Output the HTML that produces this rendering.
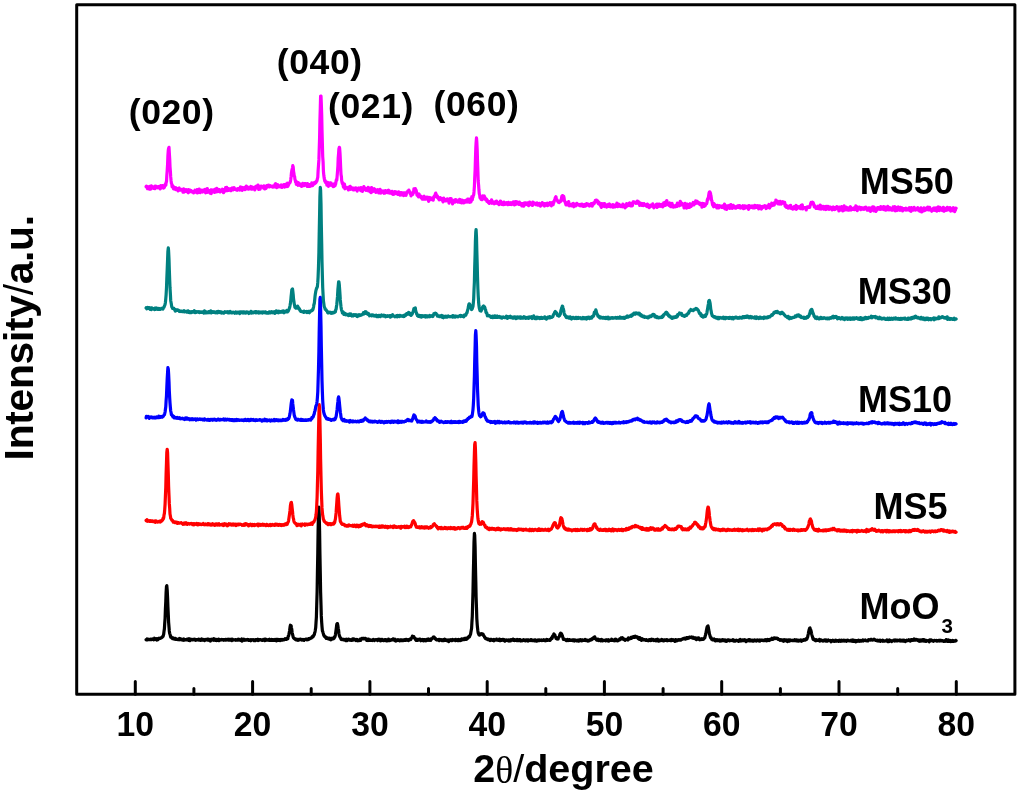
<!DOCTYPE html>
<html><head><meta charset="utf-8"><style>
html,body{margin:0;padding:0;background:#fff;}
svg{display:block;filter:blur(0.35px);}
text{font-family:"Liberation Sans",Arial,sans-serif;font-weight:bold;fill:#000;}
</style></head><body>
<svg width="1020" height="793" viewBox="0 0 1020 793">
<rect width="1020" height="793" fill="#fff"/>
<g fill="none" stroke-linejoin="round" stroke-linecap="round">
<path d="M146.1 639.6L146.4 639.8L146.8 639.6L147.1 638.9L147.5 639.8L147.8 639.6L148.2 639.2L148.6 639.7L148.9 639.6L149.3 639.6L149.6 639.4L150.0 639.6L150.3 639.1L150.7 639.3L151.0 639.2L151.4 639.6L151.7 639.4L152.1 639.3L152.4 639.0L152.8 639.2L153.1 639.3L153.5 639.2L153.8 639.8L154.2 639.7L154.5 638.2L154.9 638.5L155.2 639.2L155.6 639.0L155.9 639.3L156.3 639.2L156.6 640.0L157.0 638.6L157.3 638.9L157.7 639.8L158.1 639.2L158.4 639.2L158.8 638.6L159.1 638.1L159.5 638.7L159.8 638.6L160.2 638.0L160.5 638.1L160.9 638.1L161.2 637.6L161.6 637.7L161.9 637.5L162.3 637.2L162.6 636.5L163.0 636.4L163.3 635.6L163.7 634.0L164.0 631.4L164.4 628.8L164.7 623.7L165.1 618.0L165.4 609.4L165.8 601.4L166.1 592.5L166.5 586.2L166.8 585.7L167.2 590.2L167.6 598.2L167.9 606.5L168.3 614.8L168.6 622.1L169.0 627.0L169.3 630.9L169.7 633.6L170.0 634.2L170.4 636.0L170.7 637.1L171.1 637.0L171.4 637.1L171.8 638.0L172.1 638.1L172.5 638.5L172.8 638.2L173.2 637.9L173.5 638.5L173.9 638.5L174.2 639.1L174.6 638.9L174.9 638.3L175.3 638.5L175.6 639.4L176.0 639.4L176.4 638.9L176.7 639.2L177.1 639.4L177.4 639.4L177.8 639.6L178.1 639.4L178.5 639.3L178.8 639.3L179.2 639.8L179.5 638.5L179.9 639.4L180.2 639.4L180.6 638.9L180.9 639.6L181.3 639.2L181.6 639.8L182.0 639.5L182.3 639.8L182.7 640.0L183.0 639.7L183.4 639.2L183.7 638.9L184.1 640.3L184.4 639.5L184.8 639.3L185.1 639.6L185.5 639.5L185.9 639.9L186.2 639.6L186.6 639.6L186.9 639.3L187.3 639.8L187.6 639.2L188.0 639.9L188.3 640.2L188.7 639.0L189.0 638.7L189.4 639.9L189.7 640.7L190.1 639.3L190.4 639.2L190.8 639.9L191.1 639.3L191.5 639.5L191.8 639.5L192.2 639.9L192.5 639.5L192.9 639.8L193.2 639.6L193.6 639.4L193.9 639.6L194.3 639.3L194.6 639.7L195.0 639.3L195.4 639.3L195.7 640.3L196.1 639.7L196.4 639.7L196.8 639.9L197.1 639.6L197.5 639.6L197.8 639.9L198.2 639.8L198.5 639.3L198.9 640.1L199.2 639.5L199.6 639.3L199.9 639.4L200.3 639.6L200.6 640.4L201.0 639.3L201.3 639.8L201.7 638.9L202.0 639.8L202.4 640.1L202.7 639.7L203.1 639.5L203.4 639.9L203.8 640.1L204.1 640.0L204.5 640.6L204.9 639.9L205.2 639.5L205.6 639.7L205.9 639.8L206.3 639.8L206.6 639.8L207.0 639.9L207.3 639.1L207.7 640.1L208.0 639.6L208.4 639.3L208.7 640.1L209.1 640.3L209.4 640.0L209.8 639.9L210.1 639.4L210.5 641.0L210.8 640.2L211.2 639.4L211.5 639.5L211.9 639.8L212.2 639.2L212.6 639.9L212.9 639.6L213.3 640.3L213.6 640.2L214.0 638.7L214.4 639.8L214.7 639.2L215.1 640.3L215.4 639.9L215.8 640.1L216.1 639.4L216.5 640.6L216.8 640.6L217.2 639.4L217.5 640.0L217.9 639.6L218.2 639.8L218.6 639.3L218.9 640.6L219.3 639.5L219.6 639.7L220.0 640.1L220.3 639.6L220.7 639.8L221.0 639.6L221.4 639.8L221.7 639.4L222.1 639.7L222.4 639.8L222.8 639.7L223.1 639.9L223.5 639.7L223.9 640.2L224.2 639.7L224.6 639.8L224.9 639.6L225.3 639.7L225.6 639.4L226.0 640.1L226.3 639.4L226.7 639.6L227.0 640.0L227.4 640.0L227.7 639.7L228.1 639.1L228.4 640.1L228.8 640.0L229.1 639.3L229.5 640.2L229.8 639.6L230.2 639.4L230.5 639.9L230.9 639.8L231.2 640.0L231.6 639.3L231.9 640.6L232.3 639.7L232.6 639.3L233.0 640.1L233.4 639.8L233.7 640.0L234.1 639.8L234.4 639.9L234.8 640.0L235.1 639.6L235.5 640.2L235.8 639.7L236.2 639.6L236.5 639.9L236.9 640.1L237.2 639.8L237.6 639.6L237.9 640.2L238.3 639.2L238.6 639.5L239.0 639.9L239.3 639.4L239.7 639.9L240.0 639.9L240.4 640.3L240.7 639.6L241.1 639.7L241.4 640.1L241.8 638.9L242.1 641.2L242.5 639.7L242.9 639.6L243.2 640.3L243.6 639.9L243.9 639.2L244.3 640.2L244.6 640.3L245.0 639.8L245.3 639.8L245.7 640.1L246.0 639.6L246.4 640.1L246.7 640.0L247.1 639.7L247.4 639.4L247.8 639.9L248.1 639.6L248.5 640.4L248.8 640.0L249.2 640.3L249.5 640.0L249.9 640.1L250.2 639.6L250.6 640.2L250.9 640.7L251.3 639.8L251.6 639.7L252.0 639.9L252.4 639.8L252.7 639.7L253.1 640.0L253.4 639.8L253.8 640.5L254.1 640.0L254.5 640.1L254.8 640.3L255.2 639.8L255.5 640.5L255.9 639.7L256.2 639.6L256.6 639.8L256.9 639.9L257.3 639.4L257.6 640.0L258.0 639.3L258.3 640.5L258.7 639.9L259.0 639.7L259.4 639.6L259.7 639.8L260.1 639.9L260.4 639.6L260.8 639.6L261.1 639.9L261.5 639.8L261.9 640.4L262.2 640.4L262.6 640.0L262.9 640.2L263.3 639.4L263.6 640.2L264.0 640.0L264.3 640.2L264.7 640.6L265.0 639.1L265.4 640.1L265.7 639.5L266.1 640.2L266.4 639.5L266.8 639.8L267.1 640.1L267.5 640.2L267.8 640.0L268.2 639.7L268.5 639.8L268.9 640.3L269.2 640.0L269.6 639.3L269.9 640.3L270.3 640.1L270.6 640.3L271.0 639.8L271.4 640.3L271.7 639.5L272.1 640.2L272.4 639.8L272.8 640.2L273.1 640.4L273.5 639.7L273.8 639.9L274.2 640.0L274.5 640.4L274.9 640.2L275.2 639.5L275.6 640.1L275.9 640.2L276.3 640.8L276.6 639.3L277.0 639.7L277.3 640.5L277.7 639.4L278.0 639.4L278.4 640.1L278.7 640.3L279.1 639.6L279.4 640.1L279.8 639.9L280.1 640.5L280.5 639.9L280.9 640.2L281.2 639.5L281.6 639.7L281.9 639.8L282.3 640.2L282.6 640.0L283.0 639.4L283.3 640.0L283.7 640.0L284.0 639.6L284.4 639.5L284.7 639.5L285.1 638.8L285.4 639.5L285.8 639.5L286.1 638.9L286.5 639.4L286.8 638.4L287.2 638.5L287.5 638.1L287.9 638.5L288.2 636.2L288.6 635.8L288.9 634.4L289.3 632.2L289.6 630.4L290.0 627.4L290.4 625.2L290.7 625.8L291.1 625.6L291.4 627.6L291.8 629.4L292.1 632.5L292.5 634.3L292.8 635.3L293.2 637.1L293.5 637.7L293.9 638.2L294.2 638.6L294.6 638.8L294.9 639.3L295.3 639.3L295.6 639.1L296.0 639.8L296.3 639.2L296.7 639.6L297.0 639.7L297.4 640.1L297.7 639.3L298.1 640.3L298.4 639.7L298.8 639.5L299.1 639.3L299.5 639.8L299.9 639.6L300.2 639.2L300.6 639.2L300.9 639.4L301.3 639.3L301.6 640.0L302.0 640.1L302.3 639.9L302.7 639.7L303.0 639.4L303.4 639.6L303.7 639.9L304.1 640.3L304.4 639.8L304.8 639.3L305.1 639.4L305.5 639.2L305.8 639.0L306.2 639.2L306.5 639.3L306.9 639.9L307.2 639.2L307.6 639.6L307.9 639.7L308.3 639.0L308.6 639.5L309.0 639.1L309.4 638.5L309.7 638.7L310.1 638.5L310.4 638.2L310.8 638.1L311.1 638.1L311.5 638.0L311.8 637.2L312.2 637.3L312.5 636.4L312.9 636.8L313.2 636.5L313.6 635.8L313.9 635.2L314.3 634.6L314.6 633.1L315.0 631.9L315.3 630.3L315.7 627.6L316.0 622.8L316.4 616.8L316.7 605.7L317.1 592.1L317.4 574.1L317.8 552.5L318.1 530.7L318.5 513.4L318.9 507.2L319.2 514.3L319.6 531.1L319.9 552.6L320.3 573.5L320.6 591.9L321.0 604.8L321.3 615.9L321.7 622.7L322.0 626.6L322.4 630.9L322.7 631.4L323.1 632.9L323.4 633.8L323.8 635.5L324.1 635.3L324.5 636.4L324.8 636.8L325.2 637.1L325.5 636.7L325.9 637.3L326.2 638.4L326.6 637.4L326.9 637.8L327.3 638.2L327.6 638.7L328.0 638.6L328.4 638.9L328.7 638.2L329.1 639.1L329.4 639.0L329.8 638.2L330.1 639.5L330.5 639.8L330.8 638.6L331.2 638.9L331.5 639.5L331.9 638.3L332.2 638.1L332.6 638.3L332.9 638.5L333.3 638.4L333.6 638.7L334.0 638.3L334.3 637.2L334.7 637.2L335.0 636.6L335.4 634.8L335.7 632.7L336.1 629.8L336.4 627.5L336.8 624.3L337.1 623.7L337.5 623.7L337.9 625.9L338.2 628.3L338.6 630.3L338.9 633.2L339.3 635.6L339.6 636.1L340.0 637.3L340.3 637.8L340.7 638.0L341.0 639.2L341.4 639.6L341.7 639.5L342.1 639.4L342.4 639.4L342.8 639.6L343.1 639.2L343.5 639.9L343.8 640.0L344.2 640.0L344.5 639.5L344.9 639.8L345.2 639.7L345.6 640.5L345.9 639.9L346.3 639.1L346.6 640.0L347.0 640.6L347.4 640.1L347.7 640.2L348.1 639.9L348.4 639.1L348.8 639.2L349.1 639.4L349.5 639.9L349.8 640.1L350.2 640.2L350.5 639.8L350.9 640.4L351.2 639.9L351.6 639.7L351.9 640.3L352.3 639.6L352.6 638.9L353.0 639.6L353.3 640.0L353.7 638.8L354.0 639.9L354.4 639.9L354.7 639.4L355.1 639.4L355.4 639.8L355.8 639.8L356.1 640.5L356.5 640.1L356.9 639.4L357.2 639.6L357.6 640.3L357.9 640.7L358.3 640.1L358.6 640.0L359.0 640.6L359.3 639.8L359.7 639.7L360.0 639.2L360.4 639.4L360.7 640.4L361.1 638.8L361.4 639.2L361.8 638.5L362.1 638.9L362.5 639.0L362.8 638.4L363.2 638.6L363.5 638.5L363.9 638.3L364.2 638.8L364.6 638.6L364.9 638.3L365.3 638.3L365.6 638.4L366.0 639.1L366.4 639.0L366.7 640.4L367.1 640.2L367.4 639.5L367.8 639.6L368.1 640.5L368.5 639.1L368.8 639.7L369.2 640.3L369.5 639.6L369.9 639.8L370.2 639.9L370.6 640.3L370.9 640.1L371.3 640.2L371.6 640.3L372.0 640.1L372.3 640.5L372.7 639.8L373.0 639.5L373.4 639.4L373.7 639.5L374.1 639.9L374.4 640.5L374.8 640.2L375.1 639.9L375.5 639.7L375.9 639.9L376.2 640.0L376.6 639.9L376.9 639.6L377.3 640.0L377.6 640.6L378.0 639.3L378.3 640.1L378.7 639.3L379.0 640.2L379.4 639.9L379.7 639.3L380.1 640.2L380.4 640.9L380.8 640.2L381.1 640.6L381.5 640.1L381.8 639.3L382.2 640.4L382.5 640.0L382.9 639.6L383.2 640.5L383.6 640.3L383.9 640.0L384.3 640.5L384.7 639.8L385.0 640.4L385.4 639.8L385.7 640.4L386.1 639.7L386.4 640.8L386.8 640.3L387.1 640.8L387.5 639.9L387.8 640.0L388.2 640.5L388.5 639.1L388.9 639.8L389.2 640.6L389.6 640.4L389.9 640.6L390.3 640.1L390.6 640.4L391.0 639.9L391.3 639.6L391.7 639.5L392.0 640.0L392.4 640.0L392.7 639.9L393.1 638.8L393.4 639.4L393.8 640.0L394.2 640.3L394.5 640.0L394.9 639.8L395.2 639.3L395.6 641.0L395.9 639.7L396.3 640.9L396.6 640.8L397.0 640.3L397.3 640.0L397.7 640.2L398.0 639.7L398.4 640.3L398.7 640.2L399.1 640.4L399.4 640.6L399.8 640.9L400.1 640.0L400.5 640.6L400.8 639.9L401.2 639.8L401.5 639.9L401.9 639.8L402.2 640.6L402.6 640.5L402.9 640.7L403.3 640.2L403.7 640.3L404.0 639.9L404.4 639.7L404.7 640.3L405.1 640.2L405.4 639.7L405.8 640.4L406.1 639.4L406.5 640.0L406.8 639.8L407.2 639.9L407.5 639.6L407.9 640.4L408.2 640.3L408.6 640.5L408.9 640.0L409.3 639.4L409.6 639.7L410.0 639.2L410.3 639.7L410.7 639.7L411.0 639.0L411.4 638.1L411.7 637.7L412.1 637.3L412.4 636.1L412.8 636.3L413.2 636.3L413.5 636.3L413.9 636.8L414.2 637.7L414.6 637.9L414.9 638.4L415.3 639.4L415.6 639.5L416.0 640.3L416.3 639.4L416.7 639.1L417.0 640.3L417.4 640.4L417.7 639.7L418.1 639.4L418.4 640.0L418.8 639.4L419.1 639.9L419.5 639.2L419.8 640.0L420.2 639.2L420.5 640.0L420.9 640.7L421.2 640.0L421.6 640.4L421.9 639.9L422.3 639.8L422.7 639.5L423.0 640.5L423.4 640.1L423.7 640.8L424.1 639.6L424.4 640.0L424.8 640.1L425.1 640.7L425.5 640.8L425.8 639.8L426.2 639.6L426.5 639.4L426.9 640.6L427.2 640.0L427.6 639.8L427.9 640.0L428.3 639.0L428.6 639.3L429.0 640.4L429.3 640.1L429.7 640.0L430.0 639.5L430.4 640.0L430.7 640.4L431.1 639.0L431.4 639.3L431.8 638.9L432.2 638.8L432.5 638.3L432.9 637.8L433.2 637.1L433.6 637.2L433.9 636.9L434.3 637.3L434.6 637.7L435.0 638.4L435.3 638.3L435.7 638.8L436.0 639.6L436.4 639.4L436.7 639.5L437.1 640.1L437.4 640.0L437.8 640.0L438.1 640.0L438.5 639.5L438.8 640.2L439.2 640.6L439.5 640.3L439.9 639.4L440.2 640.2L440.6 639.7L440.9 640.0L441.3 640.1L441.7 639.6L442.0 640.6L442.4 640.1L442.7 640.4L443.1 640.4L443.4 640.6L443.8 640.6L444.1 639.5L444.5 640.1L444.8 639.2L445.2 639.9L445.5 640.4L445.9 640.5L446.2 640.6L446.6 639.9L446.9 640.2L447.3 640.1L447.6 640.6L448.0 640.7L448.3 639.9L448.7 641.6L449.0 640.1L449.4 639.9L449.7 640.3L450.1 640.4L450.4 640.3L450.8 639.8L451.2 640.6L451.5 640.1L451.9 640.7L452.2 640.6L452.6 639.5L452.9 639.6L453.3 639.6L453.6 640.1L454.0 640.0L454.3 640.1L454.7 639.7L455.0 640.1L455.4 640.5L455.7 639.4L456.1 639.9L456.4 640.0L456.8 639.9L457.1 639.8L457.5 640.6L457.8 640.4L458.2 640.2L458.5 639.5L458.9 640.7L459.2 639.9L459.6 639.6L459.9 639.6L460.3 639.5L460.7 640.6L461.0 639.8L461.4 639.7L461.7 638.8L462.1 639.9L462.4 639.1L462.8 639.0L463.1 639.7L463.5 639.0L463.8 639.7L464.2 639.7L464.5 638.5L464.9 639.1L465.2 638.4L465.6 638.9L465.9 639.2L466.3 638.2L466.6 639.3L467.0 638.3L467.3 637.8L467.7 638.0L468.0 638.1L468.4 637.0L468.7 637.2L469.1 636.3L469.4 636.8L469.8 635.8L470.2 634.9L470.5 634.5L470.9 632.2L471.2 630.5L471.6 628.3L471.9 622.7L472.3 616.1L472.6 605.4L473.0 591.6L473.3 575.4L473.7 558.0L474.0 542.3L474.4 533.4L474.7 535.3L475.1 546.5L475.4 563.8L475.8 581.3L476.1 596.8L476.5 608.2L476.8 618.3L477.2 624.3L477.5 627.8L477.9 631.0L478.2 632.9L478.6 633.8L478.9 634.6L479.3 635.0L479.7 635.1L480.0 634.8L480.4 633.8L480.7 634.1L481.1 634.2L481.4 633.6L481.8 633.8L482.1 633.9L482.5 633.8L482.8 634.9L483.2 634.3L483.5 635.7L483.9 635.8L484.2 636.3L484.6 637.4L484.9 637.4L485.3 638.4L485.6 638.0L486.0 638.7L486.3 638.6L486.7 639.0L487.0 639.0L487.4 638.8L487.7 639.6L488.1 639.0L488.4 639.1L488.8 639.9L489.2 640.0L489.5 639.9L489.9 639.8L490.2 640.6L490.6 639.3L490.9 639.5L491.3 639.4L491.6 640.2L492.0 640.0L492.3 640.3L492.7 640.3L493.0 639.8L493.4 639.6L493.7 639.5L494.1 640.8L494.4 640.4L494.8 640.2L495.1 639.9L495.5 639.9L495.8 639.9L496.2 639.9L496.5 639.1L496.9 640.0L497.2 639.9L497.6 640.2L497.9 640.2L498.3 640.4L498.7 640.1L499.0 640.4L499.4 639.1L499.7 639.7L500.1 640.8L500.4 639.6L500.8 640.0L501.1 640.4L501.5 639.8L501.8 640.4L502.2 639.6L502.5 639.4L502.9 639.6L503.2 639.5L503.6 640.2L503.9 640.0L504.3 640.3L504.6 639.8L505.0 641.2L505.3 640.1L505.7 640.2L506.0 640.4L506.4 640.1L506.7 639.9L507.1 640.2L507.4 640.6L507.8 640.5L508.2 640.6L508.5 640.0L508.9 639.9L509.2 641.0L509.6 640.1L509.9 640.4L510.3 640.5L510.6 640.8L511.0 639.7L511.3 640.0L511.7 640.1L512.0 640.1L512.4 639.3L512.7 640.2L513.1 639.1L513.4 640.4L513.8 640.5L514.1 640.5L514.5 639.8L514.8 640.6L515.2 639.9L515.5 639.8L515.9 639.9L516.2 639.9L516.6 640.3L516.9 640.6L517.3 639.4L517.7 640.0L518.0 640.6L518.4 640.3L518.7 640.5L519.1 639.7L519.4 640.6L519.8 639.6L520.1 640.3L520.5 640.8L520.8 641.0L521.2 640.5L521.5 640.6L521.9 640.0L522.2 640.1L522.6 640.7L522.9 640.3L523.3 640.2L523.6 639.7L524.0 640.3L524.3 640.5L524.7 640.0L525.0 640.1L525.4 640.9L525.7 640.3L526.1 640.2L526.4 639.8L526.8 640.0L527.2 640.2L527.5 640.8L527.9 640.0L528.2 641.0L528.6 639.9L528.9 640.1L529.3 640.6L529.6 640.2L530.0 639.9L530.3 640.2L530.7 640.5L531.0 639.6L531.4 640.2L531.7 640.2L532.1 640.1L532.4 640.6L532.8 640.0L533.1 640.1L533.5 640.3L533.8 640.6L534.2 640.2L534.5 640.9L534.9 639.9L535.2 640.8L535.6 639.9L535.9 640.2L536.3 640.4L536.7 641.1L537.0 640.6L537.4 640.1L537.7 640.8L538.1 640.2L538.4 639.9L538.8 640.4L539.1 640.3L539.5 640.6L539.8 640.0L540.2 640.4L540.5 640.5L540.9 640.4L541.2 640.2L541.6 640.0L541.9 640.6L542.3 640.3L542.6 640.4L543.0 640.1L543.3 640.2L543.7 639.8L544.0 640.2L544.4 640.5L544.7 640.2L545.1 640.5L545.4 640.3L545.8 640.7L546.2 640.1L546.5 639.5L546.9 640.3L547.2 640.0L547.6 639.7L547.9 640.3L548.3 640.1L548.6 640.2L549.0 639.8L549.3 640.0L549.7 639.9L550.0 640.4L550.4 639.3L550.7 639.4L551.1 639.2L551.4 638.0L551.8 637.6L552.1 638.5L552.5 636.3L552.8 636.5L553.2 635.2L553.5 634.7L553.9 633.9L554.2 634.3L554.6 635.4L554.9 635.1L555.3 636.6L555.7 637.2L556.0 638.4L556.4 637.9L556.7 638.9L557.1 639.0L557.4 638.6L557.8 637.9L558.1 639.0L558.5 637.4L558.8 637.1L559.2 636.9L559.5 636.1L559.9 634.3L560.2 633.8L560.6 633.2L560.9 633.7L561.3 634.6L561.6 633.7L562.0 635.8L562.3 635.3L562.7 637.3L563.0 637.6L563.4 639.4L563.7 639.1L564.1 639.0L564.4 639.3L564.8 639.5L565.2 639.9L565.5 639.8L565.9 640.2L566.2 640.6L566.6 640.3L566.9 639.6L567.3 639.4L567.6 639.8L568.0 640.5L568.3 640.0L568.7 639.9L569.0 640.2L569.4 639.6L569.7 639.7L570.1 640.4L570.4 640.1L570.8 640.0L571.1 640.3L571.5 640.0L571.8 640.0L572.2 640.1L572.5 640.5L572.9 640.3L573.2 639.8L573.6 640.1L573.9 640.5L574.3 641.0L574.7 639.8L575.0 640.4L575.4 640.2L575.7 640.6L576.1 640.5L576.4 640.9L576.8 640.5L577.1 640.1L577.5 640.1L577.8 640.4L578.2 640.4L578.5 641.2L578.9 641.0L579.2 639.8L579.6 640.4L579.9 639.8L580.3 639.6L580.6 640.6L581.0 640.5L581.3 639.9L581.7 640.9L582.0 639.9L582.4 639.8L582.7 640.5L583.1 640.4L583.4 640.2L583.8 640.3L584.2 640.4L584.5 640.2L584.9 640.2L585.2 639.5L585.6 639.7L585.9 640.5L586.3 640.0L586.6 640.5L587.0 640.7L587.3 640.1L587.7 640.3L588.0 641.0L588.4 640.5L588.7 640.9L589.1 640.8L589.4 640.4L589.8 640.0L590.1 639.7L590.5 639.5L590.8 640.1L591.2 639.9L591.5 639.4L591.9 639.6L592.2 638.7L592.6 639.0L592.9 638.2L593.3 637.8L593.7 637.5L594.0 637.3L594.4 638.4L594.7 636.9L595.1 638.0L595.4 638.8L595.8 639.0L596.1 638.9L596.5 640.0L596.8 639.2L597.2 639.2L597.5 640.1L597.9 639.4L598.2 639.1L598.6 640.5L598.9 640.4L599.3 640.5L599.6 640.0L600.0 640.3L600.3 639.8L600.7 640.9L601.0 640.5L601.4 640.5L601.7 639.5L602.1 640.6L602.5 640.9L602.8 640.7L603.2 640.6L603.5 640.3L603.9 640.1L604.2 640.5L604.6 640.4L604.9 640.4L605.3 640.2L605.6 640.9L606.0 639.8L606.3 640.3L606.7 640.0L607.0 640.7L607.4 640.8L607.7 640.8L608.1 640.6L608.4 639.7L608.8 641.1L609.1 640.5L609.5 640.2L609.8 640.3L610.2 640.1L610.5 640.4L610.9 640.4L611.2 640.1L611.6 639.2L612.0 640.2L612.3 640.4L612.7 640.5L613.0 640.2L613.4 640.4L613.7 640.6L614.1 640.0L614.4 640.8L614.8 639.4L615.1 639.7L615.5 639.8L615.8 639.2L616.2 639.8L616.5 640.7L616.9 640.6L617.2 640.2L617.6 640.8L617.9 640.1L618.3 639.8L618.6 640.0L619.0 639.8L619.3 640.0L619.7 638.9L620.0 639.7L620.4 638.9L620.7 639.2L621.1 637.9L621.5 638.1L621.8 638.2L622.2 638.5L622.5 637.7L622.9 639.0L623.2 638.8L623.6 638.6L623.9 639.5L624.3 639.3L624.6 639.8L625.0 640.4L625.3 639.8L625.7 639.3L626.0 639.3L626.4 639.7L626.7 639.5L627.1 639.0L627.4 639.0L627.8 639.5L628.1 640.0L628.5 637.9L628.8 639.2L629.2 638.7L629.5 638.9L629.9 638.8L630.2 638.4L630.6 637.8L631.0 637.5L631.3 637.2L631.7 638.3L632.0 637.5L632.4 637.3L632.7 637.2L633.1 636.7L633.4 637.2L633.8 637.5L634.1 637.4L634.5 636.3L634.8 637.4L635.2 636.6L635.5 636.2L635.9 636.5L636.2 636.7L636.6 637.1L636.9 636.9L637.3 636.8L637.6 637.4L638.0 638.5L638.3 637.6L638.7 638.2L639.0 638.2L639.4 639.4L639.7 637.7L640.1 639.0L640.5 638.2L640.8 638.6L641.2 638.9L641.5 640.4L641.9 638.9L642.2 638.6L642.6 639.9L642.9 639.2L643.3 639.5L643.6 639.6L644.0 639.8L644.3 639.7L644.7 639.9L645.0 640.0L645.4 640.3L645.7 639.8L646.1 639.7L646.4 639.6L646.8 640.3L647.1 640.1L647.5 640.3L647.8 640.3L648.2 640.8L648.5 640.2L648.9 640.5L649.2 639.7L649.6 639.7L650.0 640.1L650.3 639.7L650.7 640.5L651.0 639.7L651.4 640.3L651.7 639.2L652.1 639.8L652.4 640.1L652.8 640.1L653.1 639.5L653.5 640.3L653.8 640.6L654.2 640.5L654.5 640.0L654.9 640.0L655.2 639.8L655.6 640.5L655.9 640.9L656.3 640.1L656.6 639.6L657.0 640.4L657.3 640.6L657.7 639.2L658.0 640.3L658.4 641.2L658.7 640.6L659.1 640.5L659.5 640.5L659.8 640.7L660.2 639.9L660.5 640.0L660.9 640.5L661.2 640.0L661.6 640.4L661.9 639.5L662.3 640.6L662.6 640.6L663.0 640.3L663.3 640.4L663.7 640.9L664.0 639.9L664.4 639.9L664.7 639.9L665.1 640.1L665.4 639.9L665.8 640.3L666.1 640.0L666.5 639.7L666.8 639.7L667.2 640.8L667.5 640.3L667.9 640.2L668.2 640.3L668.6 640.2L669.0 640.6L669.3 640.5L669.7 640.0L670.0 639.9L670.4 639.8L670.7 639.7L671.1 640.8L671.4 639.9L671.8 639.4L672.1 639.9L672.5 639.9L672.8 640.3L673.2 639.8L673.5 640.4L673.9 640.3L674.2 640.7L674.6 641.0L674.9 641.3L675.3 640.7L675.6 639.6L676.0 639.9L676.3 640.1L676.7 640.9L677.0 640.3L677.4 640.5L677.7 639.9L678.1 640.1L678.5 640.2L678.8 639.6L679.2 640.1L679.5 640.2L679.9 639.6L680.2 640.0L680.6 640.2L680.9 639.5L681.3 639.5L681.6 639.3L682.0 639.1L682.3 639.3L682.7 639.0L683.0 638.9L683.4 638.7L683.7 638.3L684.1 638.4L684.4 638.8L684.8 638.1L685.1 638.3L685.5 639.1L685.8 638.8L686.2 637.9L686.5 638.4L686.9 637.8L687.2 638.6L687.6 637.6L688.0 637.8L688.3 638.2L688.7 637.3L689.0 638.1L689.4 637.2L689.7 637.6L690.1 637.3L690.4 637.4L690.8 637.5L691.1 637.4L691.5 637.0L691.8 637.8L692.2 637.8L692.5 638.1L692.9 638.2L693.2 637.2L693.6 638.3L693.9 638.4L694.3 637.7L694.6 638.4L695.0 638.7L695.3 638.0L695.7 637.8L696.0 638.3L696.4 639.6L696.7 638.7L697.1 638.2L697.5 638.6L697.8 638.4L698.2 638.7L698.5 639.0L698.9 638.0L699.2 639.2L699.6 639.7L699.9 639.1L700.3 639.1L700.6 639.7L701.0 638.8L701.3 638.8L701.7 638.7L702.0 639.2L702.4 639.4L702.7 639.1L703.1 639.3L703.4 639.3L703.8 639.0L704.1 638.1L704.5 637.9L704.8 637.8L705.2 636.0L705.5 635.0L705.9 633.4L706.2 631.6L706.6 629.2L707.0 627.2L707.3 627.3L707.7 626.1L708.0 626.0L708.4 627.7L708.7 630.0L709.1 631.6L709.4 633.9L709.8 635.0L710.1 636.4L710.5 637.5L710.8 638.1L711.2 637.8L711.5 639.1L711.9 639.4L712.2 639.7L712.6 639.2L712.9 639.9L713.3 639.9L713.6 639.2L714.0 639.0L714.3 640.2L714.7 639.6L715.0 640.5L715.4 640.9L715.7 639.9L716.1 639.9L716.5 640.2L716.8 640.5L717.2 639.7L717.5 640.7L717.9 640.6L718.2 640.5L718.6 640.0L718.9 640.6L719.3 640.6L719.6 639.8L720.0 641.1L720.3 640.2L720.7 640.5L721.0 640.1L721.4 640.5L721.7 640.8L722.1 640.0L722.4 639.7L722.8 640.2L723.1 639.8L723.5 640.1L723.8 640.3L724.2 640.4L724.5 640.9L724.9 640.0L725.2 640.5L725.6 640.2L726.0 640.9L726.3 641.4L726.7 640.5L727.0 641.1L727.4 640.2L727.7 639.8L728.1 639.9L728.4 639.8L728.8 640.0L729.1 640.3L729.5 640.9L729.8 640.7L730.2 640.6L730.5 640.3L730.9 640.2L731.2 640.5L731.6 640.5L731.9 640.6L732.3 640.6L732.6 640.4L733.0 639.7L733.3 640.0L733.7 640.1L734.0 641.1L734.4 640.3L734.7 640.7L735.1 641.0L735.5 640.6L735.8 640.3L736.2 640.3L736.5 640.1L736.9 640.6L737.2 640.9L737.6 640.7L737.9 640.8L738.3 640.8L738.6 641.3L739.0 640.2L739.3 640.5L739.7 640.8L740.0 641.0L740.4 639.5L740.7 640.3L741.1 640.4L741.4 640.1L741.8 640.8L742.1 640.6L742.5 640.3L742.8 639.8L743.2 640.0L743.5 640.1L743.9 640.7L744.2 640.0L744.6 639.7L745.0 639.9L745.3 640.3L745.7 641.2L746.0 641.5L746.4 640.3L746.7 640.9L747.1 641.0L747.4 641.0L747.8 640.4L748.1 640.0L748.5 640.3L748.8 639.7L749.2 640.6L749.5 640.8L749.9 639.7L750.2 640.5L750.6 640.6L750.9 641.0L751.3 641.0L751.6 640.8L752.0 640.2L752.3 640.3L752.7 641.0L753.0 640.2L753.4 640.5L753.7 641.1L754.1 640.5L754.5 639.9L754.8 640.4L755.2 640.7L755.5 640.4L755.9 640.9L756.2 641.0L756.6 640.2L756.9 640.3L757.3 640.4L757.6 640.0L758.0 640.6L758.3 640.4L758.7 640.8L759.0 640.2L759.4 640.1L759.7 641.2L760.1 640.1L760.4 640.2L760.8 640.1L761.1 640.3L761.5 640.1L761.8 640.4L762.2 640.1L762.5 640.2L762.9 640.5L763.2 640.7L763.6 640.6L764.0 640.1L764.3 640.5L764.7 640.3L765.0 640.3L765.4 639.6L765.7 640.5L766.1 640.2L766.4 640.9L766.8 640.4L767.1 639.7L767.5 639.5L767.8 640.5L768.2 639.6L768.5 640.1L768.9 639.7L769.2 640.5L769.6 639.6L769.9 640.1L770.3 639.9L770.6 639.0L771.0 639.0L771.3 639.5L771.7 638.8L772.0 638.3L772.4 639.0L772.7 639.4L773.1 638.3L773.5 638.8L773.8 638.1L774.2 638.6L774.5 638.0L774.9 638.6L775.2 638.4L775.6 638.1L775.9 638.4L776.3 638.2L776.6 638.1L777.0 638.3L777.3 638.8L777.7 638.5L778.0 639.3L778.4 639.5L778.7 639.6L779.1 639.3L779.4 639.6L779.8 639.7L780.1 640.3L780.5 639.6L780.8 639.8L781.2 640.0L781.5 640.1L781.9 639.9L782.2 640.0L782.6 640.7L783.0 640.0L783.3 640.7L783.7 641.2L784.0 640.9L784.4 639.7L784.7 640.7L785.1 640.6L785.4 640.6L785.8 639.8L786.1 640.7L786.5 640.0L786.8 641.0L787.2 640.9L787.5 641.5L787.9 640.3L788.2 639.9L788.6 640.9L788.9 640.8L789.3 640.3L789.6 641.0L790.0 640.8L790.3 640.0L790.7 640.4L791.0 640.3L791.4 640.5L791.7 640.6L792.1 640.2L792.5 640.4L792.8 640.7L793.2 640.5L793.5 640.4L793.9 640.4L794.2 640.5L794.6 639.7L794.9 640.6L795.3 640.1L795.6 640.5L796.0 639.9L796.3 640.9L796.7 640.6L797.0 639.9L797.4 640.6L797.7 640.2L798.1 641.2L798.4 640.6L798.8 640.1L799.1 640.5L799.5 640.4L799.8 640.9L800.2 640.5L800.5 640.6L800.9 639.9L801.2 640.7L801.6 641.2L802.0 640.6L802.3 640.3L802.7 640.3L803.0 639.9L803.4 640.3L803.7 639.7L804.1 640.1L804.4 639.9L804.8 639.6L805.1 640.1L805.5 639.1L805.8 639.5L806.2 638.7L806.5 639.6L806.9 639.1L807.2 637.9L807.6 637.3L807.9 635.6L808.3 634.1L808.6 632.1L809.0 630.3L809.3 629.3L809.7 628.1L810.0 628.0L810.4 629.1L810.8 630.1L811.1 631.1L811.5 633.3L811.8 634.6L812.2 636.1L812.5 636.8L812.9 638.6L813.2 639.4L813.6 638.7L813.9 639.7L814.3 639.9L814.6 639.4L815.0 640.0L815.3 640.6L815.7 640.4L816.0 640.8L816.4 639.7L816.7 640.0L817.1 640.4L817.4 640.5L817.8 640.4L818.1 640.2L818.5 640.2L818.8 640.2L819.2 640.6L819.5 639.3L819.9 641.1L820.3 640.3L820.6 639.9L821.0 640.7L821.3 639.9L821.7 640.7L822.0 640.4L822.4 640.8L822.7 640.8L823.1 641.1L823.4 640.3L823.8 640.4L824.1 640.5L824.5 640.0L824.8 640.8L825.2 640.6L825.5 640.0L825.9 641.1L826.2 641.1L826.6 640.1L826.9 640.8L827.3 641.1L827.6 640.9L828.0 640.2L828.3 640.0L828.7 640.5L829.0 640.4L829.4 640.6L829.8 640.6L830.1 640.8L830.5 640.4L830.8 640.5L831.2 641.8L831.5 640.6L831.9 640.9L832.2 640.7L832.6 640.7L832.9 640.3L833.3 640.8L833.6 640.6L834.0 640.9L834.3 641.4L834.7 640.7L835.0 640.9L835.4 640.2L835.7 640.7L836.1 641.2L836.4 640.6L836.8 640.4L837.1 640.7L837.5 640.6L837.8 640.5L838.2 640.5L838.5 641.4L838.9 640.3L839.3 640.5L839.6 640.4L840.0 641.1L840.3 640.5L840.7 641.2L841.0 640.7L841.4 640.6L841.7 640.1L842.1 641.1L842.4 640.9L842.8 640.8L843.1 640.6L843.5 640.5L843.8 640.1L844.2 641.0L844.5 640.8L844.9 640.5L845.2 640.4L845.6 640.7L845.9 640.6L846.3 641.3L846.6 641.0L847.0 640.4L847.3 640.2L847.7 640.6L848.0 640.3L848.4 640.7L848.8 640.8L849.1 640.9L849.5 640.8L849.8 640.6L850.2 640.9L850.5 640.3L850.9 640.6L851.2 641.0L851.6 640.8L851.9 640.1L852.3 640.2L852.6 640.0L853.0 641.4L853.3 640.0L853.7 640.6L854.0 641.4L854.4 641.1L854.7 641.2L855.1 640.5L855.4 641.0L855.8 641.9L856.1 640.6L856.5 640.8L856.8 640.5L857.2 640.6L857.5 640.8L857.9 641.2L858.3 640.3L858.6 640.1L859.0 640.7L859.3 640.7L859.7 641.2L860.0 640.9L860.4 640.4L860.7 640.9L861.1 641.1L861.4 640.8L861.8 640.5L862.1 640.9L862.5 640.5L862.8 639.9L863.2 641.1L863.5 640.1L863.9 640.5L864.2 640.5L864.6 640.4L864.9 640.4L865.3 640.0L865.6 640.7L866.0 640.5L866.3 640.5L866.7 640.9L867.0 640.8L867.4 640.9L867.8 641.0L868.1 640.4L868.5 639.6L868.8 640.2L869.2 640.1L869.5 640.0L869.9 639.7L870.2 639.5L870.6 640.1L870.9 640.1L871.3 639.3L871.6 639.9L872.0 639.6L872.3 639.6L872.7 640.0L873.0 639.8L873.4 639.6L873.7 639.9L874.1 639.2L874.4 639.8L874.8 639.9L875.1 639.6L875.5 640.3L875.8 640.4L876.2 640.1L876.5 640.3L876.9 640.7L877.3 640.9L877.6 640.2L878.0 640.6L878.3 641.0L878.7 640.5L879.0 640.3L879.4 640.3L879.7 640.5L880.1 640.2L880.4 641.4L880.8 640.4L881.1 640.8L881.5 640.7L881.8 640.9L882.2 640.5L882.5 640.1L882.9 641.3L883.2 640.6L883.6 640.7L883.9 640.7L884.3 641.2L884.6 641.0L885.0 641.1L885.3 641.0L885.7 640.7L886.0 640.8L886.4 640.4L886.8 639.9L887.1 640.6L887.5 640.3L887.8 641.7L888.2 641.3L888.5 641.2L888.9 640.5L889.2 641.5L889.6 640.0L889.9 640.2L890.3 640.4L890.6 640.3L891.0 640.7L891.3 640.8L891.7 641.5L892.0 641.1L892.4 641.2L892.7 640.9L893.1 640.6L893.4 640.4L893.8 640.1L894.1 640.3L894.5 640.5L894.8 641.0L895.2 640.0L895.5 640.1L895.9 640.8L896.3 640.3L896.6 640.8L897.0 640.5L897.3 640.4L897.7 640.2L898.0 640.7L898.4 640.4L898.7 640.4L899.1 640.4L899.4 640.8L899.8 640.8L900.1 640.0L900.5 640.6L900.8 640.8L901.2 641.1L901.5 641.0L901.9 640.8L902.2 640.2L902.6 640.4L902.9 641.0L903.3 640.4L903.6 641.1L904.0 641.2L904.3 640.2L904.7 640.8L905.0 640.6L905.4 641.5L905.8 641.0L906.1 640.4L906.5 640.8L906.8 640.2L907.2 640.5L907.5 640.7L907.9 640.6L908.2 640.7L908.6 640.1L908.9 639.7L909.3 640.3L909.6 640.0L910.0 640.0L910.3 641.1L910.7 640.7L911.0 640.1L911.4 639.5L911.7 639.5L912.1 640.1L912.4 640.3L912.8 639.7L913.1 639.9L913.5 639.9L913.8 640.2L914.2 639.0L914.5 639.8L914.9 639.9L915.3 640.2L915.6 640.0L916.0 639.5L916.3 639.8L916.7 639.5L917.0 640.2L917.4 640.3L917.7 640.5L918.1 639.9L918.4 639.9L918.8 641.0L919.1 640.5L919.5 641.2L919.8 640.7L920.2 640.0L920.5 640.9L920.9 641.1L921.2 640.4L921.6 639.9L921.9 640.9L922.3 640.6L922.6 640.8L923.0 639.6L923.3 640.9L923.7 639.6L924.0 640.4L924.4 641.1L924.8 640.0L925.1 640.0L925.5 640.5L925.8 641.4L926.2 641.4L926.5 640.5L926.9 641.1L927.2 641.0L927.6 640.8L927.9 640.9L928.3 640.4L928.6 641.1L929.0 641.2L929.3 641.8L929.7 641.1L930.0 639.8L930.4 640.3L930.7 640.9L931.1 640.8L931.4 640.0L931.8 640.7L932.1 640.6L932.5 640.7L932.8 640.7L933.2 641.1L933.5 641.3L933.9 641.0L934.3 640.3L934.6 640.4L935.0 640.5L935.3 640.7L935.7 640.6L936.0 640.6L936.4 640.4L936.7 641.1L937.1 641.1L937.4 641.1L937.8 640.7L938.1 640.9L938.5 640.4L938.8 640.4L939.2 640.5L939.5 641.0L939.9 640.7L940.2 640.3L940.6 640.8L940.9 640.9L941.3 640.8L941.6 640.5L942.0 640.8L942.3 640.6L942.7 640.6L943.0 640.7L943.4 641.1L943.8 641.5L944.1 641.4L944.5 641.0L944.8 640.6L945.2 640.7L945.5 640.7L945.9 641.2L946.2 639.7L946.6 640.9L946.9 640.0L947.3 640.8L947.6 641.3L948.0 640.4L948.3 639.9L948.7 641.3L949.0 641.4L949.4 641.0L949.7 641.3L950.1 640.5L950.4 641.3L950.8 641.5L951.1 641.0L951.5 640.9L951.8 641.3L952.2 641.2L952.5 640.5L952.9 641.3L953.3 641.1L953.6 640.9L954.0 641.3L954.3 641.2L954.7 641.1L955.0 640.6L955.4 641.1L955.7 640.3L956.1 640.7" stroke="#000000" stroke-width="3.2"/>
<path d="M146.1 520.5L146.4 520.2L146.8 520.3L147.1 519.6L147.5 521.3L147.8 521.1L148.2 520.6L148.6 521.1L148.9 520.9L149.3 520.6L149.6 521.3L150.0 520.8L150.3 520.9L150.7 520.7L151.0 521.3L151.4 521.1L151.7 521.4L152.1 521.0L152.4 521.3L152.8 520.9L153.1 521.7L153.5 521.4L153.8 521.5L154.2 521.6L154.5 521.1L154.9 521.8L155.2 522.3L155.6 520.9L155.9 520.9L156.3 521.0L156.6 521.9L157.0 521.7L157.3 522.1L157.7 521.9L158.1 521.7L158.4 521.7L158.8 521.5L159.1 521.9L159.5 521.1L159.8 521.3L160.2 521.5L160.5 522.0L160.9 520.8L161.2 520.5L161.6 520.5L161.9 520.8L162.3 520.0L162.6 520.2L163.0 518.4L163.3 518.9L163.7 517.8L164.0 515.2L164.4 513.3L164.7 509.9L165.1 503.9L165.4 496.4L165.8 487.0L166.1 474.4L166.5 462.2L166.8 452.5L167.2 449.3L167.6 452.8L167.9 462.3L168.3 474.3L168.6 486.4L169.0 495.8L169.3 503.4L169.7 508.7L170.0 514.0L170.4 516.0L170.7 518.2L171.1 518.7L171.4 519.2L171.8 520.2L172.1 520.4L172.5 520.3L172.8 520.8L173.2 522.1L173.5 521.7L173.9 521.9L174.2 521.8L174.6 521.8L174.9 522.6L175.3 522.3L175.6 522.1L176.0 522.5L176.4 522.2L176.7 522.7L177.1 523.2L177.4 522.5L177.8 523.4L178.1 522.6L178.5 523.0L178.8 522.7L179.2 523.0L179.5 523.1L179.9 523.0L180.2 522.9L180.6 522.9L180.9 522.9L181.3 522.6L181.6 523.2L182.0 523.5L182.3 523.7L182.7 523.7L183.0 524.4L183.4 523.6L183.7 523.3L184.1 524.2L184.4 523.1L184.8 523.9L185.1 523.2L185.5 523.7L185.9 522.8L186.2 524.0L186.6 523.6L186.9 523.3L187.3 524.4L187.6 524.0L188.0 523.8L188.3 523.5L188.7 523.8L189.0 523.7L189.4 524.1L189.7 524.2L190.1 523.6L190.4 523.6L190.8 523.7L191.1 523.4L191.5 523.7L191.8 523.9L192.2 524.2L192.5 524.5L192.9 523.7L193.2 524.2L193.6 523.8L193.9 524.9L194.3 524.0L194.6 524.3L195.0 523.7L195.4 523.8L195.7 524.2L196.1 524.0L196.4 524.3L196.8 523.5L197.1 524.5L197.5 523.8L197.8 524.9L198.2 524.1L198.5 524.7L198.9 523.7L199.2 524.5L199.6 523.9L199.9 524.1L200.3 524.3L200.6 524.2L201.0 524.4L201.3 524.6L201.7 524.6L202.0 524.3L202.4 523.8L202.7 524.0L203.1 524.3L203.4 523.5L203.8 524.7L204.1 524.3L204.5 524.3L204.9 524.8L205.2 524.7L205.6 524.5L205.9 524.0L206.3 524.5L206.6 524.5L207.0 524.1L207.3 524.8L207.7 524.6L208.0 523.6L208.4 524.5L208.7 523.9L209.1 524.9L209.4 524.8L209.8 524.0L210.1 524.1L210.5 524.5L210.8 524.4L211.2 525.1L211.5 524.8L211.9 524.3L212.2 524.7L212.6 523.7L212.9 524.6L213.3 524.8L213.6 524.4L214.0 524.2L214.4 524.7L214.7 525.3L215.1 524.6L215.4 524.1L215.8 525.1L216.1 523.8L216.5 524.7L216.8 524.3L217.2 524.9L217.5 524.2L217.9 525.1L218.2 524.7L218.6 523.8L218.9 523.7L219.3 524.4L219.6 525.1L220.0 524.6L220.3 524.6L220.7 524.5L221.0 524.9L221.4 524.7L221.7 524.7L222.1 524.2L222.4 525.1L222.8 525.1L223.1 524.1L223.5 525.5L223.9 524.9L224.2 524.4L224.6 523.8L224.9 524.9L225.3 524.8L225.6 524.4L226.0 523.9L226.3 525.1L226.7 524.4L227.0 524.4L227.4 525.8L227.7 525.5L228.1 525.0L228.4 524.5L228.8 524.9L229.1 523.7L229.5 524.7L229.8 524.3L230.2 524.1L230.5 524.0L230.9 524.9L231.2 524.7L231.6 524.7L231.9 525.0L232.3 524.3L232.6 524.2L233.0 524.0L233.4 524.6L233.7 525.0L234.1 524.6L234.4 525.0L234.8 524.2L235.1 524.5L235.5 524.4L235.8 524.2L236.2 525.5L236.5 525.1L236.9 524.4L237.2 524.4L237.6 524.7L237.9 524.2L238.3 524.9L238.6 524.2L239.0 524.6L239.3 524.3L239.7 524.6L240.0 524.2L240.4 524.1L240.7 524.4L241.1 524.5L241.4 524.6L241.8 524.8L242.1 525.4L242.5 525.1L242.9 524.7L243.2 525.1L243.6 524.5L243.9 525.4L244.3 525.0L244.6 524.2L245.0 525.1L245.3 525.1L245.7 523.7L246.0 524.5L246.4 524.6L246.7 524.0L247.1 524.4L247.4 524.4L247.8 525.0L248.1 524.9L248.5 525.9L248.8 524.7L249.2 525.3L249.5 524.9L249.9 524.9L250.2 524.4L250.6 524.1L250.9 524.5L251.3 525.2L251.6 525.5L252.0 525.1L252.4 525.1L252.7 524.5L253.1 525.5L253.4 525.4L253.8 524.7L254.1 524.9L254.5 524.5L254.8 525.5L255.2 525.0L255.5 524.8L255.9 525.1L256.2 525.1L256.6 524.7L256.9 524.4L257.3 524.4L257.6 524.2L258.0 525.1L258.3 525.8L258.7 524.2L259.0 525.0L259.4 525.1L259.7 524.5L260.1 525.0L260.4 524.5L260.8 525.4L261.1 524.7L261.5 525.0L261.9 525.2L262.2 524.8L262.6 524.2L262.9 524.7L263.3 525.2L263.6 524.9L264.0 525.0L264.3 524.5L264.7 525.0L265.0 525.2L265.4 525.0L265.7 525.7L266.1 524.9L266.4 524.5L266.8 524.3L267.1 525.4L267.5 524.9L267.8 525.4L268.2 525.1L268.5 525.6L268.9 525.5L269.2 524.8L269.6 525.1L269.9 525.4L270.3 524.5L270.6 525.6L271.0 525.5L271.4 525.4L271.7 524.9L272.1 525.1L272.4 524.5L272.8 525.0L273.1 524.7L273.5 525.0L273.8 524.8L274.2 525.1L274.5 525.4L274.9 524.4L275.2 525.3L275.6 524.2L275.9 524.1L276.3 524.9L276.6 525.0L277.0 525.1L277.3 524.3L277.7 524.9L278.0 525.0L278.4 525.4L278.7 524.9L279.1 525.1L279.4 524.5L279.8 524.8L280.1 524.7L280.5 525.2L280.9 524.5L281.2 524.5L281.6 525.1L281.9 525.5L282.3 524.9L282.6 524.9L283.0 524.6L283.3 525.1L283.7 524.9L284.0 525.3L284.4 524.7L284.7 524.1L285.1 524.2L285.4 524.0L285.8 523.8L286.1 524.7L286.5 524.3L286.8 523.3L287.2 524.3L287.5 523.3L287.9 522.3L288.2 522.0L288.6 520.6L288.9 518.5L289.3 515.8L289.6 513.7L290.0 510.4L290.4 505.8L290.7 504.1L291.1 502.5L291.4 502.4L291.8 504.8L292.1 507.8L292.5 511.1L292.8 514.5L293.2 517.9L293.5 518.9L293.9 521.1L294.2 522.2L294.6 522.5L294.9 523.1L295.3 523.1L295.6 523.5L296.0 524.1L296.3 524.3L296.7 523.9L297.0 525.6L297.4 524.2L297.7 524.6L298.1 524.5L298.4 524.4L298.8 525.2L299.1 524.5L299.5 525.2L299.9 525.2L300.2 524.3L300.6 525.2L300.9 524.5L301.3 525.9L301.6 524.6L302.0 524.4L302.3 524.0L302.7 524.3L303.0 524.5L303.4 524.4L303.7 524.3L304.1 524.5L304.4 524.7L304.8 525.3L305.1 524.0L305.5 524.5L305.8 524.3L306.2 524.0L306.5 524.1L306.9 524.2L307.2 524.8L307.6 524.4L307.9 524.2L308.3 524.6L308.6 524.5L309.0 524.2L309.4 524.4L309.7 523.8L310.1 524.3L310.4 524.1L310.8 523.7L311.1 523.2L311.5 524.2L311.8 523.4L312.2 524.4L312.5 522.7L312.9 523.0L313.2 522.2L313.6 522.1L313.9 521.9L314.3 520.8L314.6 520.4L315.0 519.7L315.3 518.6L315.7 517.2L316.0 515.1L316.4 511.5L316.7 505.8L317.1 497.5L317.4 485.6L317.8 470.6L318.1 452.2L318.5 432.9L318.9 414.9L319.2 404.7L319.6 407.6L319.9 420.0L320.3 438.9L320.6 458.8L321.0 476.5L321.3 489.4L321.7 500.2L322.0 507.9L322.4 512.4L322.7 515.3L323.1 517.4L323.4 519.5L323.8 519.8L324.1 521.0L324.5 521.6L324.8 521.6L325.2 522.4L325.5 522.4L325.9 522.6L326.2 522.6L326.6 523.6L326.9 523.3L327.3 523.4L327.6 523.3L328.0 524.6L328.4 524.3L328.7 524.0L329.1 523.8L329.4 523.6L329.8 524.3L330.1 524.4L330.5 523.7L330.8 524.7L331.2 524.6L331.5 523.8L331.9 524.0L332.2 524.0L332.6 524.1L332.9 523.9L333.3 523.1L333.6 524.1L334.0 523.3L334.3 523.2L334.7 522.5L335.0 520.7L335.4 519.1L335.7 516.5L336.1 512.9L336.4 508.0L336.8 502.7L337.1 498.1L337.5 494.4L337.9 494.0L338.2 496.0L338.6 501.4L338.9 506.1L339.3 511.1L339.6 515.3L340.0 518.5L340.3 521.2L340.7 522.0L341.0 522.3L341.4 523.5L341.7 523.6L342.1 524.3L342.4 524.1L342.8 524.3L343.1 524.5L343.5 524.6L343.8 524.2L344.2 524.8L344.5 525.1L344.9 525.7L345.2 525.1L345.6 525.2L345.9 525.6L346.3 525.6L346.6 526.1L347.0 525.7L347.4 525.5L347.7 526.1L348.1 526.2L348.4 525.4L348.8 525.7L349.1 525.0L349.5 525.5L349.8 525.3L350.2 525.6L350.5 525.5L350.9 525.7L351.2 525.7L351.6 526.0L351.9 525.9L352.3 525.6L352.6 525.3L353.0 526.3L353.3 526.4L353.7 525.6L354.0 526.1L354.4 525.2L354.7 525.2L355.1 525.7L355.4 526.5L355.8 525.5L356.1 525.5L356.5 526.5L356.9 525.1L357.2 526.1L357.6 526.1L357.9 525.8L358.3 525.9L358.6 526.9L359.0 525.4L359.3 525.7L359.7 525.7L360.0 525.5L360.4 525.2L360.7 526.3L361.1 525.6L361.4 524.7L361.8 525.0L362.1 525.3L362.5 525.1L362.8 524.2L363.2 524.5L363.5 524.5L363.9 524.4L364.2 524.4L364.6 523.5L364.9 525.0L365.3 524.5L365.6 525.3L366.0 525.9L366.4 524.9L366.7 524.7L367.1 525.7L367.4 525.5L367.8 525.5L368.1 525.4L368.5 526.6L368.8 525.8L369.2 525.5L369.5 525.9L369.9 525.7L370.2 526.3L370.6 526.1L370.9 525.8L371.3 526.5L371.6 526.0L372.0 526.6L372.3 526.8L372.7 526.2L373.0 526.1L373.4 526.5L373.7 526.7L374.1 526.4L374.4 526.5L374.8 526.4L375.1 526.6L375.5 526.7L375.9 526.2L376.2 526.3L376.6 526.5L376.9 526.2L377.3 526.6L377.6 526.7L378.0 526.5L378.3 526.3L378.7 526.2L379.0 527.3L379.4 526.9L379.7 526.1L380.1 526.3L380.4 527.3L380.8 527.2L381.1 526.7L381.5 527.1L381.8 526.0L382.2 526.6L382.5 527.0L382.9 525.9L383.2 526.4L383.6 527.0L383.9 527.1L384.3 526.5L384.7 526.8L385.0 527.4L385.4 526.6L385.7 526.2L386.1 526.7L386.4 526.6L386.8 527.3L387.1 526.8L387.5 526.5L387.8 527.8L388.2 526.6L388.5 527.0L388.9 527.1L389.2 527.1L389.6 526.9L389.9 527.1L390.3 526.8L390.6 526.3L391.0 526.8L391.3 526.8L391.7 526.8L392.0 527.0L392.4 526.7L392.7 527.4L393.1 527.6L393.4 526.1L393.8 526.9L394.2 526.7L394.5 525.9L394.9 527.1L395.2 526.7L395.6 526.8L395.9 526.7L396.3 527.4L396.6 527.5L397.0 527.1L397.3 527.3L397.7 527.0L398.0 527.1L398.4 526.7L398.7 527.1L399.1 526.8L399.4 527.2L399.8 527.4L400.1 527.2L400.5 527.6L400.8 528.2L401.2 526.3L401.5 527.1L401.9 526.9L402.2 526.9L402.6 526.6L402.9 527.1L403.3 527.0L403.7 526.9L404.0 527.0L404.4 526.9L404.7 526.2L405.1 527.6L405.4 527.0L405.8 526.7L406.1 527.2L406.5 526.9L406.8 526.2L407.2 527.5L407.5 526.4L407.9 527.0L408.2 527.1L408.6 527.6L408.9 527.5L409.3 527.0L409.6 526.5L410.0 526.6L410.3 527.0L410.7 527.0L411.0 526.1L411.4 525.0L411.7 524.9L412.1 523.4L412.4 522.4L412.8 521.4L413.2 521.0L413.5 520.6L413.9 521.2L414.2 522.1L414.6 522.8L414.9 522.7L415.3 523.9L415.6 525.4L416.0 525.9L416.3 527.2L416.7 526.7L417.0 526.8L417.4 527.4L417.7 527.5L418.1 527.1L418.4 527.4L418.8 526.8L419.1 526.9L419.5 527.9L419.8 526.8L420.2 527.8L420.5 527.7L420.9 527.8L421.2 527.8L421.6 527.7L421.9 526.7L422.3 527.1L422.7 527.3L423.0 527.9L423.4 527.1L423.7 527.3L424.1 527.4L424.4 528.1L424.8 527.0L425.1 527.1L425.5 527.9L425.8 526.8L426.2 527.8L426.5 527.4L426.9 527.0L427.2 527.5L427.6 527.2L427.9 527.7L428.3 527.8L428.6 528.2L429.0 527.6L429.3 527.6L429.7 527.3L430.0 527.5L430.4 527.9L430.7 526.6L431.1 527.5L431.4 526.9L431.8 526.9L432.2 526.6L432.5 526.4L432.9 525.6L433.2 524.8L433.6 524.6L433.9 524.1L434.3 523.8L434.6 524.2L435.0 524.8L435.3 525.1L435.7 525.7L436.0 525.6L436.4 526.5L436.7 526.2L437.1 527.5L437.4 527.0L437.8 528.1L438.1 528.9L438.5 527.6L438.8 528.3L439.2 528.0L439.5 527.6L439.9 527.6L440.2 528.1L440.6 528.5L440.9 528.1L441.3 527.4L441.7 527.6L442.0 527.9L442.4 528.6L442.7 528.1L443.1 528.2L443.4 528.5L443.8 528.0L444.1 528.0L444.5 528.0L444.8 527.4L445.2 528.3L445.5 528.3L445.9 528.5L446.2 527.7L446.6 527.8L446.9 528.5L447.3 528.3L447.6 528.7L448.0 527.8L448.3 528.3L448.7 527.9L449.0 528.3L449.4 528.0L449.7 528.4L450.1 528.6L450.4 528.5L450.8 527.5L451.2 528.6L451.5 528.4L451.9 527.8L452.2 527.9L452.6 528.2L452.9 528.5L453.3 528.1L453.6 527.6L454.0 528.3L454.3 528.3L454.7 529.2L455.0 527.7L455.4 529.2L455.7 528.9L456.1 528.4L456.4 528.9L456.8 528.3L457.1 528.6L457.5 527.9L457.8 528.2L458.2 527.8L458.5 527.6L458.9 528.1L459.2 527.9L459.6 528.4L459.9 528.7L460.3 528.1L460.7 528.2L461.0 528.2L461.4 527.4L461.7 528.2L462.1 528.1L462.4 528.0L462.8 527.6L463.1 527.2L463.5 527.9L463.8 528.1L464.2 528.4L464.5 528.3L464.9 528.4L465.2 527.9L465.6 528.2L465.9 527.5L466.3 527.8L466.6 527.8L467.0 528.4L467.3 527.3L467.7 526.6L468.0 527.5L468.4 526.5L468.7 526.5L469.1 526.2L469.4 525.7L469.8 526.2L470.2 525.5L470.5 524.5L470.9 524.0L471.2 522.9L471.6 521.8L471.9 519.2L472.3 515.7L472.6 510.6L473.0 503.3L473.3 493.5L473.7 480.4L474.0 466.6L474.4 453.3L474.7 444.6L475.1 442.5L475.4 448.1L475.8 461.6L476.1 475.9L476.5 489.5L476.8 500.9L477.2 508.8L477.5 513.4L477.9 518.3L478.2 520.6L478.6 522.3L478.9 523.6L479.3 523.2L479.7 524.3L480.0 523.3L480.4 523.9L480.7 523.8L481.1 524.3L481.4 522.7L481.8 521.9L482.1 522.5L482.5 521.8L482.8 522.8L483.2 522.2L483.5 522.7L483.9 524.2L484.2 524.5L484.6 525.5L484.9 525.2L485.3 527.0L485.6 526.5L486.0 527.5L486.3 527.1L486.7 527.1L487.0 527.8L487.4 528.1L487.7 528.8L488.1 528.4L488.4 528.6L488.8 528.7L489.2 529.7L489.5 528.2L489.9 529.1L490.2 528.6L490.6 528.8L490.9 528.5L491.3 529.2L491.6 528.3L492.0 528.3L492.3 528.7L492.7 528.4L493.0 529.2L493.4 529.3L493.7 528.6L494.1 529.3L494.4 528.7L494.8 529.0L495.1 529.0L495.5 529.8L495.8 529.0L496.2 528.7L496.5 528.7L496.9 529.6L497.2 528.4L497.6 528.9L497.9 529.0L498.3 528.2L498.7 529.0L499.0 529.6L499.4 529.3L499.7 528.8L500.1 529.5L500.4 529.4L500.8 530.0L501.1 528.9L501.5 529.1L501.8 529.3L502.2 529.2L502.5 529.3L502.9 529.3L503.2 529.0L503.6 528.7L503.9 529.1L504.3 528.8L504.6 528.9L505.0 529.1L505.3 529.6L505.7 529.7L506.0 529.0L506.4 529.5L506.7 529.7L507.1 529.4L507.4 528.8L507.8 528.6L508.2 529.8L508.5 529.8L508.9 529.6L509.2 529.0L509.6 530.0L509.9 530.0L510.3 529.5L510.6 529.4L511.0 528.7L511.3 529.8L511.7 528.9L512.0 529.8L512.4 529.8L512.7 529.6L513.1 530.2L513.4 529.4L513.8 529.8L514.1 529.9L514.5 529.7L514.8 529.4L515.2 530.1L515.5 529.8L515.9 529.5L516.2 529.6L516.6 529.7L516.9 530.5L517.3 529.7L517.7 529.6L518.0 529.2L518.4 529.2L518.7 528.9L519.1 529.8L519.4 529.7L519.8 529.3L520.1 529.1L520.5 529.6L520.8 529.5L521.2 529.2L521.5 529.9L521.9 529.8L522.2 529.7L522.6 530.1L522.9 529.5L523.3 530.3L523.6 529.4L524.0 530.0L524.3 530.0L524.7 529.7L525.0 529.9L525.4 529.3L525.7 529.2L526.1 529.7L526.4 529.5L526.8 530.1L527.2 529.9L527.5 530.1L527.9 530.0L528.2 529.9L528.6 529.9L528.9 529.7L529.3 529.7L529.6 530.7L530.0 529.2L530.3 529.8L530.7 530.3L531.0 530.1L531.4 530.5L531.7 530.2L532.1 529.4L532.4 529.8L532.8 529.4L533.1 530.3L533.5 530.5L533.8 529.8L534.2 530.2L534.5 529.8L534.9 529.4L535.2 529.8L535.6 529.4L535.9 529.8L536.3 530.1L536.7 530.3L537.0 530.5L537.4 529.9L537.7 530.1L538.1 530.2L538.4 530.3L538.8 528.9L539.1 529.7L539.5 530.4L539.8 529.6L540.2 530.1L540.5 530.4L540.9 529.3L541.2 530.0L541.6 530.1L541.9 530.0L542.3 529.4L542.6 530.2L543.0 529.8L543.3 530.3L543.7 530.2L544.0 529.8L544.4 530.0L544.7 529.7L545.1 529.7L545.4 529.3L545.8 529.8L546.2 530.2L546.5 529.9L546.9 529.9L547.2 529.6L547.6 529.6L547.9 530.1L548.3 529.2L548.6 530.6L549.0 529.7L549.3 530.5L549.7 530.0L550.0 529.3L550.4 529.7L550.7 529.3L551.1 529.2L551.4 529.0L551.8 528.0L552.1 527.4L552.5 526.8L552.8 525.6L553.2 525.1L553.5 524.3L553.9 523.5L554.2 523.0L554.6 522.6L554.9 523.4L555.3 523.0L555.7 524.5L556.0 525.4L556.4 526.6L556.7 527.2L557.1 527.7L557.4 527.6L557.8 528.1L558.1 527.1L558.5 527.2L558.8 525.6L559.2 526.2L559.5 524.8L559.9 522.5L560.2 520.7L560.6 518.6L560.9 517.7L561.3 517.9L561.6 518.3L562.0 519.0L562.3 521.0L562.7 522.6L563.0 524.6L563.4 526.1L563.7 526.8L564.1 527.7L564.4 528.3L564.8 527.8L565.2 529.0L565.5 529.1L565.9 529.6L566.2 528.7L566.6 529.8L566.9 529.3L567.3 529.7L567.6 530.1L568.0 529.1L568.3 529.2L568.7 530.2L569.0 529.3L569.4 529.4L569.7 530.1L570.1 529.8L570.4 530.2L570.8 530.0L571.1 529.9L571.5 530.3L571.8 530.8L572.2 529.9L572.5 530.5L572.9 530.4L573.2 530.0L573.6 530.1L573.9 529.6L574.3 529.7L574.7 530.1L575.0 530.0L575.4 530.5L575.7 529.5L576.1 529.9L576.4 529.7L576.8 529.9L577.1 530.5L577.5 529.5L577.8 530.3L578.2 529.8L578.5 529.9L578.9 530.4L579.2 529.9L579.6 530.3L579.9 530.0L580.3 529.9L580.6 529.9L581.0 529.3L581.3 529.7L581.7 530.1L582.0 530.1L582.4 529.4L582.7 530.4L583.1 530.2L583.4 529.5L583.8 529.6L584.2 530.2L584.5 529.3L584.9 529.7L585.2 529.9L585.6 529.9L585.9 529.9L586.3 530.1L586.6 529.6L587.0 529.7L587.3 530.7L587.7 529.3L588.0 529.7L588.4 529.9L588.7 529.6L589.1 530.3L589.4 529.8L589.8 530.0L590.1 528.6L590.5 530.0L590.8 529.9L591.2 528.9L591.5 529.5L591.9 528.7L592.2 528.5L592.6 528.3L592.9 526.9L593.3 525.7L593.7 525.3L594.0 524.1L594.4 523.9L594.7 523.8L595.1 524.1L595.4 525.5L595.8 526.1L596.1 526.2L596.5 527.8L596.8 527.3L597.2 528.2L597.5 528.8L597.9 529.6L598.2 529.7L598.6 529.7L598.9 530.1L599.3 530.0L599.6 530.3L600.0 529.5L600.3 529.1L600.7 529.7L601.0 530.2L601.4 530.0L601.7 530.3L602.1 530.2L602.5 530.1L602.8 530.3L603.2 529.7L603.5 530.4L603.9 529.6L604.2 529.9L604.6 529.4L604.9 530.2L605.3 529.4L605.6 530.6L606.0 529.5L606.3 530.1L606.7 530.0L607.0 529.7L607.4 530.5L607.7 529.8L608.1 530.6L608.4 529.6L608.8 529.7L609.1 529.2L609.5 530.2L609.8 530.4L610.2 530.1L610.5 529.9L610.9 529.6L611.2 531.0L611.6 530.3L612.0 529.3L612.3 529.9L612.7 529.0L613.0 530.6L613.4 530.8L613.7 530.6L614.1 530.0L614.4 529.8L614.8 529.4L615.1 530.2L615.5 529.7L615.8 529.8L616.2 529.7L616.5 529.8L616.9 530.3L617.2 530.6L617.6 530.0L617.9 530.0L618.3 529.5L618.6 529.4L619.0 529.5L619.3 530.3L619.7 530.0L620.0 530.3L620.4 530.1L620.7 529.7L621.1 529.4L621.5 529.7L621.8 529.3L622.2 530.6L622.5 529.9L622.9 529.6L623.2 530.6L623.6 529.6L623.9 529.9L624.3 529.6L624.6 529.8L625.0 529.4L625.3 529.7L625.7 530.1L626.0 528.9L626.4 528.5L626.7 529.8L627.1 529.3L627.4 529.5L627.8 528.9L628.1 529.5L628.5 529.5L628.8 528.2L629.2 528.8L629.5 528.1L629.9 527.6L630.2 527.9L630.6 528.1L631.0 527.2L631.3 527.0L631.7 527.9L632.0 527.2L632.4 527.2L632.7 526.4L633.1 526.4L633.4 526.6L633.8 526.5L634.1 526.4L634.5 526.8L634.8 526.2L635.2 525.5L635.5 525.7L635.9 526.1L636.2 526.7L636.6 526.0L636.9 526.2L637.3 526.5L637.6 526.3L638.0 526.4L638.3 526.8L638.7 527.5L639.0 527.5L639.4 527.3L639.7 527.8L640.1 527.3L640.5 528.4L640.8 528.4L641.2 528.4L641.5 527.7L641.9 529.4L642.2 527.5L642.6 528.4L642.9 528.5L643.3 529.3L643.6 528.5L644.0 529.2L644.3 529.1L644.7 529.2L645.0 529.7L645.4 529.9L645.7 529.6L646.1 529.3L646.4 528.5L646.8 530.1L647.1 529.3L647.5 528.7L647.8 529.5L648.2 530.0L648.5 529.2L648.9 528.7L649.2 530.0L649.6 529.2L650.0 529.0L650.3 529.1L650.7 527.7L651.0 528.4L651.4 528.3L651.7 529.3L652.1 528.1L652.4 528.2L652.8 528.0L653.1 528.3L653.5 528.7L653.8 529.1L654.2 529.0L654.5 530.0L654.9 529.5L655.2 529.7L655.6 530.1L655.9 529.8L656.3 529.4L656.6 529.0L657.0 529.8L657.3 529.3L657.7 530.2L658.0 529.4L658.4 528.8L658.7 529.7L659.1 530.1L659.5 529.5L659.8 529.6L660.2 529.5L660.5 530.1L660.9 529.4L661.2 529.1L661.6 528.7L661.9 528.1L662.3 529.1L662.6 528.6L663.0 527.4L663.3 527.7L663.7 527.2L664.0 526.5L664.4 526.2L664.7 526.4L665.1 525.5L665.4 525.8L665.8 526.1L666.1 526.4L666.5 526.7L666.8 527.3L667.2 527.8L667.5 527.6L667.9 528.3L668.2 528.3L668.6 529.4L669.0 528.4L669.3 529.1L669.7 529.6L670.0 529.3L670.4 529.3L670.7 529.3L671.1 529.7L671.4 529.1L671.8 529.5L672.1 529.5L672.5 529.0L672.8 529.7L673.2 529.4L673.5 529.6L673.9 529.8L674.2 529.5L674.6 528.8L674.9 529.3L675.3 528.4L675.6 528.5L676.0 529.3L676.3 528.3L676.7 528.6L677.0 527.6L677.4 527.3L677.7 526.4L678.1 526.9L678.5 526.1L678.8 526.2L679.2 526.0L679.5 526.2L679.9 526.3L680.2 526.4L680.6 526.8L680.9 526.9L681.3 526.7L681.6 528.1L682.0 529.1L682.3 529.0L682.7 529.7L683.0 529.1L683.4 528.7L683.7 528.8L684.1 529.6L684.4 529.5L684.8 529.3L685.1 529.7L685.5 529.0L685.8 529.6L686.2 529.2L686.5 529.4L686.9 529.8L687.2 529.2L687.6 529.7L688.0 529.6L688.3 528.7L688.7 529.8L689.0 528.2L689.4 528.5L689.7 528.6L690.1 527.1L690.4 528.2L690.8 527.9L691.1 527.1L691.5 526.9L691.8 526.4L692.2 525.8L692.5 525.9L692.9 524.8L693.2 524.5L693.6 524.2L693.9 524.0L694.3 523.8L694.6 522.5L695.0 522.1L695.3 522.9L695.7 523.0L696.0 522.8L696.4 523.6L696.7 524.1L697.1 524.4L697.5 525.4L697.8 524.7L698.2 525.6L698.5 526.8L698.9 526.7L699.2 526.3L699.6 527.2L699.9 527.9L700.3 528.5L700.6 528.1L701.0 528.5L701.3 527.7L701.7 528.2L702.0 528.8L702.4 528.0L702.7 528.4L703.1 527.6L703.4 528.8L703.8 528.0L704.1 528.0L704.5 526.7L704.8 526.2L705.2 526.5L705.5 524.2L705.9 522.3L706.2 520.4L706.6 517.6L707.0 513.4L707.3 510.6L707.7 508.4L708.0 507.0L708.4 507.4L708.7 509.0L709.1 512.0L709.4 515.4L709.8 518.2L710.1 520.8L710.5 523.2L710.8 525.1L711.2 526.3L711.5 527.0L711.9 527.7L712.2 528.2L712.6 528.7L712.9 528.9L713.3 528.4L713.6 529.5L714.0 528.5L714.3 529.5L714.7 529.1L715.0 529.7L715.4 529.9L715.7 528.8L716.1 529.8L716.5 529.7L716.8 529.5L717.2 529.8L717.5 529.5L717.9 529.8L718.2 529.3L718.6 530.1L718.9 530.0L719.3 530.1L719.6 529.6L720.0 530.6L720.3 530.7L720.7 529.9L721.0 529.7L721.4 529.7L721.7 530.2L722.1 530.3L722.4 529.6L722.8 529.1L723.1 530.1L723.5 529.9L723.8 530.0L724.2 530.2L724.5 529.5L724.9 530.0L725.2 529.9L725.6 530.1L726.0 530.5L726.3 530.0L726.7 529.7L727.0 530.5L727.4 530.3L727.7 529.9L728.1 529.3L728.4 529.7L728.8 530.1L729.1 530.2L729.5 529.8L729.8 530.2L730.2 529.8L730.5 529.9L730.9 530.2L731.2 529.9L731.6 530.1L731.9 530.4L732.3 530.5L732.6 529.8L733.0 529.9L733.3 529.5L733.7 529.5L734.0 530.2L734.4 529.8L734.7 529.3L735.1 530.3L735.5 529.7L735.8 529.9L736.2 530.2L736.5 530.2L736.9 530.0L737.2 529.3L737.6 530.3L737.9 529.8L738.3 529.5L738.6 529.2L739.0 530.6L739.3 530.1L739.7 530.1L740.0 530.3L740.4 530.0L740.7 529.5L741.1 530.3L741.4 530.5L741.8 530.3L742.1 530.7L742.5 530.8L742.8 529.7L743.2 529.9L743.5 530.4L743.9 530.1L744.2 530.1L744.6 530.4L745.0 530.3L745.3 529.9L745.7 530.1L746.0 529.8L746.4 530.0L746.7 529.6L747.1 529.3L747.4 529.8L747.8 529.8L748.1 530.4L748.5 530.7L748.8 530.1L749.2 530.2L749.5 529.8L749.9 529.7L750.2 529.9L750.6 529.9L750.9 530.1L751.3 530.1L751.6 530.7L752.0 529.9L752.3 529.4L752.7 530.1L753.0 529.8L753.4 530.1L753.7 530.5L754.1 529.7L754.5 530.0L754.8 530.2L755.2 529.6L755.5 530.1L755.9 530.2L756.2 530.3L756.6 530.4L756.9 530.2L757.3 530.1L757.6 529.4L758.0 528.9L758.3 529.6L758.7 530.5L759.0 530.0L759.4 529.0L759.7 529.7L760.1 530.0L760.4 529.1L760.8 530.1L761.1 529.4L761.5 530.3L761.8 529.9L762.2 531.1L762.5 529.3L762.9 529.9L763.2 529.2L763.6 530.2L764.0 529.8L764.3 530.1L764.7 529.7L765.0 529.2L765.4 529.3L765.7 529.1L766.1 529.1L766.4 529.5L766.8 529.8L767.1 529.6L767.5 529.3L767.8 528.8L768.2 529.1L768.5 528.4L768.9 528.6L769.2 528.7L769.6 528.0L769.9 527.7L770.3 527.4L770.6 527.5L771.0 526.9L771.3 526.1L771.7 526.1L772.0 525.5L772.4 526.2L772.7 525.3L773.1 524.3L773.5 524.7L773.8 524.6L774.2 524.3L774.5 523.8L774.9 523.9L775.2 523.9L775.6 524.2L775.9 524.0L776.3 524.8L776.6 524.0L777.0 524.8L777.3 524.3L777.7 523.7L778.0 524.0L778.4 523.8L778.7 523.8L779.1 525.0L779.4 524.2L779.8 524.6L780.1 523.9L780.5 524.2L780.8 523.8L781.2 524.7L781.5 524.4L781.9 524.5L782.2 525.0L782.6 526.3L783.0 526.0L783.3 526.6L783.7 526.2L784.0 526.9L784.4 527.7L784.7 527.2L785.1 528.8L785.4 528.6L785.8 528.7L786.1 528.9L786.5 529.1L786.8 529.1L787.2 530.0L787.5 529.8L787.9 530.1L788.2 529.6L788.6 529.4L788.9 530.4L789.3 529.4L789.6 529.7L790.0 530.2L790.3 530.4L790.7 529.5L791.0 529.9L791.4 530.0L791.7 530.0L792.1 529.7L792.5 530.3L792.8 529.9L793.2 530.0L793.5 529.2L793.9 530.1L794.2 529.4L794.6 530.4L794.9 530.4L795.3 530.0L795.6 530.2L796.0 530.2L796.3 530.1L796.7 530.3L797.0 530.2L797.4 530.0L797.7 529.9L798.1 530.9L798.4 530.3L798.8 530.2L799.1 530.5L799.5 530.1L799.8 530.1L800.2 530.5L800.5 530.6L800.9 530.5L801.2 529.6L801.6 530.2L802.0 530.2L802.3 530.3L802.7 529.8L803.0 529.7L803.4 530.0L803.7 529.7L804.1 529.6L804.4 530.0L804.8 530.3L805.1 529.9L805.5 530.2L805.8 529.3L806.2 529.8L806.5 529.3L806.9 528.6L807.2 528.3L807.6 527.6L807.9 527.0L808.3 525.7L808.6 525.2L809.0 523.2L809.3 521.2L809.7 520.3L810.0 519.5L810.4 518.9L810.8 519.7L811.1 520.1L811.5 521.5L811.8 524.0L812.2 524.8L812.5 526.3L812.9 527.3L813.2 528.2L813.6 528.6L813.9 529.0L814.3 529.8L814.6 529.4L815.0 529.8L815.3 530.2L815.7 529.8L816.0 529.4L816.4 530.3L816.7 530.6L817.1 530.3L817.4 529.6L817.8 530.5L818.1 531.1L818.5 529.7L818.8 529.3L819.2 530.3L819.5 530.4L819.9 530.7L820.3 530.7L820.6 530.5L821.0 530.7L821.3 530.6L821.7 530.5L822.0 530.5L822.4 530.4L822.7 530.8L823.1 530.7L823.4 530.3L823.8 530.9L824.1 530.2L824.5 530.4L824.8 530.6L825.2 529.8L825.5 530.4L825.9 530.8L826.2 530.8L826.6 530.0L826.9 530.1L827.3 530.0L827.6 530.3L828.0 530.3L828.3 529.7L828.7 530.4L829.0 530.2L829.4 530.1L829.8 529.8L830.1 529.9L830.5 529.1L830.8 529.8L831.2 529.7L831.5 529.4L831.9 528.9L832.2 529.8L832.6 529.7L832.9 528.5L833.3 529.4L833.6 529.3L834.0 528.3L834.3 529.7L834.7 529.8L835.0 530.0L835.4 529.9L835.7 529.7L836.1 529.8L836.4 530.3L836.8 530.7L837.1 530.1L837.5 530.3L837.8 530.7L838.2 529.7L838.5 530.7L838.9 530.5L839.3 529.8L839.6 530.9L840.0 530.3L840.3 531.0L840.7 531.2L841.0 530.2L841.4 530.3L841.7 530.7L842.1 530.1L842.4 531.0L842.8 530.8L843.1 531.1L843.5 530.1L843.8 530.9L844.2 531.0L844.5 530.1L844.9 531.1L845.2 530.3L845.6 530.9L845.9 530.3L846.3 531.1L846.6 531.5L847.0 530.9L847.3 530.8L847.7 531.3L848.0 530.7L848.4 530.9L848.8 531.2L849.1 531.0L849.5 531.5L849.8 531.3L850.2 531.6L850.5 530.9L850.9 531.3L851.2 530.6L851.6 531.2L851.9 531.6L852.3 531.8L852.6 530.4L853.0 530.8L853.3 531.2L853.7 530.6L854.0 531.1L854.4 531.1L854.7 530.7L855.1 530.7L855.4 530.6L855.8 531.1L856.1 531.4L856.5 531.1L856.8 532.0L857.2 530.4L857.5 530.7L857.9 531.2L858.3 530.5L858.6 531.1L859.0 531.3L859.3 531.0L859.7 530.9L860.0 531.3L860.4 531.1L860.7 531.2L861.1 531.2L861.4 530.7L861.8 530.5L862.1 530.8L862.5 531.0L862.8 530.9L863.2 531.3L863.5 531.0L863.9 531.3L864.2 531.0L864.6 530.6L864.9 531.2L865.3 531.1L865.6 530.5L866.0 530.6L866.3 531.9L866.7 529.4L867.0 531.1L867.4 530.6L867.8 530.5L868.1 530.4L868.5 530.2L868.8 531.3L869.2 530.1L869.5 530.0L869.9 530.4L870.2 530.1L870.6 529.8L870.9 529.7L871.3 529.2L871.6 530.1L872.0 529.2L872.3 528.6L872.7 530.0L873.0 530.0L873.4 529.9L873.7 529.6L874.1 530.4L874.4 529.6L874.8 529.2L875.1 530.2L875.5 530.6L875.8 530.6L876.2 531.3L876.5 530.9L876.9 530.5L877.3 530.6L877.6 531.1L878.0 530.8L878.3 530.8L878.7 530.2L879.0 530.8L879.4 530.4L879.7 531.1L880.1 531.1L880.4 531.3L880.8 531.7L881.1 531.0L881.5 531.6L881.8 530.6L882.2 531.1L882.5 531.5L882.9 531.9L883.2 530.7L883.6 531.0L883.9 531.2L884.3 531.1L884.6 530.8L885.0 530.5L885.3 530.7L885.7 531.1L886.0 530.6L886.4 531.9L886.8 531.7L887.1 530.4L887.5 531.0L887.8 531.7L888.2 531.8L888.5 531.6L888.9 530.6L889.2 531.0L889.6 531.7L889.9 531.2L890.3 531.0L890.6 531.4L891.0 531.6L891.3 531.3L891.7 531.3L892.0 531.6L892.4 531.0L892.7 530.9L893.1 531.5L893.4 530.8L893.8 531.4L894.1 530.9L894.5 531.6L894.8 530.8L895.2 531.7L895.5 531.4L895.9 531.1L896.3 530.9L896.6 531.2L897.0 530.9L897.3 530.8L897.7 531.7L898.0 531.5L898.4 531.8L898.7 530.7L899.1 530.5L899.4 530.6L899.8 531.5L900.1 531.6L900.5 530.5L900.8 531.7L901.2 531.1L901.5 530.8L901.9 531.2L902.2 531.5L902.6 531.2L902.9 531.2L903.3 530.9L903.6 530.7L904.0 531.1L904.3 530.6L904.7 531.5L905.0 530.9L905.4 531.8L905.8 530.6L906.1 531.8L906.5 530.9L906.8 530.9L907.2 531.3L907.5 531.5L907.9 531.1L908.2 531.0L908.6 531.9L908.9 531.2L909.3 530.5L909.6 530.8L910.0 531.6L910.3 530.9L910.7 531.1L911.0 531.5L911.4 530.3L911.7 530.6L912.1 530.1L912.4 530.3L912.8 530.4L913.1 529.6L913.5 530.1L913.8 530.0L914.2 530.4L914.5 529.7L914.9 529.4L915.3 530.1L915.6 529.6L916.0 530.2L916.3 530.4L916.7 530.0L917.0 530.4L917.4 530.1L917.7 529.5L918.1 530.1L918.4 530.0L918.8 530.9L919.1 530.5L919.5 531.0L919.8 531.1L920.2 531.6L920.5 531.0L920.9 531.0L921.2 531.4L921.6 531.9L921.9 531.3L922.3 531.5L922.6 531.3L923.0 531.1L923.3 530.7L923.7 531.3L924.0 531.3L924.4 531.3L924.8 532.2L925.1 531.3L925.5 531.6L925.8 531.3L926.2 531.9L926.5 531.3L926.9 532.2L927.2 531.3L927.6 531.8L927.9 531.9L928.3 531.4L928.6 531.8L929.0 531.5L929.3 531.2L929.7 531.2L930.0 531.6L930.4 532.2L930.7 531.3L931.1 531.7L931.4 531.1L931.8 531.6L932.1 530.9L932.5 531.1L932.8 531.4L933.2 531.1L933.5 531.3L933.9 531.8L934.3 531.3L934.6 531.1L935.0 530.9L935.3 531.1L935.7 531.7L936.0 531.2L936.4 531.1L936.7 531.4L937.1 531.4L937.4 531.4L937.8 530.8L938.1 530.5L938.5 530.1L938.8 530.4L939.2 530.4L939.5 530.8L939.9 530.5L940.2 530.1L940.6 530.6L940.9 529.7L941.3 529.7L941.6 529.7L942.0 529.7L942.3 530.1L942.7 530.0L943.0 530.1L943.4 531.0L943.8 530.0L944.1 530.3L944.5 530.7L944.8 531.0L945.2 531.2L945.5 530.9L945.9 531.0L946.2 531.1L946.6 531.6L946.9 531.0L947.3 530.4L947.6 531.5L948.0 531.0L948.3 531.5L948.7 532.1L949.0 531.6L949.4 532.3L949.7 531.0L950.1 531.7L950.4 531.8L950.8 532.0L951.1 531.3L951.5 531.7L951.8 531.7L952.2 531.7L952.5 531.1L952.9 531.0L953.3 531.9L953.6 531.8L954.0 531.7L954.3 532.0L954.7 532.1L955.0 531.3L955.4 532.0L955.7 532.3L956.1 532.1" stroke="#ff0000" stroke-width="3.2"/>
<path d="M146.1 417.9L146.4 416.3L146.8 417.3L147.1 417.0L147.5 417.1L147.8 417.2L148.2 416.5L148.6 417.2L148.9 417.0L149.3 418.4L149.6 417.4L150.0 417.2L150.3 417.2L150.7 417.1L151.0 416.9L151.4 417.2L151.7 417.5L152.1 417.2L152.4 417.7L152.8 417.3L153.1 417.4L153.5 417.9L153.8 417.5L154.2 417.2L154.5 417.3L154.9 417.5L155.2 418.0L155.6 417.3L155.9 417.3L156.3 417.7L156.6 417.0L157.0 417.2L157.3 417.6L157.7 417.5L158.1 417.3L158.4 417.5L158.8 416.2L159.1 417.6L159.5 416.8L159.8 416.5L160.2 417.2L160.5 417.3L160.9 416.8L161.2 416.5L161.6 416.8L161.9 416.6L162.3 417.0L162.6 416.6L163.0 416.2L163.3 416.3L163.7 415.5L164.0 414.8L164.4 414.7L164.7 413.7L165.1 412.0L165.4 409.5L165.8 406.5L166.1 400.8L166.5 395.5L166.8 387.8L167.2 378.8L167.6 372.1L167.9 367.6L168.3 369.1L168.6 373.6L169.0 381.9L169.3 390.7L169.7 398.1L170.0 402.8L170.4 407.7L170.7 411.0L171.1 412.7L171.4 414.7L171.8 414.6L172.1 415.7L172.5 415.7L172.8 416.9L173.2 416.6L173.5 416.7L173.9 416.4L174.2 417.8L174.6 417.6L174.9 417.7L175.3 418.0L175.6 417.8L176.0 417.5L176.4 417.5L176.7 417.6L177.1 418.4L177.4 417.5L177.8 417.8L178.1 418.0L178.5 418.2L178.8 418.4L179.2 417.8L179.5 417.7L179.9 418.3L180.2 418.8L180.6 418.6L180.9 418.5L181.3 418.3L181.6 418.6L182.0 418.4L182.3 418.8L182.7 418.3L183.0 418.6L183.4 418.6L183.7 418.8L184.1 418.7L184.4 419.6L184.8 419.2L185.1 419.2L185.5 418.0L185.9 418.6L186.2 418.6L186.6 419.0L186.9 418.0L187.3 419.2L187.6 419.2L188.0 418.4L188.3 418.5L188.7 418.6L189.0 418.9L189.4 419.2L189.7 419.7L190.1 418.9L190.4 419.3L190.8 419.1L191.1 419.6L191.5 419.3L191.8 419.5L192.2 418.7L192.5 419.0L192.9 418.8L193.2 419.7L193.6 419.4L193.9 419.1L194.3 419.0L194.6 419.4L195.0 419.0L195.4 418.9L195.7 419.4L196.1 420.1L196.4 419.2L196.8 419.1L197.1 418.9L197.5 418.9L197.8 419.5L198.2 419.7L198.5 419.4L198.9 419.5L199.2 419.4L199.6 419.5L199.9 418.9L200.3 419.3L200.6 419.5L201.0 419.2L201.3 419.3L201.7 419.2L202.0 419.3L202.4 419.8L202.7 419.3L203.1 419.4L203.4 419.8L203.8 419.7L204.1 420.1L204.5 418.8L204.9 419.8L205.2 419.3L205.6 419.6L205.9 419.8L206.3 419.9L206.6 419.9L207.0 419.6L207.3 420.1L207.7 419.4L208.0 419.5L208.4 419.8L208.7 419.4L209.1 420.3L209.4 419.9L209.8 420.3L210.1 419.6L210.5 419.4L210.8 419.6L211.2 419.8L211.5 419.4L211.9 419.7L212.2 419.6L212.6 420.2L212.9 419.4L213.3 420.0L213.6 419.4L214.0 419.3L214.4 419.4L214.7 419.2L215.1 419.7L215.4 420.0L215.8 419.7L216.1 419.9L216.5 420.2L216.8 419.8L217.2 419.7L217.5 419.6L217.9 419.1L218.2 419.9L218.6 419.1L218.9 419.9L219.3 419.7L219.6 420.1L220.0 419.7L220.3 419.4L220.7 419.8L221.0 419.5L221.4 419.7L221.7 419.7L222.1 419.7L222.4 419.7L222.8 419.4L223.1 419.7L223.5 419.0L223.9 419.7L224.2 419.3L224.6 420.2L224.9 420.2L225.3 419.1L225.6 419.8L226.0 419.7L226.3 419.4L226.7 420.0L227.0 419.6L227.4 419.2L227.7 419.7L228.1 419.7L228.4 419.8L228.8 419.4L229.1 420.0L229.5 420.1L229.8 419.4L230.2 419.6L230.5 419.8L230.9 419.6L231.2 420.4L231.6 419.9L231.9 419.5L232.3 419.6L232.6 419.8L233.0 420.7L233.4 419.8L233.7 419.9L234.1 420.1L234.4 419.9L234.8 420.7L235.1 419.7L235.5 420.1L235.8 419.9L236.2 420.1L236.5 419.5L236.9 420.5L237.2 419.9L237.6 419.9L237.9 419.6L238.3 419.7L238.6 420.1L239.0 420.3L239.3 420.2L239.7 420.4L240.0 420.2L240.4 420.0L240.7 420.2L241.1 420.2L241.4 419.9L241.8 420.2L242.1 420.4L242.5 420.1L242.9 419.9L243.2 420.2L243.6 420.6L243.9 419.9L244.3 420.0L244.6 419.9L245.0 420.4L245.3 419.4L245.7 420.1L246.0 420.4L246.4 419.7L246.7 420.5L247.1 420.2L247.4 419.8L247.8 420.1L248.1 419.5L248.5 419.8L248.8 420.7L249.2 419.7L249.5 420.7L249.9 420.0L250.2 420.4L250.6 420.1L250.9 419.3L251.3 419.9L251.6 420.1L252.0 419.7L252.4 419.6L252.7 420.2L253.1 419.9L253.4 419.5L253.8 419.9L254.1 420.4L254.5 419.9L254.8 420.4L255.2 420.6L255.5 420.1L255.9 419.7L256.2 419.7L256.6 420.1L256.9 420.4L257.3 420.2L257.6 420.3L258.0 420.0L258.3 420.2L258.7 420.0L259.0 420.0L259.4 419.7L259.7 419.6L260.1 420.0L260.4 419.8L260.8 419.8L261.1 420.4L261.5 420.1L261.9 421.2L262.2 420.5L262.6 420.0L262.9 420.5L263.3 420.3L263.6 419.9L264.0 420.6L264.3 419.9L264.7 419.1L265.0 420.5L265.4 420.0L265.7 420.7L266.1 420.0L266.4 419.8L266.8 420.8L267.1 419.8L267.5 420.3L267.8 420.7L268.2 420.3L268.5 420.2L268.9 420.3L269.2 420.5L269.6 420.0L269.9 420.4L270.3 420.4L270.6 421.1L271.0 420.1L271.4 419.9L271.7 420.5L272.1 420.1L272.4 420.3L272.8 420.3L273.1 420.7L273.5 420.0L273.8 420.2L274.2 419.4L274.5 419.9L274.9 420.8L275.2 420.0L275.6 420.0L275.9 419.8L276.3 420.4L276.6 420.3L277.0 419.8L277.3 420.5L277.7 420.3L278.0 420.5L278.4 420.0L278.7 420.8L279.1 420.4L279.4 420.2L279.8 420.0L280.1 420.1L280.5 420.5L280.9 420.1L281.2 420.6L281.6 420.4L281.9 420.6L282.3 420.4L282.6 420.1L283.0 419.4L283.3 420.2L283.7 420.3L284.0 420.1L284.4 420.2L284.7 419.8L285.1 419.8L285.4 419.5L285.8 420.3L286.1 419.8L286.5 419.5L286.8 419.1L287.2 419.4L287.5 419.8L287.9 419.2L288.2 418.5L288.6 418.8L288.9 418.2L289.3 417.0L289.6 415.5L290.0 413.7L290.4 411.1L290.7 408.2L291.1 404.5L291.4 402.3L291.8 399.9L292.1 400.3L292.5 400.3L292.8 404.0L293.2 407.2L293.5 409.8L293.9 412.7L294.2 415.0L294.6 416.5L294.9 417.2L295.3 418.1L295.6 419.0L296.0 419.5L296.3 419.3L296.7 419.4L297.0 419.6L297.4 420.0L297.7 419.4L298.1 419.3L298.4 419.9L298.8 419.5L299.1 419.7L299.5 420.0L299.9 420.2L300.2 419.7L300.6 420.3L300.9 419.5L301.3 420.3L301.6 419.5L302.0 419.7L302.3 420.3L302.7 420.0L303.0 419.8L303.4 419.9L303.7 420.3L304.1 420.1L304.4 420.1L304.8 420.4L305.1 419.8L305.5 419.9L305.8 419.8L306.2 420.4L306.5 420.3L306.9 420.4L307.2 419.9L307.6 419.8L307.9 420.1L308.3 419.6L308.6 420.0L309.0 419.8L309.4 419.3L309.7 419.4L310.1 419.3L310.4 419.8L310.8 420.0L311.1 418.9L311.5 418.7L311.8 417.7L312.2 418.3L312.5 417.8L312.9 416.9L313.2 416.9L313.6 415.3L313.9 414.7L314.3 413.6L314.6 411.7L315.0 410.9L315.3 409.4L315.7 407.0L316.0 405.8L316.4 405.3L316.7 403.8L317.1 401.2L317.4 397.7L317.8 391.5L318.1 381.8L318.5 368.5L318.9 351.0L319.2 331.8L319.6 312.6L319.9 299.3L320.3 297.4L320.6 307.7L321.0 325.6L321.3 345.3L321.7 364.9L322.0 380.3L322.4 392.7L322.7 400.5L323.1 406.3L323.4 409.9L323.8 412.7L324.1 413.8L324.5 414.8L324.8 415.8L325.2 416.2L325.5 417.0L325.9 417.4L326.2 417.9L326.6 418.8L326.9 418.2L327.3 418.6L327.6 418.7L328.0 419.2L328.4 418.7L328.7 419.0L329.1 419.4L329.4 419.7L329.8 419.6L330.1 419.5L330.5 419.4L330.8 419.9L331.2 420.3L331.5 419.9L331.9 419.9L332.2 420.0L332.6 419.5L332.9 419.7L333.3 419.7L333.6 419.8L334.0 419.6L334.3 419.0L334.7 419.7L335.0 419.5L335.4 418.4L335.7 417.8L336.1 416.5L336.4 414.9L336.8 411.6L337.1 409.5L337.5 405.0L337.9 401.7L338.2 398.2L338.6 396.9L338.9 398.2L339.3 401.7L339.6 405.0L340.0 409.0L340.3 412.2L340.7 414.3L341.0 417.2L341.4 418.2L341.7 418.8L342.1 419.8L342.4 419.4L342.8 420.0L343.1 420.8L343.5 420.7L343.8 419.7L344.2 419.4L344.5 420.3L344.9 421.1L345.2 420.6L345.6 420.8L345.9 421.1L346.3 420.6L346.6 421.1L347.0 421.3L347.4 421.2L347.7 421.2L348.1 420.9L348.4 421.3L348.8 421.0L349.1 421.7L349.5 422.1L349.8 421.0L350.2 420.5L350.5 421.1L350.9 421.4L351.2 421.7L351.6 421.7L351.9 421.1L352.3 421.1L352.6 421.8L353.0 421.0L353.3 421.8L353.7 421.3L354.0 421.7L354.4 421.7L354.7 421.7L355.1 421.7L355.4 421.1L355.8 421.5L356.1 421.4L356.5 421.6L356.9 421.9L357.2 421.4L357.6 421.2L357.9 421.2L358.3 421.3L358.6 421.7L359.0 421.1L359.3 421.8L359.7 421.5L360.0 421.3L360.4 420.8L360.7 421.3L361.1 421.4L361.4 420.4L361.8 421.3L362.1 421.3L362.5 420.6L362.8 420.4L363.2 420.8L363.5 420.1L363.9 419.1L364.2 419.1L364.6 418.9L364.9 418.7L365.3 417.9L365.6 419.0L366.0 418.7L366.4 419.2L366.7 419.4L367.1 420.1L367.4 419.9L367.8 420.0L368.1 420.8L368.5 421.3L368.8 420.9L369.2 421.6L369.5 421.3L369.9 421.1L370.2 421.9L370.6 421.2L370.9 421.9L371.3 421.4L371.6 421.7L372.0 421.2L372.3 421.3L372.7 422.0L373.0 421.7L373.4 421.7L373.7 421.5L374.1 421.8L374.4 421.2L374.8 421.3L375.1 421.7L375.5 421.4L375.9 421.5L376.2 421.7L376.6 421.7L376.9 421.7L377.3 422.3L377.6 422.1L378.0 422.2L378.3 421.8L378.7 421.6L379.0 421.3L379.4 421.7L379.7 421.1L380.1 421.6L380.4 422.1L380.8 422.4L381.1 422.1L381.5 421.5L381.8 422.0L382.2 421.5L382.5 422.1L382.9 421.8L383.2 422.1L383.6 422.7L383.9 422.2L384.3 422.7L384.7 421.9L385.0 421.7L385.4 422.3L385.7 422.4L386.1 421.7L386.4 421.9L386.8 421.4L387.1 421.8L387.5 422.2L387.8 421.8L388.2 421.7L388.5 421.4L388.9 422.0L389.2 422.1L389.6 422.1L389.9 422.0L390.3 421.4L390.6 422.5L391.0 421.9L391.3 421.8L391.7 422.1L392.0 421.1L392.4 421.9L392.7 421.8L393.1 422.0L393.4 422.4L393.8 422.1L394.2 421.2L394.5 421.8L394.9 422.0L395.2 421.9L395.6 421.4L395.9 421.3L396.3 422.1L396.6 422.0L397.0 421.9L397.3 421.3L397.7 422.5L398.0 420.9L398.4 421.8L398.7 422.6L399.1 421.8L399.4 422.0L399.8 421.5L400.1 422.3L400.5 421.4L400.8 422.0L401.2 421.9L401.5 421.5L401.9 422.2L402.2 421.3L402.6 421.6L402.9 421.8L403.3 421.6L403.7 421.9L404.0 422.0L404.4 421.5L404.7 421.3L405.1 421.2L405.4 421.1L405.8 421.3L406.1 420.7L406.5 420.7L406.8 420.2L407.2 419.7L407.5 420.2L407.9 419.5L408.2 419.9L408.6 420.6L408.9 419.9L409.3 420.5L409.6 420.2L410.0 420.7L410.3 420.5L410.7 420.9L411.0 420.8L411.4 420.8L411.7 421.0L412.1 420.1L412.4 419.5L412.8 418.4L413.2 417.3L413.5 416.1L413.9 414.9L414.2 415.0L414.6 415.7L414.9 415.9L415.3 416.6L415.6 418.4L416.0 418.7L416.3 419.4L416.7 419.9L417.0 420.4L417.4 421.0L417.7 422.0L418.1 421.4L418.4 421.2L418.8 421.4L419.1 421.6L419.5 421.2L419.8 421.8L420.2 422.1L420.5 422.0L420.9 422.1L421.2 421.4L421.6 421.3L421.9 422.4L422.3 422.3L422.7 421.4L423.0 422.0L423.4 422.0L423.7 422.1L424.1 422.0L424.4 421.8L424.8 422.0L425.1 422.0L425.5 422.0L425.8 421.3L426.2 420.9L426.5 421.7L426.9 421.4L427.2 422.1L427.6 422.2L427.9 422.0L428.3 421.8L428.6 422.0L429.0 422.3L429.3 421.7L429.7 422.2L430.0 422.1L430.4 421.9L430.7 422.3L431.1 421.5L431.4 422.0L431.8 421.2L432.2 421.0L432.5 420.7L432.9 420.8L433.2 419.9L433.6 419.7L433.9 418.6L434.3 418.8L434.6 418.6L435.0 417.7L435.3 418.3L435.7 418.3L436.0 419.4L436.4 419.3L436.7 419.3L437.1 420.9L437.4 420.8L437.8 420.8L438.1 421.2L438.5 421.0L438.8 421.7L439.2 421.4L439.5 422.4L439.9 422.1L440.2 421.3L440.6 421.4L440.9 421.8L441.3 421.3L441.7 422.0L442.0 422.0L442.4 421.8L442.7 421.8L443.1 422.2L443.4 422.6L443.8 422.6L444.1 422.1L444.5 422.4L444.8 421.8L445.2 422.2L445.5 421.7L445.9 422.3L446.2 421.7L446.6 421.8L446.9 422.1L447.3 422.3L447.6 421.6L448.0 421.9L448.3 422.1L448.7 422.2L449.0 421.8L449.4 422.1L449.7 422.0L450.1 422.6L450.4 422.3L450.8 421.6L451.2 421.3L451.5 422.1L451.9 422.5L452.2 422.1L452.6 422.4L452.9 421.9L453.3 421.6L453.6 422.3L454.0 422.1L454.3 422.3L454.7 421.6L455.0 422.1L455.4 421.8L455.7 422.3L456.1 421.8L456.4 421.8L456.8 421.8L457.1 422.4L457.5 422.0L457.8 421.7L458.2 421.6L458.5 421.6L458.9 422.5L459.2 421.3L459.6 421.6L459.9 422.1L460.3 422.3L460.7 421.8L461.0 422.1L461.4 422.1L461.7 422.1L462.1 421.8L462.4 422.3L462.8 421.8L463.1 422.2L463.5 421.2L463.8 421.9L464.2 421.0L464.5 420.9L464.9 421.5L465.2 420.9L465.6 421.2L465.9 420.5L466.3 421.2L466.6 420.4L467.0 419.6L467.3 419.7L467.7 419.4L468.0 418.3L468.4 418.3L468.7 418.4L469.1 417.7L469.4 417.3L469.8 417.1L470.2 417.6L470.5 416.9L470.9 416.3L471.2 416.9L471.6 416.4L471.9 416.6L472.3 414.9L472.6 412.6L473.0 409.5L473.3 405.4L473.7 398.0L474.0 388.4L474.4 376.1L474.7 361.6L475.1 346.7L475.4 334.8L475.8 330.6L476.1 335.3L476.5 346.0L476.8 362.4L477.2 376.1L477.5 388.9L477.9 397.8L478.2 405.1L478.6 409.8L478.9 412.7L479.3 414.8L479.7 415.8L480.0 415.9L480.4 416.5L480.7 416.8L481.1 416.5L481.4 415.8L481.8 415.2L482.1 414.6L482.5 413.6L482.8 413.0L483.2 413.6L483.5 412.9L483.9 413.4L484.2 413.7L484.6 415.3L484.9 416.4L485.3 416.7L485.6 417.9L486.0 418.3L486.3 419.8L486.7 420.1L487.0 420.0L487.4 421.1L487.7 421.0L488.1 421.3L488.4 421.4L488.8 421.2L489.2 421.3L489.5 421.8L489.9 421.7L490.2 421.4L490.6 422.5L490.9 421.8L491.3 421.7L491.6 421.7L492.0 422.2L492.3 422.4L492.7 422.1L493.0 422.4L493.4 421.6L493.7 422.0L494.1 422.0L494.4 422.2L494.8 422.4L495.1 421.5L495.5 423.3L495.8 421.9L496.2 422.4L496.5 422.6L496.9 422.6L497.2 422.4L497.6 421.3L497.9 421.9L498.3 422.6L498.7 422.0L499.0 422.0L499.4 421.5L499.7 422.8L500.1 422.6L500.4 422.1L500.8 422.3L501.1 422.4L501.5 422.0L501.8 422.3L502.2 422.5L502.5 422.6L502.9 422.9L503.2 422.4L503.6 422.3L503.9 422.6L504.3 422.2L504.6 422.0L505.0 422.9L505.3 422.3L505.7 422.5L506.0 422.7L506.4 422.1L506.7 422.7L507.1 422.7L507.4 422.5L507.8 422.6L508.2 422.2L508.5 421.7L508.9 422.4L509.2 422.2L509.6 422.8L509.9 422.6L510.3 422.4L510.6 422.6L511.0 423.0L511.3 422.9L511.7 422.7L512.0 422.7L512.4 422.5L512.7 422.5L513.1 422.8L513.4 422.5L513.8 422.7L514.1 422.2L514.5 422.0L514.8 422.0L515.2 422.4L515.5 423.1L515.9 423.0L516.2 422.2L516.6 422.1L516.9 422.9L517.3 422.8L517.7 422.1L518.0 423.0L518.4 422.7L518.7 423.1L519.1 422.7L519.4 422.9L519.8 422.7L520.1 422.3L520.5 422.5L520.8 422.4L521.2 422.9L521.5 422.3L521.9 422.1L522.2 422.9L522.6 423.0L522.9 423.2L523.3 423.0L523.6 422.1L524.0 422.4L524.3 422.5L524.7 422.7L525.0 421.9L525.4 422.7L525.7 422.8L526.1 422.3L526.4 422.7L526.8 423.1L527.2 422.7L527.5 423.0L527.9 423.0L528.2 422.8L528.6 422.8L528.9 422.6L529.3 423.1L529.6 422.5L530.0 422.4L530.3 422.9L530.7 422.4L531.0 422.8L531.4 423.1L531.7 422.7L532.1 422.7L532.4 423.0L532.8 423.0L533.1 422.2L533.5 422.2L533.8 423.2L534.2 422.8L534.5 422.0L534.9 422.2L535.2 422.7L535.6 422.4L535.9 422.9L536.3 422.7L536.7 422.9L537.0 422.3L537.4 422.9L537.7 423.4L538.1 422.4L538.4 423.2L538.8 423.1L539.1 422.9L539.5 422.7L539.8 422.3L540.2 422.4L540.5 423.0L540.9 423.1L541.2 423.1L541.6 423.1L541.9 423.0L542.3 422.6L542.6 422.3L543.0 422.8L543.3 422.9L543.7 422.7L544.0 422.2L544.4 422.5L544.7 422.2L545.1 422.7L545.4 422.3L545.8 422.6L546.2 422.8L546.5 422.7L546.9 423.1L547.2 422.2L547.6 421.9L547.9 422.9L548.3 423.1L548.6 423.1L549.0 422.6L549.3 422.7L549.7 422.5L550.0 422.0L550.4 422.2L550.7 422.5L551.1 422.0L551.4 422.8L551.8 421.4L552.1 421.5L552.5 421.7L552.8 420.7L553.2 420.0L553.5 419.2L553.9 418.7L554.2 418.6L554.6 417.5L554.9 417.0L555.3 416.4L555.7 417.0L556.0 417.3L556.4 417.6L556.7 418.5L557.1 419.4L557.4 420.4L557.8 420.4L558.1 420.8L558.5 421.5L558.8 420.4L559.2 419.9L559.5 420.2L559.9 419.2L560.2 417.9L560.6 416.7L560.9 415.0L561.3 413.8L561.6 412.3L562.0 412.1L562.3 411.5L562.7 412.6L563.0 414.3L563.4 415.6L563.7 417.6L564.1 418.6L564.4 419.5L564.8 420.6L565.2 420.9L565.5 421.0L565.9 421.4L566.2 421.8L566.6 422.0L566.9 422.3L567.3 422.7L567.6 422.6L568.0 423.1L568.3 423.0L568.7 422.5L569.0 423.2L569.4 423.1L569.7 422.5L570.1 422.8L570.4 423.1L570.8 422.8L571.1 423.1L571.5 422.9L571.8 423.0L572.2 422.7L572.5 422.9L572.9 422.7L573.2 423.0L573.6 422.2L573.9 422.9L574.3 423.3L574.7 423.0L575.0 422.8L575.4 423.0L575.7 422.5L576.1 422.6L576.4 422.7L576.8 422.8L577.1 423.2L577.5 422.5L577.8 423.2L578.2 422.3L578.5 422.6L578.9 422.8L579.2 423.3L579.6 422.6L579.9 422.1L580.3 423.0L580.6 422.9L581.0 422.5L581.3 422.5L581.7 422.6L582.0 422.9L582.4 423.1L582.7 422.3L583.1 423.7L583.4 422.8L583.8 422.7L584.2 423.1L584.5 422.9L584.9 423.7L585.2 423.2L585.6 422.7L585.9 422.7L586.3 422.6L586.6 422.7L587.0 423.0L587.3 422.6L587.7 423.4L588.0 422.7L588.4 422.7L588.7 423.1L589.1 422.0L589.4 422.4L589.8 422.9L590.1 422.7L590.5 422.6L590.8 422.7L591.2 422.3L591.5 422.4L591.9 421.8L592.2 421.5L592.6 422.3L592.9 421.2L593.3 420.9L593.7 421.1L594.0 420.4L594.4 419.3L594.7 418.7L595.1 418.5L595.4 418.0L595.8 418.7L596.1 419.0L596.5 419.5L596.8 420.3L597.2 420.9L597.5 421.8L597.9 422.1L598.2 421.3L598.6 422.4L598.9 421.9L599.3 421.9L599.6 422.7L600.0 422.3L600.3 422.5L600.7 423.0L601.0 422.4L601.4 422.4L601.7 422.8L602.1 423.1L602.5 422.9L602.8 422.2L603.2 422.5L603.5 422.7L603.9 423.4L604.2 423.1L604.6 423.1L604.9 423.2L605.3 422.7L605.6 422.9L606.0 422.9L606.3 422.4L606.7 422.8L607.0 423.0L607.4 422.4L607.7 423.1L608.1 423.0L608.4 423.1L608.8 422.5L609.1 422.8L609.5 423.3L609.8 423.1L610.2 422.5L610.5 422.9L610.9 423.3L611.2 422.7L611.6 422.9L612.0 423.7L612.3 422.7L612.7 422.7L613.0 422.4L613.4 422.5L613.7 423.3L614.1 422.7L614.4 422.3L614.8 422.4L615.1 422.7L615.5 423.0L615.8 422.5L616.2 423.0L616.5 422.5L616.9 422.8L617.2 422.9L617.6 422.9L617.9 422.5L618.3 422.6L618.6 422.9L619.0 422.2L619.3 422.7L619.7 422.8L620.0 423.0L620.4 422.6L620.7 422.6L621.1 422.7L621.5 422.3L621.8 422.5L622.2 422.7L622.5 422.7L622.9 422.2L623.2 422.4L623.6 421.8L623.9 422.8L624.3 422.3L624.6 422.5L625.0 422.0L625.3 422.3L625.7 422.5L626.0 422.6L626.4 421.7L626.7 422.4L627.1 422.0L627.4 421.7L627.8 422.1L628.1 421.7L628.5 421.6L628.8 421.4L629.2 421.6L629.5 421.4L629.9 421.2L630.2 420.8L630.6 420.8L631.0 420.9L631.3 421.1L631.7 420.5L632.0 420.8L632.4 420.1L632.7 419.6L633.1 420.0L633.4 419.3L633.8 419.6L634.1 419.7L634.5 419.0L634.8 419.0L635.2 419.8L635.5 418.9L635.9 418.9L636.2 419.1L636.6 418.8L636.9 418.8L637.3 419.1L637.6 418.2L638.0 419.6L638.3 418.9L638.7 419.0L639.0 419.8L639.4 419.8L639.7 419.5L640.1 420.2L640.5 419.9L640.8 420.2L641.2 420.1L641.5 420.5L641.9 421.1L642.2 421.1L642.6 421.3L642.9 421.7L643.3 421.4L643.6 421.3L644.0 421.6L644.3 422.3L644.7 421.9L645.0 422.0L645.4 422.0L645.7 422.2L646.1 422.3L646.4 422.2L646.8 422.2L647.1 422.0L647.5 422.0L647.8 422.5L648.2 422.6L648.5 422.7L648.9 422.4L649.2 422.1L649.6 422.7L650.0 422.7L650.3 421.9L650.7 422.8L651.0 422.7L651.4 423.1L651.7 422.1L652.1 422.1L652.4 422.8L652.8 421.9L653.1 422.3L653.5 422.1L653.8 422.2L654.2 421.9L654.5 422.4L654.9 422.9L655.2 422.7L655.6 422.7L655.9 422.4L656.3 423.0L656.6 422.7L657.0 422.9L657.3 422.0L657.7 422.6L658.0 422.1L658.4 422.6L658.7 422.5L659.1 422.1L659.5 422.5L659.8 422.8L660.2 422.6L660.5 422.6L660.9 422.0L661.2 422.0L661.6 421.8L661.9 422.1L662.3 422.4L662.6 421.9L663.0 421.6L663.3 421.0L663.7 421.3L664.0 420.7L664.4 419.9L664.7 419.6L665.1 419.9L665.4 419.4L665.8 420.2L666.1 419.6L666.5 419.3L666.8 419.7L667.2 420.7L667.5 420.1L667.9 421.0L668.2 421.1L668.6 421.8L669.0 421.7L669.3 421.5L669.7 422.0L670.0 422.0L670.4 422.4L670.7 422.1L671.1 422.9L671.4 422.2L671.8 422.4L672.1 422.1L672.5 422.3L672.8 422.3L673.2 422.4L673.5 422.6L673.9 422.1L674.2 422.0L674.6 422.6L674.9 422.1L675.3 421.9L675.6 422.4L676.0 422.2L676.3 420.9L676.7 421.5L677.0 421.7L677.4 421.5L677.7 420.7L678.1 421.2L678.5 420.1L678.8 420.0L679.2 419.8L679.5 419.6L679.9 419.8L680.2 419.9L680.6 419.6L680.9 420.3L681.3 419.9L681.6 420.3L682.0 421.3L682.3 421.0L682.7 421.6L683.0 421.2L683.4 421.5L683.7 421.7L684.1 421.9L684.4 421.8L684.8 422.0L685.1 422.2L685.5 422.5L685.8 422.1L686.2 422.3L686.5 422.4L686.9 421.6L687.2 421.4L687.6 422.5L688.0 422.4L688.3 421.9L688.7 421.9L689.0 421.3L689.4 421.1L689.7 421.5L690.1 420.7L690.4 421.4L690.8 420.6L691.1 420.7L691.5 421.0L691.8 420.7L692.2 419.6L692.5 419.7L692.9 418.5L693.2 418.3L693.6 418.2L693.9 418.1L694.3 417.0L694.6 417.0L695.0 416.5L695.3 415.8L695.7 416.0L696.0 416.5L696.4 416.0L696.7 416.4L697.1 416.7L697.5 416.5L697.8 417.5L698.2 418.0L698.5 418.5L698.9 418.8L699.2 418.6L699.6 418.9L699.9 419.2L700.3 419.5L700.6 419.8L701.0 420.7L701.3 421.1L701.7 420.5L702.0 421.2L702.4 420.6L702.7 421.0L703.1 420.8L703.4 420.6L703.8 421.2L704.1 421.1L704.5 420.8L704.8 420.6L705.2 420.2L705.5 420.0L705.9 419.2L706.2 418.5L706.6 416.7L707.0 415.5L707.3 413.5L707.7 411.4L708.0 408.8L708.4 406.2L708.7 404.5L709.1 403.8L709.4 405.6L709.8 408.2L710.1 410.7L710.5 411.8L710.8 414.6L711.2 416.7L711.5 417.9L711.9 419.4L712.2 420.1L712.6 420.5L712.9 421.0L713.3 420.7L713.6 421.1L714.0 421.3L714.3 422.0L714.7 421.3L715.0 421.8L715.4 422.2L715.7 422.0L716.1 422.4L716.5 421.9L716.8 422.3L717.2 422.5L717.5 423.0L717.9 422.5L718.2 422.8L718.6 422.3L718.9 422.3L719.3 422.9L719.6 422.5L720.0 422.8L720.3 422.6L720.7 423.1L721.0 423.2L721.4 422.1L721.7 423.1L722.1 422.6L722.4 422.6L722.8 422.4L723.1 422.7L723.5 422.0L723.8 422.2L724.2 422.2L724.5 422.6L724.9 422.8L725.2 422.7L725.6 422.6L726.0 422.3L726.3 421.9L726.7 422.6L727.0 422.5L727.4 422.6L727.7 423.0L728.1 422.4L728.4 422.4L728.8 421.7L729.1 422.7L729.5 422.5L729.8 422.2L730.2 422.6L730.5 422.1L730.9 422.3L731.2 423.2L731.6 422.8L731.9 422.8L732.3 422.8L732.6 422.7L733.0 422.6L733.3 423.3L733.7 422.5L734.0 422.8L734.4 422.4L734.7 422.4L735.1 421.7L735.5 421.8L735.8 423.0L736.2 423.0L736.5 422.4L736.9 422.5L737.2 422.7L737.6 422.2L737.9 423.1L738.3 422.1L738.6 422.3L739.0 421.5L739.3 423.0L739.7 422.5L740.0 423.1L740.4 422.2L740.7 422.6L741.1 422.5L741.4 422.6L741.8 423.2L742.1 423.3L742.5 423.0L742.8 422.4L743.2 422.8L743.5 423.0L743.9 422.7L744.2 422.7L744.6 422.7L745.0 422.2L745.3 422.6L745.7 423.1L746.0 422.2L746.4 422.6L746.7 422.8L747.1 422.1L747.4 422.5L747.8 422.0L748.1 422.3L748.5 422.1L748.8 422.2L749.2 422.4L749.5 422.5L749.9 422.5L750.2 421.7L750.6 423.1L750.9 422.5L751.3 422.2L751.6 422.3L752.0 422.7L752.3 422.2L752.7 422.4L753.0 422.4L753.4 422.7L753.7 422.3L754.1 422.7L754.5 422.7L754.8 422.5L755.2 423.0L755.5 422.6L755.9 422.1L756.2 422.7L756.6 422.6L756.9 422.5L757.3 422.6L757.6 423.4L758.0 422.6L758.3 422.7L758.7 422.4L759.0 423.0L759.4 422.5L759.7 422.2L760.1 422.1L760.4 422.7L760.8 422.8L761.1 421.9L761.5 422.2L761.8 422.7L762.2 422.8L762.5 422.0L762.9 422.3L763.2 422.7L763.6 422.2L764.0 422.3L764.3 422.2L764.7 421.9L765.0 422.4L765.4 422.4L765.7 421.8L766.1 422.3L766.4 422.6L766.8 422.2L767.1 422.5L767.5 421.9L767.8 422.5L768.2 421.6L768.5 422.5L768.9 421.5L769.2 421.3L769.6 421.1L769.9 421.1L770.3 420.9L770.6 420.6L771.0 420.5L771.3 420.6L771.7 420.5L772.0 419.8L772.4 420.0L772.7 419.0L773.1 418.7L773.5 418.3L773.8 418.7L774.2 417.6L774.5 417.5L774.9 418.2L775.2 418.2L775.6 417.9L775.9 416.9L776.3 417.4L776.6 417.7L777.0 417.5L777.3 417.0L777.7 417.5L778.0 417.2L778.4 417.4L778.7 418.6L779.1 418.1L779.4 417.4L779.8 417.3L780.1 418.0L780.5 417.5L780.8 417.9L781.2 417.4L781.5 417.5L781.9 417.7L782.2 417.3L782.6 417.2L783.0 417.7L783.3 418.2L783.7 418.7L784.0 419.2L784.4 419.6L784.7 420.1L785.1 420.0L785.4 421.1L785.8 421.6L786.1 421.3L786.5 421.5L786.8 422.1L787.2 422.0L787.5 422.0L787.9 422.0L788.2 421.9L788.6 421.8L788.9 422.5L789.3 422.8L789.6 422.0L790.0 422.4L790.3 422.6L790.7 422.4L791.0 422.3L791.4 422.4L791.7 421.9L792.1 422.6L792.5 422.5L792.8 423.4L793.2 423.0L793.5 422.5L793.9 422.7L794.2 423.3L794.6 423.3L794.9 422.8L795.3 422.7L795.6 422.2L796.0 422.6L796.3 422.7L796.7 422.5L797.0 423.4L797.4 422.1L797.7 422.7L798.1 422.9L798.4 422.9L798.8 423.4L799.1 422.3L799.5 422.5L799.8 422.8L800.2 422.8L800.5 422.6L800.9 422.5L801.2 423.1L801.6 422.4L802.0 422.5L802.3 423.2L802.7 423.3L803.0 423.0L803.4 422.4L803.7 422.4L804.1 422.3L804.4 422.2L804.8 422.5L805.1 423.0L805.5 422.6L805.8 422.2L806.2 422.1L806.5 421.9L806.9 422.6L807.2 421.3L807.6 421.8L807.9 420.9L808.3 420.5L808.6 419.6L809.0 419.6L809.3 418.1L809.7 417.9L810.0 415.2L810.4 413.8L810.8 413.3L811.1 412.8L811.5 412.6L811.8 412.7L812.2 415.1L812.5 416.2L812.9 417.5L813.2 418.4L813.6 419.9L813.9 420.3L814.3 421.1L814.6 421.5L815.0 422.3L815.3 422.0L815.7 422.2L816.0 422.8L816.4 422.6L816.7 422.6L817.1 422.6L817.4 423.0L817.8 422.5L818.1 422.9L818.5 423.5L818.8 423.0L819.2 422.6L819.5 422.4L819.9 422.9L820.3 422.5L820.6 422.4L821.0 422.7L821.3 422.6L821.7 423.3L822.0 422.5L822.4 423.5L822.7 422.7L823.1 423.0L823.4 423.2L823.8 423.1L824.1 423.2L824.5 422.7L824.8 422.2L825.2 422.9L825.5 422.4L825.9 422.8L826.2 423.3L826.6 422.9L826.9 422.8L827.3 422.6L827.6 422.8L828.0 422.9L828.3 422.3L828.7 423.0L829.0 422.4L829.4 422.8L829.8 422.5L830.1 423.0L830.5 422.8L830.8 422.5L831.2 422.3L831.5 422.4L831.9 422.6L832.2 422.4L832.6 422.0L832.9 421.9L833.3 422.3L833.6 421.1L834.0 421.9L834.3 421.4L834.7 422.3L835.0 421.7L835.4 422.0L835.7 421.8L836.1 422.3L836.4 422.7L836.8 423.1L837.1 422.2L837.5 422.5L837.8 424.2L838.2 423.2L838.5 422.9L838.9 423.2L839.3 422.1L839.6 423.6L840.0 423.2L840.3 422.6L840.7 423.6L841.0 422.9L841.4 422.8L841.7 423.4L842.1 423.4L842.4 423.1L842.8 423.2L843.1 422.8L843.5 422.7L843.8 423.6L844.2 423.7L844.5 423.4L844.9 423.4L845.2 423.1L845.6 423.2L845.9 423.0L846.3 423.9L846.6 423.1L847.0 423.4L847.3 423.3L847.7 422.8L848.0 424.0L848.4 423.2L848.8 423.1L849.1 423.4L849.5 423.0L849.8 423.3L850.2 423.0L850.5 423.5L850.9 423.4L851.2 422.9L851.6 423.7L851.9 423.4L852.3 423.0L852.6 423.5L853.0 423.5L853.3 424.0L853.7 423.1L854.0 423.7L854.4 423.3L854.7 423.6L855.1 423.3L855.4 423.4L855.8 423.6L856.1 423.0L856.5 422.7L856.8 423.4L857.2 423.2L857.5 423.4L857.9 423.6L858.3 423.3L858.6 423.8L859.0 423.4L859.3 423.4L859.7 423.7L860.0 423.6L860.4 423.4L860.7 423.5L861.1 423.1L861.4 423.2L861.8 423.4L862.1 423.7L862.5 423.3L862.8 423.7L863.2 424.1L863.5 424.2L863.9 423.4L864.2 423.8L864.6 423.6L864.9 423.6L865.3 423.7L865.6 423.5L866.0 423.6L866.3 423.4L866.7 423.2L867.0 423.3L867.4 423.4L867.8 423.6L868.1 423.2L868.5 423.3L868.8 423.5L869.2 422.6L869.5 422.7L869.9 422.9L870.2 422.7L870.6 422.2L870.9 422.8L871.3 422.3L871.6 421.9L872.0 422.9L872.3 421.7L872.7 422.1L873.0 421.8L873.4 422.1L873.7 422.3L874.1 421.9L874.4 422.2L874.8 422.3L875.1 422.1L875.5 422.9L875.8 422.7L876.2 422.6L876.5 422.6L876.9 422.8L877.3 423.0L877.6 422.9L878.0 423.6L878.3 422.3L878.7 422.5L879.0 423.2L879.4 422.7L879.7 423.4L880.1 423.2L880.4 423.6L880.8 423.6L881.1 423.9L881.5 423.8L881.8 424.0L882.2 423.7L882.5 423.9L882.9 423.7L883.2 423.4L883.6 423.1L883.9 423.2L884.3 423.8L884.6 422.8L885.0 423.7L885.3 423.3L885.7 423.9L886.0 423.7L886.4 423.4L886.8 423.6L887.1 422.8L887.5 423.7L887.8 423.8L888.2 423.0L888.5 423.9L888.9 423.6L889.2 423.7L889.6 423.2L889.9 423.9L890.3 423.9L890.6 423.7L891.0 423.3L891.3 423.9L891.7 424.1L892.0 423.8L892.4 424.0L892.7 423.5L893.1 423.7L893.4 423.8L893.8 423.7L894.1 424.7L894.5 423.9L894.8 423.5L895.2 424.0L895.5 423.3L895.9 423.8L896.3 424.0L896.6 423.6L897.0 423.6L897.3 423.4L897.7 423.8L898.0 423.5L898.4 424.3L898.7 424.0L899.1 423.7L899.4 423.2L899.8 424.5L900.1 424.2L900.5 423.9L900.8 423.8L901.2 423.8L901.5 423.6L901.9 424.4L902.2 423.8L902.6 423.3L902.9 423.5L903.3 422.8L903.6 424.0L904.0 424.0L904.3 424.4L904.7 424.5L905.0 423.5L905.4 423.9L905.8 424.1L906.1 424.0L906.5 423.5L906.8 424.0L907.2 423.9L907.5 424.2L907.9 423.7L908.2 423.6L908.6 423.5L908.9 423.5L909.3 423.3L909.6 423.4L910.0 423.7L910.3 423.6L910.7 423.8L911.0 423.7L911.4 423.5L911.7 422.7L912.1 423.3L912.4 423.4L912.8 422.4L913.1 422.4L913.5 422.3L913.8 422.2L914.2 422.4L914.5 422.1L914.9 422.5L915.3 422.0L915.6 422.4L916.0 422.3L916.3 422.1L916.7 422.9L917.0 422.6L917.4 422.9L917.7 422.7L918.1 423.2L918.4 423.2L918.8 423.1L919.1 422.6L919.5 423.6L919.8 423.6L920.2 423.5L920.5 423.6L920.9 423.6L921.2 423.7L921.6 423.3L921.9 423.7L922.3 423.8L922.6 423.5L923.0 423.4L923.3 424.4L923.7 424.0L924.0 423.7L924.4 423.7L924.8 422.9L925.1 423.4L925.5 423.8L925.8 424.3L926.2 423.2L926.5 423.6L926.9 424.6L927.2 424.1L927.6 424.0L927.9 424.3L928.3 423.9L928.6 423.8L929.0 424.2L929.3 424.2L929.7 423.5L930.0 424.4L930.4 423.3L930.7 423.7L931.1 425.0L931.4 423.7L931.8 424.1L932.1 423.6L932.5 423.8L932.8 423.7L933.2 423.8L933.5 424.1L933.9 424.5L934.3 424.2L934.6 424.4L935.0 423.7L935.3 424.3L935.7 424.0L936.0 424.3L936.4 423.6L936.7 423.6L937.1 424.1L937.4 423.8L937.8 423.6L938.1 423.2L938.5 423.4L938.8 423.5L939.2 423.5L939.5 422.9L939.9 422.9L940.2 423.1L940.6 422.5L940.9 423.1L941.3 422.7L941.6 422.6L942.0 421.7L942.3 422.0L942.7 422.2L943.0 422.4L943.4 422.3L943.8 422.9L944.1 422.9L944.5 422.9L944.8 422.3L945.2 423.6L945.5 423.2L945.9 423.6L946.2 423.2L946.6 423.5L946.9 423.8L947.3 423.7L947.6 424.1L948.0 423.7L948.3 424.5L948.7 423.2L949.0 423.7L949.4 424.3L949.7 423.9L950.1 423.8L950.4 423.4L950.8 424.4L951.1 423.4L951.5 424.2L951.8 424.1L952.2 424.4L952.5 424.6L952.9 423.8L953.3 423.8L953.6 424.0L954.0 423.5L954.3 424.4L954.7 424.0L955.0 424.2L955.4 423.7L955.7 424.1L956.1 423.9" stroke="#0000ff" stroke-width="3.2"/>
<path d="M146.1 307.8L146.4 308.0L146.8 308.9L147.1 308.5L147.5 307.5L147.8 308.3L148.2 308.0L148.6 308.4L148.9 307.6L149.3 308.5L149.6 308.5L150.0 309.2L150.3 308.6L150.7 308.8L151.0 307.9L151.4 309.6L151.7 307.8L152.1 309.2L152.4 308.5L152.8 308.3L153.1 308.5L153.5 308.5L153.8 309.0L154.2 308.8L154.5 309.5L154.9 308.1L155.2 308.9L155.6 308.5L155.9 309.3L156.3 308.0L156.6 308.8L157.0 309.1L157.3 308.3L157.7 309.4L158.1 309.1L158.4 309.5L158.8 309.4L159.1 308.5L159.5 308.6L159.8 308.9L160.2 309.3L160.5 309.3L160.9 308.5L161.2 308.5L161.6 308.3L161.9 308.3L162.3 308.3L162.6 308.2L163.0 309.0L163.3 307.6L163.7 307.4L164.0 307.3L164.4 306.1L164.7 305.4L165.1 304.3L165.4 302.5L165.8 298.4L166.1 294.8L166.5 287.5L166.8 279.2L167.2 269.6L167.6 259.3L167.9 251.4L168.3 247.9L168.6 251.0L169.0 259.3L169.3 269.0L169.7 280.0L170.0 287.7L170.4 294.1L170.7 300.4L171.1 302.7L171.4 304.4L171.8 307.1L172.1 307.1L172.5 308.4L172.8 308.0L173.2 308.6L173.5 308.3L173.9 308.4L174.2 309.1L174.6 309.7L174.9 310.2L175.3 311.1L175.6 309.6L176.0 310.7L176.4 310.0L176.7 310.3L177.1 309.8L177.4 309.9L177.8 310.3L178.1 310.1L178.5 310.7L178.8 310.5L179.2 311.4L179.5 310.9L179.9 311.0L180.2 311.5L180.6 311.2L180.9 311.0L181.3 311.0L181.6 311.0L182.0 311.6L182.3 311.5L182.7 311.4L183.0 311.6L183.4 311.0L183.7 311.5L184.1 310.7L184.4 311.9L184.8 311.4L185.1 311.5L185.5 311.7L185.9 311.4L186.2 311.3L186.6 312.0L186.9 311.5L187.3 311.1L187.6 311.7L188.0 310.8L188.3 312.3L188.7 311.5L189.0 311.6L189.4 312.6L189.7 312.6L190.1 311.7L190.4 312.0L190.8 312.2L191.1 312.5L191.5 311.7L191.8 311.8L192.2 312.3L192.5 311.9L192.9 312.1L193.2 312.1L193.6 311.3L193.9 311.5L194.3 310.7L194.6 311.8L195.0 312.5L195.4 311.4L195.7 312.5L196.1 312.4L196.4 311.9L196.8 312.0L197.1 312.0L197.5 311.6L197.8 311.9L198.2 312.0L198.5 312.3L198.9 312.4L199.2 311.7L199.6 312.5L199.9 311.8L200.3 312.0L200.6 312.3L201.0 312.1L201.3 312.1L201.7 312.3L202.0 311.9L202.4 311.8L202.7 312.0L203.1 312.6L203.4 312.1L203.8 313.0L204.1 312.2L204.5 310.8L204.9 312.0L205.2 312.9L205.6 312.2L205.9 312.0L206.3 311.8L206.6 312.8L207.0 312.6L207.3 312.5L207.7 312.4L208.0 312.8L208.4 312.5L208.7 311.6L209.1 312.5L209.4 312.3L209.8 312.1L210.1 312.5L210.5 312.2L210.8 310.9L211.2 312.9L211.5 312.7L211.9 312.1L212.2 312.0L212.6 312.3L212.9 311.6L213.3 312.3L213.6 312.1L214.0 312.0L214.4 311.8L214.7 311.9L215.1 312.7L215.4 312.8L215.8 312.4L216.1 312.2L216.5 311.8L216.8 312.5L217.2 312.9L217.5 311.5L217.9 312.8L218.2 311.3L218.6 312.1L218.9 312.4L219.3 311.6L219.6 311.6L220.0 312.3L220.3 312.6L220.7 312.0L221.0 312.8L221.4 311.9L221.7 313.0L222.1 312.3L222.4 312.4L222.8 312.5L223.1 312.4L223.5 313.1L223.9 313.2L224.2 312.5L224.6 312.2L224.9 311.7L225.3 311.9L225.6 312.3L226.0 312.2L226.3 312.2L226.7 312.3L227.0 312.5L227.4 311.7L227.7 311.8L228.1 312.8L228.4 312.7L228.8 312.0L229.1 312.9L229.5 312.0L229.8 312.2L230.2 311.5L230.5 312.7L230.9 312.3L231.2 312.8L231.6 312.6L231.9 312.3L232.3 312.4L232.6 312.8L233.0 312.2L233.4 312.2L233.7 312.3L234.1 312.7L234.4 312.7L234.8 313.2L235.1 312.3L235.5 312.9L235.8 312.0L236.2 312.6L236.5 312.4L236.9 313.1L237.2 312.6L237.6 312.1L237.9 312.6L238.3 312.5L238.6 312.2L239.0 312.2L239.3 311.9L239.7 313.6L240.0 312.4L240.4 312.8L240.7 311.8L241.1 311.9L241.4 312.3L241.8 312.3L242.1 312.7L242.5 311.9L242.9 312.6L243.2 313.0L243.6 311.9L243.9 312.8L244.3 311.9L244.6 312.5L245.0 312.5L245.3 313.1L245.7 312.1L246.0 312.4L246.4 312.8L246.7 311.8L247.1 312.4L247.4 312.0L247.8 312.1L248.1 312.7L248.5 312.7L248.8 313.5L249.2 313.0L249.5 313.0L249.9 312.3L250.2 312.2L250.6 312.4L250.9 311.4L251.3 313.1L251.6 312.1L252.0 311.9L252.4 312.2L252.7 312.8L253.1 312.9L253.4 312.2L253.8 312.6L254.1 312.4L254.5 311.9L254.8 312.5L255.2 312.4L255.5 311.7L255.9 312.9L256.2 311.7L256.6 312.5L256.9 311.9L257.3 312.0L257.6 312.1L258.0 312.7L258.3 311.8L258.7 312.3L259.0 313.1L259.4 312.1L259.7 312.4L260.1 312.7L260.4 312.1L260.8 312.6L261.1 312.1L261.5 312.7L261.9 312.4L262.2 312.0L262.6 313.0L262.9 312.3L263.3 312.3L263.6 312.0L264.0 312.2L264.3 312.3L264.7 312.5L265.0 312.9L265.4 311.8L265.7 312.2L266.1 312.9L266.4 312.5L266.8 312.6L267.1 313.1L267.5 312.5L267.8 312.6L268.2 312.4L268.5 313.2L268.9 312.8L269.2 312.0L269.6 312.6L269.9 311.9L270.3 312.9L270.6 312.7L271.0 312.3L271.4 312.2L271.7 311.6L272.1 312.7L272.4 312.3L272.8 312.2L273.1 312.7L273.5 312.0L273.8 312.1L274.2 312.0L274.5 311.7L274.9 313.4L275.2 312.2L275.6 312.2L275.9 312.7L276.3 310.9L276.6 312.3L277.0 312.3L277.3 311.9L277.7 312.5L278.0 311.4L278.4 312.3L278.7 312.7L279.1 311.2L279.4 311.6L279.8 312.1L280.1 312.2L280.5 311.9L280.9 312.3L281.2 312.2L281.6 311.5L281.9 312.1L282.3 311.5L282.6 311.1L283.0 310.9L283.3 312.5L283.7 311.9L284.0 312.8L284.4 311.2L284.7 311.7L285.1 311.9L285.4 311.7L285.8 311.9L286.1 311.7L286.5 311.2L286.8 310.4L287.2 310.9L287.5 311.9L287.9 311.3L288.2 311.3L288.6 310.0L288.9 309.6L289.3 308.4L289.6 307.7L290.0 305.8L290.4 303.6L290.7 301.3L291.1 296.7L291.4 293.8L291.8 289.8L292.1 289.3L292.5 288.9L292.8 291.3L293.2 294.6L293.5 298.8L293.9 301.2L294.2 303.7L294.6 305.3L294.9 307.3L295.3 307.5L295.6 308.0L296.0 308.2L296.3 308.2L296.7 307.2L297.0 307.4L297.4 307.6L297.7 306.1L298.1 307.6L298.4 308.5L298.8 307.9L299.1 309.2L299.5 309.0L299.9 310.3L300.2 310.5L300.6 311.2L300.9 311.0L301.3 311.2L301.6 311.6L302.0 311.6L302.3 311.7L302.7 311.9L303.0 311.6L303.4 312.0L303.7 312.3L304.1 311.1L304.4 312.2L304.8 311.8L305.1 311.7L305.5 311.6L305.8 311.8L306.2 311.8L306.5 312.3L306.9 311.5L307.2 312.5L307.6 311.6L307.9 312.3L308.3 312.4L308.6 311.3L309.0 312.3L309.4 312.7L309.7 311.4L310.1 311.8L310.4 311.3L310.8 311.2L311.1 310.9L311.5 310.5L311.8 310.8L312.2 310.5L312.5 309.5L312.9 309.5L313.2 308.3L313.6 306.8L313.9 304.5L314.3 303.6L314.6 300.9L315.0 296.6L315.3 294.2L315.7 291.8L316.0 290.3L316.4 289.1L316.7 287.8L317.1 287.5L317.4 286.4L317.8 282.2L318.1 276.8L318.5 266.4L318.9 252.3L319.2 234.3L319.6 214.1L319.9 196.7L320.3 187.4L320.6 189.9L321.0 203.5L321.3 223.8L321.7 243.7L322.0 261.6L322.4 276.6L322.7 287.5L323.1 295.0L323.4 300.6L323.8 303.5L324.1 305.9L324.5 307.1L324.8 307.8L325.2 309.2L325.5 309.3L325.9 310.0L326.2 309.9L326.6 310.8L326.9 310.9L327.3 311.5L327.6 312.4L328.0 312.9L328.4 312.5L328.7 312.1L329.1 312.7L329.4 312.5L329.8 312.2L330.1 312.6L330.5 312.6L330.8 312.5L331.2 313.4L331.5 312.6L331.9 312.6L332.2 313.2L332.6 312.5L332.9 312.3L333.3 312.4L333.6 312.9L334.0 312.7L334.3 312.6L334.7 312.0L335.0 311.5L335.4 311.8L335.7 309.9L336.1 309.2L336.4 306.8L336.8 304.5L337.1 300.8L337.5 296.7L337.9 289.5L338.2 286.3L338.6 281.8L338.9 281.8L339.3 284.7L339.6 288.8L340.0 294.5L340.3 299.9L340.7 303.8L341.0 306.7L341.4 309.3L341.7 310.8L342.1 311.1L342.4 313.0L342.8 312.9L343.1 312.1L343.5 313.0L343.8 314.4L344.2 314.5L344.5 314.0L344.9 313.3L345.2 314.0L345.6 314.7L345.9 314.5L346.3 314.2L346.6 314.1L347.0 314.9L347.4 314.5L347.7 314.8L348.1 314.9L348.4 315.5L348.8 314.8L349.1 314.9L349.5 314.0L349.8 315.4L350.2 315.3L350.5 314.9L350.9 314.0L351.2 314.7L351.6 315.1L351.9 316.0L352.3 315.3L352.6 315.5L353.0 315.5L353.3 315.8L353.7 314.7L354.0 314.8L354.4 314.7L354.7 315.1L355.1 315.1L355.4 315.3L355.8 314.8L356.1 315.3L356.5 314.9L356.9 316.3L357.2 315.1L357.6 316.5L357.9 316.1L358.3 314.8L358.6 315.8L359.0 315.6L359.3 314.7L359.7 315.6L360.0 315.3L360.4 315.4L360.7 314.8L361.1 315.1L361.4 315.2L361.8 314.8L362.1 314.4L362.5 314.4L362.8 313.8L363.2 314.1L363.5 312.5L363.9 314.0L364.2 313.0L364.6 312.9L364.9 312.8L365.3 311.7L365.6 313.3L366.0 311.8L366.4 312.8L366.7 313.0L367.1 313.8L367.4 313.6L367.8 313.3L368.1 314.4L368.5 313.4L368.8 314.7L369.2 314.7L369.5 315.8L369.9 315.1L370.2 315.1L370.6 315.1L370.9 315.1L371.3 315.3L371.6 315.9L372.0 315.0L372.3 315.6L372.7 315.0L373.0 315.6L373.4 315.8L373.7 315.2L374.1 315.5L374.4 315.8L374.8 316.1L375.1 316.2L375.5 315.7L375.9 315.3L376.2 315.1L376.6 316.2L376.9 316.5L377.3 316.0L377.6 316.5L378.0 315.6L378.3 315.7L378.7 316.6L379.0 315.4L379.4 316.2L379.7 316.1L380.1 316.0L380.4 316.7L380.8 315.5L381.1 315.7L381.5 315.0L381.8 315.5L382.2 315.7L382.5 315.8L382.9 315.9L383.2 316.1L383.6 315.7L383.9 315.1L384.3 316.0L384.7 316.2L385.0 315.5L385.4 315.6L385.7 316.8L386.1 316.5L386.4 316.5L386.8 316.3L387.1 316.1L387.5 315.8L387.8 316.3L388.2 315.9L388.5 315.8L388.9 316.0L389.2 316.0L389.6 316.4L389.9 315.6L390.3 317.2L390.6 315.6L391.0 315.9L391.3 316.5L391.7 315.7L392.0 315.8L392.4 316.1L392.7 314.7L393.1 315.8L393.4 315.6L393.8 316.0L394.2 316.3L394.5 316.4L394.9 316.8L395.2 316.7L395.6 316.6L395.9 316.1L396.3 316.6L396.6 315.6L397.0 316.1L397.3 316.8L397.7 316.5L398.0 315.5L398.4 315.8L398.7 316.5L399.1 316.4L399.4 316.6L399.8 315.3L400.1 315.5L400.5 316.0L400.8 315.6L401.2 316.1L401.5 316.1L401.9 316.2L402.2 316.0L402.6 316.3L402.9 316.4L403.3 316.1L403.7 315.4L404.0 316.5L404.4 315.9L404.7 315.9L405.1 315.6L405.4 314.6L405.8 315.4L406.1 314.5L406.5 313.8L406.8 314.6L407.2 313.5L407.5 313.4L407.9 313.5L408.2 313.9L408.6 312.5L408.9 313.3L409.3 314.3L409.6 314.0L410.0 313.1L410.3 314.9L410.7 315.1L411.0 315.4L411.4 315.0L411.7 314.5L412.1 314.3L412.4 313.5L412.8 312.4L413.2 311.7L413.5 310.5L413.9 308.6L414.2 308.6L414.6 308.2L414.9 308.5L415.3 307.9L415.6 310.4L416.0 311.6L416.3 312.4L416.7 314.0L417.0 313.8L417.4 315.6L417.7 315.5L418.1 315.4L418.4 316.4L418.8 316.1L419.1 316.1L419.5 315.4L419.8 316.3L420.2 316.8L420.5 316.6L420.9 315.6L421.2 316.8L421.6 317.0L421.9 316.6L422.3 316.1L422.7 315.6L423.0 315.9L423.4 316.0L423.7 316.4L424.1 316.6L424.4 316.0L424.8 315.6L425.1 316.2L425.5 315.8L425.8 317.0L426.2 315.8L426.5 316.6L426.9 316.7L427.2 315.9L427.6 316.8L427.9 316.3L428.3 316.0L428.6 315.9L429.0 316.4L429.3 316.8L429.7 315.5L430.0 316.6L430.4 316.2L430.7 315.9L431.1 316.2L431.4 316.2L431.8 316.1L432.2 316.4L432.5 315.4L432.9 316.5L433.2 315.7L433.6 314.7L433.9 313.6L434.3 314.0L434.6 313.3L435.0 313.5L435.3 313.4L435.7 314.1L436.0 313.5L436.4 314.4L436.7 314.3L437.1 314.8L437.4 316.1L437.8 315.6L438.1 315.9L438.5 315.9L438.8 316.4L439.2 316.6L439.5 316.3L439.9 315.9L440.2 316.6L440.6 316.1L440.9 316.3L441.3 316.6L441.7 316.6L442.0 315.5L442.4 317.3L442.7 316.9L443.1 317.4L443.4 317.7L443.8 316.2L444.1 316.3L444.5 316.7L444.8 317.0L445.2 316.4L445.5 316.5L445.9 317.1L446.2 316.2L446.6 316.7L446.9 317.1L447.3 316.5L447.6 317.0L448.0 316.6L448.3 315.9L448.7 316.4L449.0 316.5L449.4 316.5L449.7 316.6L450.1 316.8L450.4 316.7L450.8 316.7L451.2 316.4L451.5 316.5L451.9 316.4L452.2 316.3L452.6 317.2L452.9 315.7L453.3 316.7L453.6 315.8L454.0 316.3L454.3 316.9L454.7 316.4L455.0 317.2L455.4 316.1L455.7 316.4L456.1 316.2L456.4 316.5L456.8 316.3L457.1 316.3L457.5 316.5L457.8 316.9L458.2 316.5L458.5 316.4L458.9 316.3L459.2 316.0L459.6 315.7L459.9 315.8L460.3 316.3L460.7 315.4L461.0 316.5L461.4 316.0L461.7 315.7L462.1 315.8L462.4 316.3L462.8 316.2L463.1 316.0L463.5 316.6L463.8 316.8L464.2 315.1L464.5 316.0L464.9 315.0L465.2 314.6L465.6 314.7L465.9 315.0L466.3 313.8L466.6 313.0L467.0 312.9L467.3 311.4L467.7 309.8L468.0 309.1L468.4 306.9L468.7 305.0L469.1 303.9L469.4 303.9L469.8 304.6L470.2 305.8L470.5 306.8L470.9 307.6L471.2 307.9L471.6 309.5L471.9 309.3L472.3 308.5L472.6 307.5L473.0 306.4L473.3 303.3L473.7 298.6L474.0 290.3L474.4 281.8L474.7 267.6L475.1 254.3L475.4 241.4L475.8 231.9L476.1 229.5L476.5 237.3L476.8 250.2L477.2 264.2L477.5 276.7L477.9 288.8L478.2 295.5L478.6 302.0L478.9 305.3L479.3 308.0L479.7 309.5L480.0 310.6L480.4 310.2L480.7 310.9L481.1 311.1L481.4 310.1L481.8 309.7L482.1 308.8L482.5 307.4L482.8 306.7L483.2 306.2L483.5 306.0L483.9 306.7L484.2 307.1L484.6 307.0L484.9 308.1L485.3 309.1L485.6 309.7L486.0 312.4L486.3 313.0L486.7 312.7L487.0 314.2L487.4 315.8L487.7 315.4L488.1 315.7L488.4 315.8L488.8 315.6L489.2 315.5L489.5 315.8L489.9 316.3L490.2 316.2L490.6 316.7L490.9 317.3L491.3 316.8L491.6 317.0L492.0 316.5L492.3 316.1L492.7 317.7L493.0 317.1L493.4 317.3L493.7 316.6L494.1 316.1L494.4 317.5L494.8 315.9L495.1 316.8L495.5 316.7L495.8 317.1L496.2 317.4L496.5 317.4L496.9 316.1L497.2 317.5L497.6 316.2L497.9 317.4L498.3 316.9L498.7 316.6L499.0 316.9L499.4 316.5L499.7 317.1L500.1 317.6L500.4 317.5L500.8 317.2L501.1 317.7L501.5 317.4L501.8 318.2L502.2 317.5L502.5 317.0L502.9 317.1L503.2 316.9L503.6 317.1L503.9 317.2L504.3 317.6L504.6 317.6L505.0 317.3L505.3 317.5L505.7 317.0L506.0 317.1L506.4 316.2L506.7 317.0L507.1 317.1L507.4 318.5L507.8 316.7L508.2 317.4L508.5 317.2L508.9 316.6L509.2 317.5L509.6 317.4L509.9 316.7L510.3 316.3L510.6 317.4L511.0 316.7L511.3 317.7L511.7 317.3L512.0 317.7L512.4 317.3L512.7 318.1L513.1 317.8L513.4 318.1L513.8 317.5L514.1 317.0L514.5 316.8L514.8 317.2L515.2 317.6L515.5 317.2L515.9 318.6L516.2 317.5L516.6 317.7L516.9 317.5L517.3 316.9L517.7 318.0L518.0 317.8L518.4 317.9L518.7 317.1L519.1 317.6L519.4 317.5L519.8 318.1L520.1 316.9L520.5 317.9L520.8 318.2L521.2 317.4L521.5 317.2L521.9 318.2L522.2 317.7L522.6 318.1L522.9 318.0L523.3 318.1L523.6 317.5L524.0 316.6L524.3 317.9L524.7 317.3L525.0 317.9L525.4 317.4L525.7 318.4L526.1 317.5L526.4 318.0L526.8 318.2L527.2 317.6L527.5 317.8L527.9 317.7L528.2 317.2L528.6 318.4L528.9 317.3L529.3 317.0L529.6 317.5L530.0 317.7L530.3 317.7L530.7 317.5L531.0 317.5L531.4 316.7L531.7 318.0L532.1 318.5L532.4 317.4L532.8 316.9L533.1 318.1L533.5 317.6L533.8 315.9L534.2 317.4L534.5 317.1L534.9 317.2L535.2 318.7L535.6 318.2L535.9 317.7L536.3 317.8L536.7 318.5L537.0 317.2L537.4 318.1L537.7 317.5L538.1 318.1L538.4 317.9L538.8 317.4L539.1 318.3L539.5 318.0L539.8 318.6L540.2 317.6L540.5 317.8L540.9 317.5L541.2 318.3L541.6 317.4L541.9 317.8L542.3 318.4L542.6 318.0L543.0 317.9L543.3 317.9L543.7 317.9L544.0 318.1L544.4 317.6L544.7 316.8L545.1 318.4L545.4 317.3L545.8 318.6L546.2 317.9L546.5 319.2L546.9 318.3L547.2 317.9L547.6 318.1L547.9 317.1L548.3 317.8L548.6 317.5L549.0 317.7L549.3 316.7L549.7 316.6L550.0 317.9L550.4 317.5L550.7 317.3L551.1 317.3L551.4 317.0L551.8 316.9L552.1 317.3L552.5 316.6L552.8 316.6L553.2 315.5L553.5 314.4L553.9 314.2L554.2 313.7L554.6 312.4L554.9 312.1L555.3 311.5L555.7 312.1L556.0 312.4L556.4 313.1L556.7 312.9L557.1 314.2L557.4 315.3L557.8 315.3L558.1 315.5L558.5 315.4L558.8 316.2L559.2 315.7L559.5 315.7L559.9 314.5L560.2 314.6L560.6 312.4L560.9 310.4L561.3 309.5L561.6 308.1L562.0 307.4L562.3 306.1L562.7 306.6L563.0 307.9L563.4 309.4L563.7 310.2L564.1 313.0L564.4 314.6L564.8 314.6L565.2 315.3L565.5 316.3L565.9 316.4L566.2 317.4L566.6 316.9L566.9 317.6L567.3 316.9L567.6 316.9L568.0 316.9L568.3 317.0L568.7 317.9L569.0 318.1L569.4 317.9L569.7 317.9L570.1 316.8L570.4 318.4L570.8 317.3L571.1 318.5L571.5 319.0L571.8 318.0L572.2 318.2L572.5 318.2L572.9 317.4L573.2 317.4L573.6 317.7L573.9 318.1L574.3 318.4L574.7 318.1L575.0 318.5L575.4 317.8L575.7 317.4L576.1 318.0L576.4 318.0L576.8 317.4L577.1 318.5L577.5 317.6L577.8 317.7L578.2 318.1L578.5 317.5L578.9 318.3L579.2 318.2L579.6 318.2L579.9 318.0L580.3 317.8L580.6 317.7L581.0 318.2L581.3 318.7L581.7 318.4L582.0 318.2L582.4 318.5L582.7 318.7L583.1 317.5L583.4 318.0L583.8 318.6L584.2 317.7L584.5 317.8L584.9 318.3L585.2 317.9L585.6 318.6L585.9 317.9L586.3 318.3L586.6 319.1L587.0 318.5L587.3 317.3L587.7 317.5L588.0 317.5L588.4 317.9L588.7 317.2L589.1 318.1L589.4 318.6L589.8 318.5L590.1 317.4L590.5 317.6L590.8 317.5L591.2 317.2L591.5 318.2L591.9 317.0L592.2 316.5L592.6 316.9L592.9 316.4L593.3 316.4L593.7 315.6L594.0 314.0L594.4 312.1L594.7 312.4L595.1 311.6L595.4 311.6L595.8 309.9L596.1 310.5L596.5 312.5L596.8 313.5L597.2 314.3L597.5 314.6L597.9 316.0L598.2 315.8L598.6 316.0L598.9 316.9L599.3 317.2L599.6 317.7L600.0 318.0L600.3 316.8L600.7 317.8L601.0 317.9L601.4 317.2L601.7 317.7L602.1 317.8L602.5 318.0L602.8 317.5L603.2 317.6L603.5 317.4L603.9 318.1L604.2 317.8L604.6 317.7L604.9 318.2L605.3 317.9L605.6 317.4L606.0 318.5L606.3 318.4L606.7 318.2L607.0 317.5L607.4 318.5L607.7 317.7L608.1 317.1L608.4 317.9L608.8 318.8L609.1 317.8L609.5 318.2L609.8 318.6L610.2 318.1L610.5 317.8L610.9 318.0L611.2 318.2L611.6 317.7L612.0 318.1L612.3 318.2L612.7 317.8L613.0 318.3L613.4 318.2L613.7 317.8L614.1 317.9L614.4 318.0L614.8 317.9L615.1 317.9L615.5 317.5L615.8 318.0L616.2 318.3L616.5 318.2L616.9 317.6L617.2 318.2L617.6 318.2L617.9 317.5L618.3 318.1L618.6 317.8L619.0 317.7L619.3 318.0L619.7 317.8L620.0 316.9L620.4 318.0L620.7 317.3L621.1 317.8L621.5 318.1L621.8 317.7L622.2 317.6L622.5 317.8L622.9 318.0L623.2 317.4L623.6 317.4L623.9 317.9L624.3 318.4L624.6 317.6L625.0 318.0L625.3 317.2L625.7 317.5L626.0 317.5L626.4 316.8L626.7 317.3L627.1 317.1L627.4 316.0L627.8 317.0L628.1 317.1L628.5 316.9L628.8 316.8L629.2 316.1L629.5 316.1L629.9 316.2L630.2 315.7L630.6 315.7L631.0 316.3L631.3 315.1L631.7 315.2L632.0 315.9L632.4 314.8L632.7 314.2L633.1 314.6L633.4 314.3L633.8 314.1L634.1 313.1L634.5 313.8L634.8 313.6L635.2 314.2L635.5 313.5L635.9 312.9L636.2 313.2L636.6 313.4L636.9 313.1L637.3 313.2L637.6 313.9L638.0 313.6L638.3 313.8L638.7 313.3L639.0 314.1L639.4 313.3L639.7 314.9L640.1 314.4L640.5 315.1L640.8 315.6L641.2 314.7L641.5 316.0L641.9 315.7L642.2 316.3L642.6 315.8L642.9 315.9L643.3 316.9L643.6 316.6L644.0 316.6L644.3 316.2L644.7 317.4L645.0 316.8L645.4 316.9L645.7 316.8L646.1 317.1L646.4 317.4L646.8 317.2L647.1 317.2L647.5 317.0L647.8 317.9L648.2 317.9L648.5 317.0L648.9 316.7L649.2 317.1L649.6 316.1L650.0 316.7L650.3 316.5L650.7 316.2L651.0 316.6L651.4 316.4L651.7 315.5L652.1 314.9L652.4 315.4L652.8 315.3L653.1 314.3L653.5 314.6L653.8 315.1L654.2 314.7L654.5 315.3L654.9 316.8L655.2 315.8L655.6 316.9L655.9 316.4L656.3 317.4L656.6 317.3L657.0 317.6L657.3 316.7L657.7 317.5L658.0 317.2L658.4 317.8L658.7 317.8L659.1 317.6L659.5 317.4L659.8 317.5L660.2 317.6L660.5 317.2L660.9 317.2L661.2 317.0L661.6 316.7L661.9 317.5L662.3 316.2L662.6 317.1L663.0 316.6L663.3 315.1L663.7 314.7L664.0 315.0L664.4 314.0L664.7 314.0L665.1 313.8L665.4 313.1L665.8 312.5L666.1 312.3L666.5 313.1L666.8 312.5L667.2 313.8L667.5 314.5L667.9 313.9L668.2 314.8L668.6 315.9L669.0 315.3L669.3 316.2L669.7 316.8L670.0 316.2L670.4 317.0L670.7 317.1L671.1 316.9L671.4 317.9L671.8 317.3L672.1 318.4L672.5 317.7L672.8 317.1L673.2 317.5L673.5 317.1L673.9 317.8L674.2 317.7L674.6 316.8L674.9 317.1L675.3 317.4L675.6 317.1L676.0 316.5L676.3 317.3L676.7 317.2L677.0 315.7L677.4 316.6L677.7 314.7L678.1 315.1L678.5 314.5L678.8 314.0L679.2 313.9L679.5 313.0L679.9 313.2L680.2 313.9L680.6 313.4L680.9 314.1L681.3 314.1L681.6 313.4L682.0 315.3L682.3 315.3L682.7 315.6L683.0 315.4L683.4 315.6L683.7 315.6L684.1 316.1L684.4 316.3L684.8 316.1L685.1 316.1L685.5 315.2L685.8 315.5L686.2 315.3L686.5 315.4L686.9 314.7L687.2 314.3L687.6 314.1L688.0 313.4L688.3 312.9L688.7 313.0L689.0 311.8L689.4 311.0L689.7 311.2L690.1 310.9L690.4 310.5L690.8 309.5L691.1 310.4L691.5 310.0L691.8 310.0L692.2 310.0L692.5 310.2L692.9 310.2L693.2 310.5L693.6 309.9L693.9 309.6L694.3 309.7L694.6 309.1L695.0 309.4L695.3 308.8L695.7 309.0L696.0 308.4L696.4 309.2L696.7 309.2L697.1 308.9L697.5 309.5L697.8 310.2L698.2 310.2L698.5 310.8L698.9 312.1L699.2 312.7L699.6 313.6L699.9 313.0L700.3 313.8L700.6 313.5L701.0 315.6L701.3 314.6L701.7 315.3L702.0 316.5L702.4 316.5L702.7 315.7L703.1 317.2L703.4 316.5L703.8 315.9L704.1 316.4L704.5 316.6L704.8 316.4L705.2 315.1L705.5 316.5L705.9 314.5L706.2 314.4L706.6 314.1L707.0 312.3L707.3 310.3L707.7 307.9L708.0 306.0L708.4 304.0L708.7 301.2L709.1 300.5L709.4 300.4L709.8 301.9L710.1 303.3L710.5 306.8L710.8 309.5L711.2 311.1L711.5 313.3L711.9 314.3L712.2 315.7L712.6 315.9L712.9 316.1L713.3 316.4L713.6 316.9L714.0 317.1L714.3 316.8L714.7 317.2L715.0 316.8L715.4 316.8L715.7 317.8L716.1 317.7L716.5 318.0L716.8 317.7L717.2 317.8L717.5 318.5L717.9 317.3L718.2 317.9L718.6 318.4L718.9 318.7L719.3 318.0L719.6 317.8L720.0 317.4L720.3 317.8L720.7 317.9L721.0 317.9L721.4 318.1L721.7 318.1L722.1 317.7L722.4 317.5L722.8 317.8L723.1 318.1L723.5 318.6L723.8 317.2L724.2 318.4L724.5 317.8L724.9 318.4L725.2 318.8L725.6 318.2L726.0 317.5L726.3 317.8L726.7 318.1L727.0 317.8L727.4 317.9L727.7 317.6L728.1 317.9L728.4 317.7L728.8 318.4L729.1 318.1L729.5 318.3L729.8 317.3L730.2 317.8L730.5 317.7L730.9 317.8L731.2 317.6L731.6 317.7L731.9 318.7L732.3 317.9L732.6 317.4L733.0 317.9L733.3 318.9L733.7 318.3L734.0 317.6L734.4 317.9L734.7 317.9L735.1 318.0L735.5 317.1L735.8 317.5L736.2 317.9L736.5 317.2L736.9 317.8L737.2 317.9L737.6 318.2L737.9 318.3L738.3 317.7L738.6 317.9L739.0 318.1L739.3 318.2L739.7 317.7L740.0 317.3L740.4 317.9L740.7 317.9L741.1 317.6L741.4 317.7L741.8 318.1L742.1 317.1L742.5 316.9L742.8 316.7L743.2 317.2L743.5 317.4L743.9 316.7L744.2 317.7L744.6 316.6L745.0 316.9L745.3 316.6L745.7 317.2L746.0 316.3L746.4 317.3L746.7 316.5L747.1 316.0L747.4 316.4L747.8 316.6L748.1 317.4L748.5 316.5L748.8 316.8L749.2 317.8L749.5 317.0L749.9 316.7L750.2 316.8L750.6 316.5L750.9 317.4L751.3 317.8L751.6 317.2L752.0 317.0L752.3 317.6L752.7 317.5L753.0 317.5L753.4 317.8L753.7 317.7L754.1 317.5L754.5 318.1L754.8 316.9L755.2 317.3L755.5 317.7L755.9 317.2L756.2 318.5L756.6 316.9L756.9 318.1L757.3 318.1L757.6 318.0L758.0 318.0L758.3 317.6L758.7 317.5L759.0 318.5L759.4 317.8L759.7 317.2L760.1 317.3L760.4 317.2L760.8 317.9L761.1 318.3L761.5 317.7L761.8 317.9L762.2 317.6L762.5 318.2L762.9 318.2L763.2 318.2L763.6 318.5L764.0 317.2L764.3 318.1L764.7 317.1L765.0 318.0L765.4 318.0L765.7 318.0L766.1 318.0L766.4 317.5L766.8 317.2L767.1 317.8L767.5 317.1L767.8 317.6L768.2 316.9L768.5 317.3L768.9 317.1L769.2 316.5L769.6 316.6L769.9 316.9L770.3 316.3L770.6 316.3L771.0 315.6L771.3 315.6L771.7 314.7L772.0 314.6L772.4 315.2L772.7 314.5L773.1 314.0L773.5 313.7L773.8 312.7L774.2 313.1L774.5 312.1L774.9 312.1L775.2 312.4L775.6 311.7L775.9 311.7L776.3 311.8L776.6 311.9L777.0 312.5L777.3 311.3L777.7 312.0L778.0 312.6L778.4 312.3L778.7 312.5L779.1 312.5L779.4 312.8L779.8 313.3L780.1 313.6L780.5 313.2L780.8 313.7L781.2 313.1L781.5 312.4L781.9 313.4L782.2 312.4L782.6 313.4L783.0 313.6L783.3 313.4L783.7 314.1L784.0 314.3L784.4 315.0L784.7 315.1L785.1 315.9L785.4 315.8L785.8 316.5L786.1 316.5L786.5 316.8L786.8 316.9L787.2 316.8L787.5 317.7L787.9 317.6L788.2 316.4L788.6 317.0L788.9 318.3L789.3 317.5L789.6 318.8L790.0 317.9L790.3 317.9L790.7 317.5L791.0 317.7L791.4 317.8L791.7 318.2L792.1 317.8L792.5 317.7L792.8 317.3L793.2 317.5L793.5 317.5L793.9 317.5L794.2 317.2L794.6 316.9L794.9 317.1L795.3 316.0L795.6 316.2L796.0 316.2L796.3 316.5L796.7 315.7L797.0 315.3L797.4 315.7L797.7 315.2L798.1 315.7L798.4 315.0L798.8 314.9L799.1 315.2L799.5 316.4L799.8 316.6L800.2 316.3L800.5 316.9L800.9 316.2L801.2 317.5L801.6 317.3L802.0 317.3L802.3 317.5L802.7 317.7L803.0 317.5L803.4 317.5L803.7 317.2L804.1 318.4L804.4 317.4L804.8 317.7L805.1 318.2L805.5 318.2L805.8 318.3L806.2 317.4L806.5 317.4L806.9 317.5L807.2 316.6L807.6 317.6L807.9 316.3L808.3 316.6L808.6 316.5L809.0 315.8L809.3 314.5L809.7 314.1L810.0 313.0L810.4 310.7L810.8 310.2L811.1 309.8L811.5 309.4L811.8 309.4L812.2 310.3L812.5 312.4L812.9 312.4L813.2 314.2L813.6 314.2L813.9 315.8L814.3 316.7L814.6 316.5L815.0 316.8L815.3 318.1L815.7 317.4L816.0 318.1L816.4 317.1L816.7 318.6L817.1 317.1L817.4 317.6L817.8 317.7L818.1 318.0L818.5 318.1L818.8 318.8L819.2 319.0L819.5 318.9L819.9 318.5L820.3 318.3L820.6 317.3L821.0 318.2L821.3 318.0L821.7 318.5L822.0 317.8L822.4 317.9L822.7 317.9L823.1 318.5L823.4 318.3L823.8 317.8L824.1 317.6L824.5 318.0L824.8 318.0L825.2 318.1L825.5 318.3L825.9 318.6L826.2 318.6L826.6 318.0L826.9 318.0L827.3 318.9L827.6 318.2L828.0 318.5L828.3 318.3L828.7 318.3L829.0 318.8L829.4 318.0L829.8 318.5L830.1 318.2L830.5 317.8L830.8 317.6L831.2 317.5L831.5 318.1L831.9 317.9L832.2 317.0L832.6 317.4L832.9 316.4L833.3 317.1L833.6 317.9L834.0 316.5L834.3 317.1L834.7 316.8L835.0 317.2L835.4 316.8L835.7 317.4L836.1 316.5L836.4 317.5L836.8 317.6L837.1 317.8L837.5 318.8L837.8 317.5L838.2 317.8L838.5 317.6L838.9 318.4L839.3 318.3L839.6 317.8L840.0 318.7L840.3 318.5L840.7 319.0L841.0 318.7L841.4 318.5L841.7 318.1L842.1 317.5L842.4 318.2L842.8 318.9L843.1 318.4L843.5 318.1L843.8 318.6L844.2 318.8L844.5 319.7L844.9 318.1L845.2 318.3L845.6 318.0L845.9 318.2L846.3 318.9L846.6 318.5L847.0 317.9L847.3 319.1L847.7 319.3L848.0 318.9L848.4 318.1L848.8 318.1L849.1 319.1L849.5 318.1L849.8 318.3L850.2 317.9L850.5 319.4L850.9 318.2L851.2 318.5L851.6 318.2L851.9 318.2L852.3 318.0L852.6 319.0L853.0 318.2L853.3 319.2L853.7 318.0L854.0 318.8L854.4 319.0L854.7 318.0L855.1 318.7L855.4 318.3L855.8 318.1L856.1 318.4L856.5 317.7L856.8 318.4L857.2 317.9L857.5 318.8L857.9 319.2L858.3 319.2L858.6 318.2L859.0 318.5L859.3 319.4L859.7 319.1L860.0 318.8L860.4 317.6L860.7 318.4L861.1 319.5L861.4 318.7L861.8 318.3L862.1 318.6L862.5 319.6L862.8 319.1L863.2 318.0L863.5 318.0L863.9 318.5L864.2 319.1L864.6 318.2L864.9 318.2L865.3 317.3L865.6 318.2L866.0 318.7L866.3 318.6L866.7 317.7L867.0 318.6L867.4 317.9L867.8 317.6L868.1 318.3L868.5 317.3L868.8 317.7L869.2 317.5L869.5 317.7L869.9 317.7L870.2 317.3L870.6 317.0L870.9 317.0L871.3 316.1L871.6 316.9L872.0 317.8L872.3 317.0L872.7 317.2L873.0 316.7L873.4 316.7L873.7 316.9L874.1 317.0L874.4 317.1L874.8 316.6L875.1 317.1L875.5 316.5L875.8 317.8L876.2 317.4L876.5 317.5L876.9 317.2L877.3 318.0L877.6 318.4L878.0 318.3L878.3 318.6L878.7 317.9L879.0 318.7L879.4 318.3L879.7 317.2L880.1 318.6L880.4 318.0L880.8 318.4L881.1 318.2L881.5 318.2L881.8 319.1L882.2 318.4L882.5 318.7L882.9 318.9L883.2 318.5L883.6 318.1L883.9 318.7L884.3 318.6L884.6 318.3L885.0 318.8L885.3 319.3L885.7 319.1L886.0 319.4L886.4 319.4L886.8 318.8L887.1 318.8L887.5 318.3L887.8 319.3L888.2 318.5L888.5 319.0L888.9 319.5L889.2 318.8L889.6 318.1L889.9 318.3L890.3 318.6L890.6 319.4L891.0 318.6L891.3 318.7L891.7 318.3L892.0 319.0L892.4 318.8L892.7 319.2L893.1 318.4L893.4 319.1L893.8 318.2L894.1 318.5L894.5 318.6L894.8 318.7L895.2 319.0L895.5 317.8L895.9 318.8L896.3 318.6L896.6 318.2L897.0 318.7L897.3 319.0L897.7 318.6L898.0 318.6L898.4 319.1L898.7 318.5L899.1 319.3L899.4 319.0L899.8 319.0L900.1 319.1L900.5 319.4L900.8 318.5L901.2 319.3L901.5 318.4L901.9 319.0L902.2 319.1L902.6 318.9L902.9 318.3L903.3 318.3L903.6 318.3L904.0 318.8L904.3 318.9L904.7 319.1L905.0 318.1L905.4 318.9L905.8 319.2L906.1 318.9L906.5 318.8L906.8 319.1L907.2 319.5L907.5 319.4L907.9 319.4L908.2 318.1L908.6 319.3L908.9 318.5L909.3 319.0L909.6 318.3L910.0 318.7L910.3 318.2L910.7 318.2L911.0 319.1L911.4 317.6L911.7 318.5L912.1 318.0L912.4 317.3L912.8 318.3L913.1 317.6L913.5 317.2L913.8 317.5L914.2 316.9L914.5 317.9L914.9 316.4L915.3 316.8L915.6 316.1L916.0 317.1L916.3 317.4L916.7 317.5L917.0 317.9L917.4 317.3L917.7 317.3L918.1 318.0L918.4 317.5L918.8 318.0L919.1 317.8L919.5 317.8L919.8 318.2L920.2 318.8L920.5 318.8L920.9 318.6L921.2 317.4L921.6 318.6L921.9 318.8L922.3 319.0L922.6 318.4L923.0 319.2L923.3 319.0L923.7 318.0L924.0 319.2L924.4 319.6L924.8 319.0L925.1 318.6L925.5 319.7L925.8 319.4L926.2 318.1L926.5 319.4L926.9 319.1L927.2 319.1L927.6 318.2L927.9 318.2L928.3 319.0L928.6 319.8L929.0 319.0L929.3 319.0L929.7 318.7L930.0 318.8L930.4 319.4L930.7 318.6L931.1 319.8L931.4 319.2L931.8 319.1L932.1 318.9L932.5 318.6L932.8 318.8L933.2 318.3L933.5 318.9L933.9 318.0L934.3 319.8L934.6 318.8L935.0 318.1L935.3 318.9L935.7 318.8L936.0 318.5L936.4 318.8L936.7 318.3L937.1 318.5L937.4 318.4L937.8 318.6L938.1 318.1L938.5 318.4L938.8 316.9L939.2 318.5L939.5 318.0L939.9 318.0L940.2 317.5L940.6 317.9L940.9 317.4L941.3 317.4L941.6 317.2L942.0 316.9L942.3 316.7L942.7 317.3L943.0 317.4L943.4 317.2L943.8 317.8L944.1 317.4L944.5 317.7L944.8 318.1L945.2 318.1L945.5 317.8L945.9 317.5L946.2 317.8L946.6 317.8L946.9 318.7L947.3 316.9L947.6 319.5L948.0 318.2L948.3 319.2L948.7 318.9L949.0 319.1L949.4 318.3L949.7 319.4L950.1 318.9L950.4 319.2L950.8 318.6L951.1 319.0L951.5 318.7L951.8 319.2L952.2 319.3L952.5 318.9L952.9 319.3L953.3 319.3L953.6 319.0L954.0 319.0L954.3 318.2L954.7 319.6L955.0 319.2L955.4 319.0L955.7 319.2L956.1 318.9" stroke="#008080" stroke-width="3.2"/>
<path d="M146.1 186.6L146.4 186.1L146.8 187.2L147.1 187.9L147.5 188.6L147.8 187.6L148.2 187.0L148.6 186.8L148.9 188.3L149.3 189.2L149.6 187.9L150.0 186.4L150.3 186.7L150.7 189.2L151.0 187.8L151.4 185.9L151.7 187.6L152.1 186.5L152.4 187.1L152.8 187.2L153.1 187.0L153.5 188.3L153.8 187.7L154.2 187.2L154.5 188.2L154.9 188.6L155.2 186.1L155.6 187.5L155.9 186.8L156.3 187.6L156.6 186.5L157.0 187.8L157.3 187.8L157.7 187.5L158.1 186.8L158.4 187.4L158.8 186.7L159.1 186.4L159.5 188.0L159.8 186.7L160.2 188.9L160.5 188.5L160.9 185.7L161.2 188.0L161.6 186.6L161.9 187.6L162.3 187.6L162.6 185.5L163.0 187.2L163.3 187.0L163.7 188.1L164.0 185.7L164.4 187.4L164.7 185.2L165.1 185.5L165.4 184.2L165.8 185.3L166.1 182.5L166.5 181.6L166.8 175.8L167.2 170.7L167.6 164.2L167.9 155.8L168.3 150.2L168.6 148.3L169.0 147.3L169.3 152.5L169.7 158.9L170.0 166.5L170.4 171.7L170.7 176.9L171.1 180.9L171.4 183.3L171.8 184.1L172.1 186.9L172.5 185.5L172.8 186.1L173.2 186.4L173.5 188.9L173.9 187.8L174.2 187.4L174.6 187.5L174.9 189.2L175.3 187.8L175.6 187.7L176.0 189.7L176.4 188.0L176.7 189.0L177.1 189.4L177.4 189.0L177.8 189.5L178.1 191.0L178.5 189.2L178.8 188.5L179.2 188.0L179.5 189.7L179.9 189.6L180.2 190.2L180.6 189.5L180.9 189.6L181.3 189.4L181.6 189.6L182.0 190.4L182.3 189.9L182.7 190.4L183.0 192.2L183.4 190.9L183.7 188.8L184.1 192.2L184.4 190.8L184.8 189.6L185.1 191.5L185.5 190.6L185.9 190.0L186.2 190.1L186.6 189.7L186.9 190.8L187.3 191.9L187.6 190.5L188.0 191.3L188.3 192.8L188.7 189.7L189.0 191.3L189.4 190.7L189.7 190.0L190.1 190.1L190.4 191.1L190.8 191.5L191.1 190.6L191.5 191.1L191.8 191.8L192.2 191.4L192.5 192.0L192.9 191.5L193.2 191.6L193.6 192.9L193.9 191.7L194.3 191.2L194.6 191.8L195.0 190.2L195.4 190.7L195.7 191.9L196.1 191.7L196.4 192.6L196.8 191.1L197.1 189.6L197.5 193.0L197.8 192.2L198.2 190.0L198.5 192.4L198.9 191.1L199.2 189.2L199.6 190.6L199.9 190.5L200.3 192.6L200.6 190.2L201.0 190.8L201.3 190.8L201.7 190.7L202.0 190.1L202.4 191.2L202.7 192.1L203.1 191.6L203.4 190.1L203.8 189.9L204.1 191.1L204.5 190.3L204.9 190.4L205.2 189.3L205.6 192.9L205.9 191.9L206.3 190.0L206.6 191.9L207.0 192.3L207.3 188.6L207.7 190.4L208.0 190.6L208.4 191.6L208.7 190.8L209.1 190.7L209.4 190.9L209.8 192.8L210.1 193.1L210.5 190.4L210.8 190.0L211.2 193.6L211.5 189.9L211.9 190.2L212.2 190.8L212.6 191.3L212.9 191.8L213.3 191.1L213.6 189.8L214.0 191.2L214.4 190.9L214.7 192.5L215.1 190.6L215.4 189.2L215.8 189.5L216.1 192.0L216.5 189.9L216.8 188.3L217.2 189.8L217.5 190.4L217.9 191.6L218.2 189.3L218.6 191.0L218.9 191.1L219.3 189.6L219.6 190.1L220.0 192.0L220.3 191.9L220.7 191.0L221.0 190.5L221.4 191.2L221.7 189.9L222.1 190.0L222.4 189.2L222.8 190.0L223.1 189.9L223.5 192.7L223.9 189.7L224.2 191.2L224.6 191.2L224.9 189.7L225.3 191.0L225.6 187.6L226.0 189.9L226.3 190.6L226.7 187.3L227.0 188.5L227.4 190.7L227.7 189.4L228.1 188.5L228.4 189.2L228.8 189.0L229.1 190.3L229.5 190.0L229.8 189.2L230.2 188.8L230.5 189.4L230.9 190.7L231.2 189.7L231.6 190.0L231.9 189.2L232.3 188.0L232.6 188.6L233.0 189.9L233.4 189.3L233.7 188.3L234.1 187.6L234.4 189.3L234.8 188.8L235.1 188.8L235.5 188.8L235.8 189.4L236.2 189.3L236.5 190.0L236.9 189.9L237.2 190.3L237.6 189.8L237.9 188.6L238.3 188.9L238.6 189.4L239.0 188.6L239.3 189.4L239.7 190.0L240.0 188.0L240.4 187.0L240.7 189.9L241.1 188.7L241.4 189.4L241.8 187.3L242.1 190.4L242.5 189.4L242.9 188.5L243.2 188.2L243.6 188.7L243.9 188.4L244.3 188.2L244.6 187.4L245.0 189.7L245.3 188.4L245.7 188.5L246.0 188.5L246.4 186.0L246.7 188.9L247.1 188.0L247.4 188.0L247.8 188.3L248.1 187.3L248.5 189.1L248.8 187.5L249.2 187.3L249.5 187.3L249.9 188.3L250.2 188.9L250.6 187.5L250.9 186.5L251.3 189.1L251.6 186.9L252.0 189.2L252.4 187.9L252.7 187.2L253.1 187.3L253.4 188.4L253.8 188.8L254.1 187.6L254.5 188.8L254.8 189.9L255.2 187.6L255.5 186.6L255.9 186.7L256.2 186.3L256.6 187.0L256.9 186.9L257.3 186.3L257.6 188.1L258.0 185.0L258.3 186.2L258.7 189.5L259.0 188.5L259.4 188.0L259.7 187.9L260.1 189.2L260.4 187.9L260.8 187.5L261.1 186.1L261.5 187.3L261.9 186.6L262.2 186.6L262.6 186.6L262.9 187.2L263.3 186.9L263.6 188.1L264.0 185.8L264.3 187.0L264.7 189.0L265.0 187.1L265.4 188.3L265.7 188.2L266.1 188.4L266.4 187.7L266.8 185.6L267.1 186.7L267.5 186.6L267.8 185.4L268.2 186.4L268.5 185.6L268.9 185.2L269.2 187.0L269.6 186.8L269.9 186.1L270.3 185.8L270.6 186.2L271.0 186.3L271.4 186.3L271.7 186.6L272.1 186.2L272.4 187.0L272.8 187.1L273.1 186.9L273.5 185.9L273.8 185.9L274.2 186.9L274.5 186.2L274.9 186.4L275.2 183.9L275.6 183.7L275.9 186.7L276.3 186.6L276.6 187.7L277.0 187.0L277.3 186.5L277.7 186.2L278.0 184.7L278.4 187.0L278.7 185.5L279.1 186.6L279.4 186.3L279.8 186.3L280.1 186.9L280.5 185.5L280.9 185.5L281.2 185.0L281.6 185.5L281.9 187.5L282.3 185.4L282.6 186.9L283.0 186.5L283.3 186.4L283.7 186.4L284.0 184.6L284.4 185.9L284.7 187.1L285.1 184.7L285.4 185.3L285.8 184.6L286.1 185.5L286.5 184.0L286.8 186.6L287.2 184.5L287.5 183.2L287.9 186.4L288.2 185.4L288.6 184.7L288.9 184.4L289.3 183.1L289.6 182.6L290.0 182.6L290.4 181.5L290.7 179.7L291.1 176.7L291.4 173.3L291.8 170.7L292.1 169.3L292.5 167.8L292.8 165.7L293.2 166.9L293.5 171.0L293.9 173.3L294.2 176.0L294.6 176.4L294.9 179.2L295.3 180.4L295.6 182.1L296.0 180.9L296.3 184.3L296.7 183.7L297.0 184.0L297.4 182.6L297.7 183.9L298.1 185.3L298.4 182.5L298.8 184.5L299.1 184.9L299.5 183.6L299.9 185.2L300.2 184.1L300.6 185.7L300.9 185.0L301.3 184.7L301.6 186.5L302.0 185.4L302.3 185.9L302.7 183.4L303.0 184.0L303.4 185.5L303.7 185.6L304.1 184.6L304.4 185.5L304.8 183.6L305.1 184.9L305.5 183.6L305.8 185.1L306.2 184.2L306.5 184.1L306.9 184.8L307.2 186.5L307.6 183.7L307.9 184.1L308.3 185.8L308.6 184.3L309.0 186.4L309.4 184.9L309.7 184.7L310.1 185.0L310.4 186.3L310.8 185.2L311.1 185.0L311.5 184.7L311.8 182.8L312.2 183.4L312.5 185.7L312.9 184.9L313.2 184.5L313.6 184.5L313.9 183.2L314.3 183.9L314.6 182.4L315.0 183.5L315.3 182.1L315.7 182.2L316.0 182.5L316.4 181.1L316.7 181.4L317.1 180.2L317.4 178.6L317.8 177.3L318.1 170.9L318.5 165.4L318.9 159.9L319.2 149.7L319.6 137.6L319.9 121.6L320.3 107.5L320.6 96.0L321.0 96.1L321.3 103.4L321.7 114.9L322.0 129.9L322.4 144.6L322.7 156.5L323.1 161.9L323.4 171.0L323.8 175.3L324.1 177.6L324.5 179.7L324.8 181.1L325.2 180.5L325.5 182.5L325.9 182.3L326.2 182.0L326.6 183.5L326.9 185.1L327.3 182.3L327.6 182.4L328.0 182.5L328.4 186.3L328.7 184.2L329.1 184.5L329.4 183.8L329.8 183.8L330.1 182.8L330.5 185.0L330.8 185.2L331.2 183.1L331.5 184.1L331.9 184.4L332.2 185.2L332.6 185.4L332.9 186.3L333.3 186.6L333.6 186.2L334.0 186.4L334.3 183.8L334.7 184.3L335.0 185.7L335.4 184.5L335.7 183.8L336.1 180.9L336.4 179.7L336.8 180.2L337.1 176.7L337.5 171.7L337.9 166.0L338.2 158.1L338.6 153.4L338.9 148.8L339.3 147.3L339.6 147.9L340.0 153.2L340.3 159.1L340.7 168.2L341.0 174.4L341.4 176.6L341.7 180.8L342.1 182.8L342.4 183.7L342.8 182.7L343.1 185.5L343.5 187.0L343.8 185.3L344.2 186.2L344.5 184.1L344.9 188.8L345.2 188.2L345.6 187.9L345.9 187.7L346.3 187.4L346.6 188.1L347.0 187.9L347.4 188.0L347.7 188.3L348.1 188.5L348.4 190.0L348.8 187.0L349.1 188.8L349.5 188.0L349.8 187.5L350.2 186.3L350.5 189.3L350.9 187.7L351.2 188.0L351.6 189.2L351.9 187.7L352.3 188.8L352.6 188.7L353.0 189.6L353.3 189.9L353.7 188.0L354.0 189.8L354.4 188.8L354.7 189.1L355.1 188.7L355.4 189.7L355.8 187.8L356.1 189.3L356.5 190.2L356.9 188.7L357.2 191.1L357.6 188.3L357.9 189.3L358.3 188.6L358.6 188.5L359.0 188.0L359.3 188.6L359.7 189.0L360.0 188.3L360.4 190.0L360.7 190.6L361.1 187.6L361.4 189.9L361.8 189.3L362.1 189.3L362.5 191.5L362.8 190.2L363.2 189.2L363.5 189.0L363.9 186.6L364.2 189.4L364.6 187.8L364.9 188.7L365.3 188.5L365.6 189.3L366.0 190.4L366.4 189.4L366.7 189.7L367.1 188.3L367.4 189.1L367.8 189.5L368.1 187.4L368.5 191.0L368.8 188.4L369.2 187.9L369.5 190.9L369.9 191.4L370.2 188.7L370.6 188.9L370.9 192.7L371.3 189.8L371.6 187.7L372.0 189.2L372.3 191.9L372.7 190.6L373.0 190.8L373.4 191.3L373.7 190.9L374.1 189.9L374.4 188.7L374.8 190.8L375.1 189.3L375.5 190.5L375.9 192.4L376.2 191.2L376.6 190.8L376.9 190.9L377.3 191.6L377.6 191.9L378.0 189.7L378.3 191.3L378.7 192.9L379.0 192.0L379.4 190.5L379.7 190.7L380.1 189.3L380.4 190.7L380.8 193.1L381.1 191.5L381.5 190.7L381.8 191.0L382.2 191.5L382.5 191.6L382.9 191.3L383.2 191.0L383.6 192.4L383.9 193.3L384.3 191.3L384.7 191.3L385.0 193.1L385.4 190.5L385.7 191.4L386.1 191.6L386.4 192.2L386.8 191.8L387.1 191.2L387.5 192.5L387.8 191.0L388.2 190.5L388.5 190.2L388.9 193.0L389.2 190.6L389.6 192.8L389.9 193.1L390.3 193.2L390.6 192.3L391.0 192.0L391.3 192.6L391.7 192.0L392.0 191.3L392.4 193.9L392.7 191.8L393.1 194.5L393.4 193.3L393.8 192.3L394.2 193.2L394.5 194.1L394.9 191.5L395.2 192.0L395.6 191.9L395.9 193.1L396.3 193.4L396.6 193.1L397.0 192.3L397.3 192.6L397.7 194.3L398.0 194.3L398.4 193.3L398.7 191.9L399.1 193.9L399.4 193.6L399.8 193.6L400.1 195.1L400.5 194.2L400.8 192.5L401.2 192.6L401.5 195.0L401.9 193.8L402.2 194.6L402.6 193.6L402.9 192.8L403.3 194.2L403.7 195.5L404.0 194.3L404.4 192.8L404.7 193.6L405.1 193.4L405.4 193.9L405.8 194.6L406.1 195.3L406.5 193.2L406.8 192.2L407.2 192.2L407.5 191.7L407.9 190.9L408.2 191.1L408.6 191.1L408.9 190.1L409.3 192.3L409.6 192.0L410.0 191.9L410.3 193.9L410.7 193.3L411.0 195.9L411.4 194.8L411.7 194.5L412.1 193.6L412.4 193.6L412.8 194.4L413.2 192.2L413.5 192.8L413.9 188.8L414.2 190.0L414.6 189.7L414.9 188.7L415.3 188.6L415.6 190.4L416.0 189.8L416.3 190.9L416.7 193.2L417.0 195.3L417.4 195.4L417.7 195.4L418.1 196.3L418.4 196.8L418.8 195.3L419.1 194.0L419.5 195.9L419.8 195.6L420.2 196.6L420.5 196.0L420.9 196.4L421.2 197.8L421.6 197.5L421.9 197.5L422.3 199.2L422.7 197.2L423.0 197.3L423.4 199.0L423.7 196.7L424.1 196.2L424.4 199.2L424.8 198.3L425.1 198.6L425.5 198.7L425.8 199.0L426.2 197.6L426.5 198.1L426.9 197.1L427.2 198.4L427.6 198.5L427.9 197.9L428.3 199.0L428.6 201.3L429.0 197.3L429.3 199.3L429.7 199.4L430.0 199.6L430.4 197.7L430.7 199.7L431.1 199.2L431.4 198.4L431.8 198.2L432.2 198.7L432.5 199.3L432.9 199.1L433.2 200.2L433.6 197.2L433.9 197.7L434.3 196.1L434.6 196.6L435.0 195.3L435.3 194.1L435.7 193.1L436.0 193.8L436.4 195.2L436.7 197.1L437.1 197.2L437.4 195.9L437.8 197.2L438.1 198.3L438.5 198.5L438.8 199.0L439.2 199.9L439.5 199.5L439.9 198.8L440.2 197.6L440.6 199.3L440.9 198.0L441.3 199.6L441.7 200.1L442.0 198.5L442.4 199.8L442.7 199.6L443.1 201.9L443.4 200.5L443.8 198.2L444.1 200.5L444.5 200.6L444.8 200.0L445.2 199.8L445.5 200.9L445.9 201.0L446.2 200.8L446.6 199.4L446.9 200.2L447.3 198.9L447.6 199.0L448.0 200.0L448.3 199.5L448.7 200.2L449.0 203.1L449.4 201.2L449.7 199.8L450.1 198.6L450.4 199.9L450.8 199.3L451.2 198.6L451.5 201.5L451.9 200.3L452.2 201.3L452.6 203.9L452.9 201.1L453.3 201.0L453.6 201.2L454.0 200.6L454.3 200.1L454.7 200.7L455.0 202.1L455.4 200.7L455.7 199.6L456.1 199.7L456.4 200.0L456.8 201.0L457.1 201.5L457.5 201.5L457.8 202.2L458.2 200.9L458.5 201.9L458.9 201.4L459.2 201.8L459.6 199.3L459.9 202.4L460.3 199.6L460.7 200.0L461.0 202.0L461.4 200.8L461.7 203.0L462.1 201.4L462.4 200.2L462.8 201.4L463.1 200.8L463.5 202.8L463.8 202.9L464.2 202.0L464.5 200.8L464.9 201.3L465.2 202.2L465.6 200.4L465.9 200.4L466.3 202.0L466.6 201.9L467.0 200.9L467.3 200.8L467.7 199.1L468.0 202.1L468.4 200.8L468.7 199.4L469.1 199.6L469.4 199.8L469.8 202.3L470.2 201.1L470.5 198.9L470.9 201.9L471.2 201.2L471.6 198.5L471.9 196.6L472.3 199.7L472.6 197.5L473.0 197.1L473.3 195.3L473.7 194.9L474.0 191.9L474.4 186.3L474.7 178.6L475.1 170.4L475.4 160.6L475.8 148.0L476.1 142.6L476.5 137.8L476.8 141.6L477.2 149.8L477.5 160.9L477.9 171.2L478.2 181.0L478.6 185.2L478.9 189.5L479.3 193.8L479.7 195.1L480.0 197.9L480.4 197.0L480.7 198.4L481.1 199.5L481.4 199.6L481.8 198.7L482.1 199.7L482.5 199.2L482.8 195.9L483.2 197.5L483.5 197.0L483.9 196.3L484.2 196.0L484.6 196.9L484.9 197.6L485.3 198.1L485.6 199.8L486.0 200.0L486.3 199.0L486.7 199.4L487.0 201.5L487.4 200.3L487.7 201.4L488.1 202.0L488.4 202.7L488.8 202.4L489.2 203.4L489.5 201.6L489.9 202.8L490.2 201.5L490.6 202.4L490.9 202.4L491.3 201.4L491.6 199.8L492.0 203.4L492.3 202.8L492.7 202.6L493.0 201.8L493.4 202.2L493.7 203.0L494.1 202.6L494.4 203.8L494.8 202.8L495.1 201.9L495.5 203.3L495.8 202.1L496.2 203.0L496.5 201.0L496.9 202.4L497.2 203.4L497.6 202.2L497.9 202.8L498.3 203.4L498.7 202.9L499.0 204.7L499.4 202.6L499.7 202.7L500.1 202.8L500.4 201.0L500.8 201.4L501.1 203.5L501.5 202.6L501.8 204.4L502.2 202.9L502.5 202.8L502.9 204.1L503.2 203.3L503.6 204.7L503.9 202.0L504.3 203.5L504.6 203.8L505.0 203.7L505.3 204.3L505.7 204.2L506.0 203.2L506.4 202.6L506.7 204.2L507.1 203.3L507.4 204.2L507.8 204.6L508.2 203.5L508.5 202.4L508.9 203.0L509.2 204.1L509.6 203.1L509.9 204.5L510.3 203.4L510.6 203.5L511.0 202.7L511.3 203.3L511.7 204.5L512.0 203.1L512.4 203.1L512.7 202.7L513.1 204.2L513.4 201.9L513.8 202.8L514.1 204.4L514.5 204.9L514.8 203.3L515.2 204.5L515.5 201.5L515.9 204.3L516.2 203.8L516.6 202.3L516.9 201.8L517.3 203.0L517.7 203.8L518.0 203.9L518.4 203.7L518.7 204.4L519.1 204.3L519.4 202.2L519.8 203.2L520.1 203.1L520.5 204.7L520.8 203.2L521.2 204.7L521.5 203.8L521.9 206.0L522.2 203.6L522.6 203.7L522.9 203.6L523.3 203.9L523.6 206.2L524.0 203.2L524.3 202.9L524.7 203.6L525.0 204.4L525.4 202.8L525.7 204.6L526.1 204.6L526.4 203.6L526.8 203.6L527.2 203.0L527.5 203.6L527.9 203.0L528.2 205.1L528.6 205.5L528.9 203.6L529.3 203.8L529.6 202.0L530.0 203.4L530.3 204.2L530.7 204.2L531.0 204.0L531.4 204.8L531.7 204.0L532.1 203.6L532.4 205.5L532.8 202.0L533.1 202.8L533.5 203.2L533.8 203.3L534.2 203.2L534.5 203.8L534.9 203.3L535.2 204.0L535.6 204.6L535.9 204.1L536.3 204.2L536.7 203.1L537.0 202.9L537.4 203.8L537.7 205.0L538.1 204.4L538.4 205.2L538.8 205.1L539.1 205.2L539.5 203.3L539.8 205.3L540.2 204.9L540.5 206.2L540.9 204.7L541.2 204.5L541.6 204.0L541.9 204.3L542.3 202.5L542.6 203.9L543.0 204.1L543.3 205.2L543.7 203.5L544.0 204.3L544.4 206.0L544.7 203.7L545.1 205.0L545.4 203.7L545.8 204.1L546.2 204.7L546.5 205.1L546.9 203.7L547.2 203.2L547.6 205.7L547.9 204.4L548.3 205.0L548.6 205.1L549.0 204.9L549.3 203.9L549.7 204.0L550.0 202.6L550.4 204.3L550.7 203.6L551.1 204.0L551.4 205.8L551.8 204.6L552.1 203.8L552.5 202.3L552.8 204.1L553.2 204.5L553.5 201.8L553.9 202.5L554.2 200.9L554.6 200.5L554.9 199.5L555.3 197.5L555.7 198.0L556.0 196.7L556.4 199.9L556.7 200.0L557.1 199.8L557.4 200.7L557.8 201.2L558.1 202.0L558.5 202.4L558.8 202.3L559.2 202.5L559.5 201.3L559.9 201.4L560.2 201.3L560.6 201.4L560.9 199.8L561.3 200.9L561.6 197.5L562.0 196.0L562.3 195.6L562.7 195.6L563.0 196.6L563.4 196.6L563.7 196.3L564.1 198.2L564.4 200.7L564.8 201.2L565.2 202.7L565.5 202.6L565.9 204.8L566.2 205.0L566.6 205.0L566.9 204.2L567.3 202.6L567.6 203.0L568.0 204.7L568.3 205.1L568.7 201.7L569.0 204.1L569.4 205.8L569.7 205.6L570.1 204.2L570.4 205.4L570.8 204.8L571.1 204.6L571.5 205.9L571.8 205.9L572.2 204.3L572.5 203.9L572.9 203.6L573.2 203.5L573.6 206.2L573.9 206.7L574.3 205.1L574.7 206.0L575.0 204.3L575.4 204.9L575.7 205.9L576.1 205.3L576.4 204.9L576.8 203.4L577.1 203.6L577.5 204.6L577.8 204.5L578.2 204.9L578.5 204.4L578.9 204.8L579.2 205.1L579.6 205.5L579.9 205.1L580.3 204.5L580.6 204.8L581.0 205.9L581.3 204.9L581.7 204.1L582.0 204.1L582.4 205.3L582.7 205.6L583.1 206.3L583.4 204.8L583.8 206.4L584.2 204.7L584.5 204.9L584.9 204.5L585.2 205.6L585.6 206.1L585.9 205.1L586.3 204.6L586.6 203.6L587.0 205.2L587.3 204.7L587.7 204.9L588.0 204.5L588.4 204.2L588.7 204.6L589.1 205.5L589.4 206.0L589.8 205.0L590.1 205.3L590.5 204.8L590.8 204.8L591.2 203.6L591.5 205.7L591.9 205.4L592.2 206.1L592.6 204.0L592.9 204.5L593.3 203.2L593.7 204.0L594.0 203.2L594.4 203.4L594.7 202.0L595.1 202.1L595.4 200.4L595.8 201.0L596.1 200.0L596.5 200.0L596.8 201.0L597.2 201.9L597.5 200.8L597.9 201.3L598.2 203.6L598.6 203.8L598.9 202.2L599.3 202.8L599.6 203.9L600.0 205.1L600.3 205.1L600.7 206.0L601.0 206.2L601.4 207.4L601.7 203.7L602.1 205.1L602.5 206.2L602.8 204.0L603.2 203.9L603.5 205.4L603.9 206.3L604.2 206.5L604.6 203.6L604.9 204.1L605.3 205.2L605.6 204.8L606.0 205.6L606.3 205.5L606.7 207.1L607.0 205.3L607.4 205.5L607.7 205.4L608.1 206.4L608.4 204.3L608.8 205.8L609.1 204.6L609.5 204.0L609.8 206.6L610.2 205.9L610.5 206.8L610.9 205.7L611.2 206.1L611.6 205.6L612.0 206.0L612.3 205.0L612.7 207.1L613.0 204.6L613.4 207.1L613.7 205.3L614.1 206.3L614.4 205.6L614.8 205.9L615.1 206.9L615.5 205.6L615.8 204.6L616.2 205.7L616.5 206.1L616.9 203.1L617.2 206.5L617.6 206.6L617.9 203.8L618.3 205.4L618.6 206.3L619.0 204.4L619.3 205.1L619.7 205.2L620.0 206.1L620.4 206.6L620.7 205.5L621.1 205.6L621.5 206.4L621.8 206.0L622.2 205.4L622.5 206.8L622.9 204.1L623.2 205.6L623.6 205.1L623.9 205.0L624.3 205.6L624.6 205.5L625.0 207.8L625.3 206.0L625.7 205.7L626.0 207.0L626.4 206.3L626.7 203.5L627.1 205.4L627.4 205.9L627.8 204.6L628.1 205.4L628.5 204.6L628.8 205.4L629.2 203.3L629.5 202.9L629.9 204.2L630.2 204.9L630.6 205.9L631.0 204.2L631.3 203.6L631.7 205.2L632.0 204.2L632.4 205.8L632.7 203.8L633.1 201.9L633.4 202.9L633.8 202.6L634.1 202.0L634.5 202.5L634.8 202.5L635.2 202.8L635.5 202.4L635.9 203.3L636.2 203.3L636.6 203.0L636.9 203.0L637.3 201.0L637.6 201.2L638.0 202.1L638.3 203.3L638.7 201.7L639.0 202.8L639.4 203.6L639.7 205.4L640.1 203.8L640.5 203.2L640.8 204.9L641.2 204.2L641.5 203.8L641.9 205.3L642.2 203.5L642.6 204.7L642.9 204.7L643.3 205.6L643.6 203.7L644.0 203.6L644.3 204.6L644.7 204.8L645.0 205.2L645.4 204.8L645.7 205.7L646.1 206.0L646.4 205.6L646.8 204.4L647.1 206.6L647.5 204.0L647.8 205.3L648.2 206.5L648.5 205.0L648.9 206.9L649.2 207.5L649.6 207.2L650.0 206.1L650.3 206.7L650.7 205.2L651.0 206.1L651.4 206.2L651.7 205.8L652.1 205.9L652.4 205.6L652.8 203.8L653.1 206.2L653.5 206.1L653.8 207.8L654.2 206.5L654.5 205.9L654.9 206.7L655.2 206.4L655.6 205.8L655.9 205.4L656.3 204.4L656.6 205.9L657.0 207.4L657.3 204.0L657.7 204.9L658.0 206.6L658.4 206.0L658.7 206.2L659.1 204.0L659.5 205.2L659.8 206.3L660.2 206.4L660.5 206.1L660.9 204.9L661.2 206.2L661.6 204.5L661.9 204.7L662.3 204.4L662.6 206.9L663.0 204.9L663.3 205.2L663.7 202.8L664.0 205.8L664.4 205.0L664.7 202.6L665.1 202.3L665.4 205.3L665.8 202.4L666.1 205.0L666.5 202.6L666.8 200.5L667.2 204.2L667.5 203.8L667.9 204.2L668.2 203.3L668.6 203.9L669.0 205.4L669.3 203.9L669.7 202.9L670.0 206.0L670.4 204.7L670.7 206.7L671.1 205.0L671.4 205.2L671.8 205.4L672.1 203.4L672.5 206.9L672.8 205.1L673.2 205.6L673.5 207.2L673.9 205.9L674.2 206.7L674.6 206.1L674.9 206.5L675.3 206.0L675.6 206.8L676.0 205.4L676.3 206.0L676.7 204.7L677.0 206.5L677.4 203.0L677.7 205.1L678.1 205.1L678.5 204.8L678.8 204.2L679.2 205.2L679.5 205.7L679.9 202.8L680.2 201.3L680.6 202.0L680.9 202.3L681.3 203.1L681.6 203.4L682.0 204.8L682.3 203.6L682.7 204.3L683.0 204.7L683.4 203.9L683.7 204.7L684.1 208.0L684.4 205.3L684.8 204.5L685.1 203.4L685.5 206.7L685.8 205.4L686.2 205.1L686.5 208.2L686.9 207.2L687.2 204.1L687.6 205.5L688.0 206.8L688.3 206.6L688.7 204.6L689.0 207.5L689.4 207.5L689.7 204.5L690.1 203.8L690.4 204.1L690.8 206.1L691.1 206.4L691.5 205.3L691.8 204.4L692.2 204.7L692.5 205.2L692.9 203.2L693.2 202.5L693.6 203.9L693.9 204.9L694.3 203.6L694.6 203.4L695.0 202.3L695.3 203.6L695.7 200.8L696.0 202.3L696.4 201.7L696.7 202.1L697.1 201.3L697.5 203.1L697.8 202.4L698.2 202.1L698.5 203.4L698.9 203.1L699.2 202.9L699.6 203.1L699.9 204.7L700.3 203.2L700.6 204.1L701.0 204.3L701.3 205.1L701.7 204.7L702.0 207.2L702.4 203.4L702.7 205.8L703.1 205.2L703.4 206.4L703.8 203.7L704.1 206.5L704.5 203.9L704.8 205.9L705.2 205.7L705.5 205.0L705.9 204.0L706.2 203.6L706.6 203.9L707.0 202.3L707.3 200.0L707.7 198.7L708.0 199.6L708.4 197.6L708.7 195.2L709.1 192.8L709.4 192.0L709.8 191.9L710.1 192.6L710.5 193.3L710.8 195.4L711.2 197.1L711.5 200.3L711.9 200.7L712.2 202.7L712.6 205.1L712.9 204.1L713.3 205.9L713.6 206.8L714.0 203.6L714.3 204.2L714.7 206.2L715.0 205.1L715.4 206.4L715.7 206.7L716.1 205.5L716.5 206.9L716.8 207.9L717.2 207.1L717.5 205.3L717.9 206.1L718.2 205.7L718.6 207.9L718.9 206.1L719.3 205.6L719.6 206.4L720.0 206.9L720.3 206.0L720.7 206.5L721.0 206.4L721.4 207.2L721.7 207.4L722.1 206.7L722.4 206.0L722.8 206.9L723.1 205.6L723.5 207.6L723.8 206.9L724.2 206.8L724.5 204.1L724.9 208.9L725.2 208.0L725.6 207.8L726.0 206.7L726.3 207.3L726.7 209.4L727.0 205.9L727.4 207.4L727.7 207.2L728.1 206.8L728.4 207.0L728.8 205.7L729.1 207.3L729.5 205.3L729.8 208.5L730.2 207.5L730.5 205.8L730.9 204.6L731.2 206.8L731.6 207.2L731.9 205.7L732.3 208.4L732.6 207.0L733.0 206.3L733.3 205.3L733.7 206.6L734.0 206.5L734.4 207.4L734.7 207.8L735.1 206.8L735.5 207.2L735.8 208.2L736.2 207.4L736.5 206.5L736.9 207.4L737.2 206.3L737.6 207.2L737.9 206.8L738.3 205.7L738.6 207.4L739.0 206.9L739.3 207.5L739.7 205.5L740.0 207.9L740.4 208.0L740.7 206.5L741.1 206.7L741.4 206.9L741.8 206.8L742.1 207.7L742.5 206.1L742.8 205.7L743.2 206.6L743.5 208.7L743.9 206.4L744.2 205.8L744.6 205.9L745.0 207.0L745.3 208.0L745.7 206.1L746.0 207.0L746.4 207.0L746.7 207.3L747.1 207.0L747.4 207.9L747.8 207.5L748.1 206.2L748.5 209.3L748.8 205.5L749.2 205.5L749.5 207.9L749.9 207.0L750.2 206.6L750.6 207.0L750.9 207.5L751.3 206.4L751.6 206.2L752.0 205.8L752.3 206.0L752.7 206.1L753.0 208.0L753.4 207.1L753.7 207.4L754.1 206.3L754.5 207.9L754.8 205.3L755.2 207.3L755.5 207.5L755.9 206.3L756.2 205.8L756.6 207.4L756.9 206.1L757.3 206.0L757.6 206.8L758.0 205.7L758.3 206.7L758.7 208.9L759.0 206.4L759.4 207.7L759.7 205.8L760.1 206.9L760.4 206.6L760.8 206.7L761.1 207.6L761.5 209.0L761.8 206.7L762.2 208.1L762.5 207.2L762.9 207.5L763.2 206.3L763.6 206.1L764.0 206.6L764.3 206.0L764.7 206.8L765.0 205.7L765.4 206.7L765.7 206.9L766.1 208.5L766.4 208.4L766.8 207.1L767.1 206.1L767.5 207.2L767.8 207.3L768.2 206.2L768.5 205.5L768.9 204.5L769.2 206.2L769.6 208.0L769.9 205.8L770.3 206.2L770.6 206.0L771.0 206.0L771.3 206.1L771.7 203.1L772.0 204.7L772.4 205.0L772.7 204.2L773.1 205.3L773.5 203.4L773.8 204.4L774.2 205.0L774.5 202.7L774.9 202.7L775.2 202.2L775.6 203.0L775.9 200.0L776.3 200.6L776.6 201.7L777.0 202.8L777.3 202.6L777.7 201.3L778.0 203.9L778.4 202.5L778.7 201.9L779.1 203.2L779.4 204.1L779.8 202.8L780.1 201.4L780.5 202.4L780.8 203.1L781.2 204.0L781.5 202.0L781.9 203.3L782.2 201.9L782.6 203.2L783.0 201.9L783.3 202.9L783.7 202.1L784.0 202.9L784.4 202.6L784.7 202.5L785.1 206.0L785.4 206.3L785.8 205.9L786.1 205.3L786.5 207.4L786.8 205.8L787.2 206.7L787.5 207.6L787.9 206.8L788.2 208.2L788.6 206.7L788.9 206.7L789.3 207.1L789.6 205.9L790.0 206.0L790.3 207.9L790.7 205.4L791.0 208.3L791.4 207.5L791.7 208.4L792.1 208.0L792.5 207.9L792.8 209.1L793.2 207.3L793.5 207.2L793.9 208.5L794.2 206.7L794.6 208.5L794.9 208.1L795.3 206.9L795.6 206.2L796.0 205.4L796.3 209.3L796.7 206.0L797.0 206.3L797.4 208.4L797.7 208.0L798.1 207.7L798.4 207.6L798.8 207.1L799.1 206.6L799.5 206.8L799.8 208.1L800.2 208.6L800.5 208.7L800.9 207.5L801.2 205.3L801.6 208.1L802.0 207.4L802.3 204.9L802.7 209.0L803.0 207.8L803.4 207.5L803.7 207.8L804.1 207.7L804.4 207.8L804.8 207.7L805.1 207.6L805.5 208.1L805.8 207.9L806.2 210.0L806.5 207.7L806.9 207.0L807.2 206.9L807.6 207.8L807.9 207.4L808.3 207.5L808.6 206.8L809.0 206.6L809.3 207.2L809.7 207.4L810.0 205.9L810.4 204.8L810.8 203.1L811.1 202.5L811.5 203.2L811.8 202.7L812.2 202.9L812.5 202.2L812.9 203.8L813.2 202.6L813.6 204.0L813.9 205.0L814.3 206.9L814.6 206.1L815.0 206.0L815.3 207.5L815.7 207.3L816.0 208.4L816.4 207.9L816.7 207.8L817.1 207.5L817.4 208.4L817.8 207.0L818.1 206.2L818.5 208.7L818.8 207.3L819.2 207.9L819.5 208.5L819.9 208.9L820.3 205.0L820.6 206.8L821.0 209.1L821.3 206.2L821.7 208.4L822.0 207.6L822.4 207.0L822.7 207.8L823.1 206.3L823.4 208.4L823.8 209.2L824.1 206.6L824.5 207.3L824.8 209.2L825.2 208.4L825.5 207.7L825.9 209.5L826.2 206.3L826.6 207.8L826.9 208.1L827.3 207.7L827.6 208.9L828.0 206.4L828.3 208.1L828.7 207.3L829.0 209.3L829.4 209.1L829.8 207.4L830.1 207.0L830.5 208.1L830.8 207.3L831.2 207.6L831.5 208.6L831.9 207.7L832.2 210.0L832.6 208.2L832.9 207.6L833.3 207.0L833.6 207.7L834.0 209.3L834.3 208.7L834.7 209.6L835.0 209.5L835.4 208.8L835.7 207.5L836.1 208.1L836.4 208.3L836.8 206.6L837.1 208.6L837.5 207.2L837.8 208.2L838.2 207.7L838.5 208.9L838.9 210.9L839.3 207.1L839.6 208.3L840.0 210.3L840.3 207.4L840.7 208.1L841.0 208.2L841.4 208.6L841.7 206.7L842.1 208.6L842.4 208.9L842.8 210.9L843.1 208.3L843.5 207.8L843.8 208.5L844.2 205.8L844.5 208.7L844.9 210.0L845.2 208.4L845.6 208.4L845.9 208.2L846.3 208.6L846.6 207.2L847.0 210.0L847.3 208.0L847.7 208.0L848.0 210.1L848.4 208.5L848.8 208.0L849.1 210.1L849.5 208.7L849.8 209.4L850.2 207.9L850.5 206.7L850.9 208.7L851.2 210.0L851.6 208.1L851.9 208.9L852.3 209.3L852.6 208.8L853.0 208.6L853.3 209.3L853.7 208.8L854.0 208.0L854.4 209.6L854.7 209.4L855.1 208.9L855.4 209.3L855.8 205.9L856.1 208.8L856.5 208.6L856.8 206.6L857.2 210.7L857.5 208.9L857.9 208.2L858.3 208.2L858.6 208.9L859.0 208.6L859.3 207.0L859.7 208.2L860.0 209.1L860.4 209.2L860.7 209.5L861.1 207.6L861.4 208.0L861.8 209.0L862.1 208.0L862.5 208.9L862.8 207.8L863.2 209.2L863.5 208.7L863.9 209.3L864.2 208.7L864.6 207.9L864.9 207.5L865.3 208.7L865.6 208.1L866.0 207.2L866.3 208.2L866.7 209.5L867.0 210.0L867.4 209.5L867.8 210.1L868.1 208.4L868.5 208.6L868.8 207.8L869.2 208.0L869.5 210.4L869.9 209.2L870.2 209.4L870.6 211.4L870.9 210.7L871.3 207.9L871.6 209.8L872.0 208.0L872.3 209.8L872.7 206.9L873.0 207.8L873.4 207.9L873.7 210.8L874.1 207.0L874.4 209.9L874.8 209.9L875.1 208.9L875.5 209.7L875.8 211.4L876.2 209.1L876.5 208.6L876.9 210.2L877.3 209.6L877.6 207.7L878.0 209.0L878.3 209.1L878.7 207.7L879.0 207.9L879.4 208.2L879.7 207.6L880.1 209.4L880.4 209.2L880.8 206.6L881.1 208.4L881.5 209.0L881.8 207.5L882.2 208.6L882.5 209.2L882.9 207.2L883.2 208.6L883.6 206.5L883.9 209.6L884.3 208.1L884.6 207.4L885.0 207.0L885.3 207.2L885.7 210.2L886.0 208.0L886.4 208.3L886.8 208.5L887.1 207.3L887.5 209.6L887.8 206.3L888.2 209.8L888.5 208.1L888.9 208.9L889.2 209.2L889.6 209.7L889.9 207.6L890.3 209.5L890.6 208.8L891.0 208.7L891.3 208.6L891.7 210.0L892.0 209.4L892.4 210.2L892.7 209.8L893.1 206.9L893.4 208.8L893.8 209.9L894.1 208.0L894.5 207.2L894.8 206.6L895.2 210.9L895.5 208.0L895.9 209.1L896.3 207.8L896.6 209.4L897.0 210.6L897.3 207.4L897.7 208.9L898.0 208.2L898.4 207.0L898.7 208.0L899.1 209.0L899.4 210.2L899.8 210.3L900.1 208.9L900.5 207.3L900.8 209.6L901.2 209.0L901.5 209.0L901.9 207.8L902.2 208.8L902.6 211.0L902.9 210.5L903.3 210.3L903.6 209.7L904.0 208.6L904.3 209.0L904.7 209.2L905.0 209.4L905.4 208.7L905.8 208.1L906.1 210.2L906.5 208.6L906.8 209.9L907.2 208.8L907.5 209.7L907.9 209.6L908.2 209.8L908.6 209.7L908.9 208.1L909.3 207.7L909.6 209.0L910.0 210.7L910.3 208.2L910.7 208.1L911.0 211.4L911.4 207.5L911.7 208.5L912.1 208.7L912.4 208.4L912.8 208.4L913.1 210.2L913.5 209.3L913.8 209.3L914.2 207.4L914.5 209.9L914.9 209.3L915.3 209.3L915.6 210.0L916.0 209.4L916.3 209.1L916.7 209.5L917.0 208.4L917.4 208.2L917.7 207.7L918.1 210.1L918.4 208.5L918.8 209.3L919.1 210.3L919.5 211.0L919.8 208.8L920.2 209.3L920.5 209.3L920.9 207.8L921.2 208.7L921.6 212.0L921.9 209.1L922.3 211.0L922.6 210.0L923.0 211.0L923.3 210.5L923.7 209.4L924.0 207.9L924.4 210.7L924.8 209.9L925.1 209.7L925.5 210.1L925.8 208.4L926.2 209.3L926.5 209.2L926.9 207.7L927.2 208.0L927.6 209.1L927.9 207.0L928.3 210.0L928.6 210.0L929.0 209.2L929.3 209.5L929.7 207.4L930.0 209.4L930.4 210.0L930.7 209.8L931.1 210.2L931.4 209.2L931.8 211.3L932.1 209.7L932.5 210.1L932.8 210.4L933.2 208.5L933.5 208.1L933.9 210.1L934.3 208.0L934.6 208.7L935.0 210.3L935.3 208.2L935.7 208.3L936.0 208.0L936.4 208.2L936.7 211.2L937.1 209.9L937.4 210.3L937.8 207.3L938.1 206.9L938.5 208.1L938.8 210.4L939.2 210.5L939.5 207.3L939.9 207.5L940.2 210.0L940.6 209.6L940.9 209.8L941.3 210.0L941.6 208.3L942.0 209.5L942.3 209.1L942.7 210.6L943.0 209.0L943.4 207.4L943.8 210.6L944.1 211.2L944.5 210.3L944.8 209.0L945.2 208.4L945.5 210.4L945.9 208.8L946.2 209.9L946.6 210.2L946.9 209.2L947.3 207.3L947.6 209.9L948.0 208.4L948.3 207.8L948.7 209.3L949.0 209.5L949.4 209.3L949.7 210.0L950.1 207.5L950.4 210.0L950.8 211.1L951.1 209.3L951.5 208.9L951.8 209.2L952.2 210.7L952.5 209.2L952.9 208.6L953.3 207.7L953.6 210.9L954.0 210.9L954.3 209.5L954.7 211.6L955.0 209.0L955.4 210.2L955.7 208.1L956.1 208.4" stroke="#ff00ff" stroke-width="3.2"/>
</g>
<rect x="76.7" y="4.7" width="938.2" height="689.6" fill="none" stroke="#000" stroke-width="3" stroke-linejoin="round"/>
<path d="M135.3 694.3V681.6M252.6 694.3V681.6M369.9 694.3V681.6M487.2 694.3V681.6M604.4 694.3V681.6M721.7 694.3V681.6M839.0 694.3V681.6M956.3 694.3V681.6M193.9 694.3V688.4M311.2 694.3V688.4M428.5 694.3V688.4M545.8 694.3V688.4M663.1 694.3V688.4M780.4 694.3V688.4M897.7 694.3V688.4" stroke="#000" stroke-width="3" stroke-linecap="round" fill="none"/>
<g font-size="35.5" text-anchor="middle"><text transform="translate(135.3 736.3) scale(0.95 1)">10</text><text transform="translate(252.6 736.3) scale(0.95 1)">20</text><text transform="translate(369.9 736.3) scale(0.95 1)">30</text><text transform="translate(487.2 736.3) scale(0.95 1)">40</text><text transform="translate(604.4 736.3) scale(0.95 1)">50</text><text transform="translate(721.7 736.3) scale(0.95 1)">60</text><text transform="translate(839.0 736.3) scale(0.95 1)">70</text><text transform="translate(956.3 736.3) scale(0.95 1)">80</text></g>
<text x="563.5" y="782.4" font-size="39.5" text-anchor="middle">2<tspan font-family="Liberation Serif, serif" font-weight="normal" font-size="37.5" dy="0.6">θ</tspan><tspan font-weight="normal" dy="-0.6">/</tspan>degree</text>
<text transform="translate(33 337.8) rotate(-90)" font-size="40.8" letter-spacing="-0.3" text-anchor="middle">Intensity<tspan font-weight="normal">/</tspan>a.u.</text>
<g font-size="35.5" text-anchor="middle" letter-spacing="0.6">
<text x="171.7" y="123.5">(020)</text>
<text x="319.8" y="73.5">(040)</text>
<text x="371" y="117.7">(021)</text>
<text x="476.5" y="116.3">(060)</text>
</g>
<g font-size="36">
<text x="859.8" y="194">MS50</text>
<text x="857.8" y="304">MS30</text>
<text x="858" y="412.2">MS10</text>
<text x="873.6" y="518.8">MS5</text>
<text x="859.5" y="618.5">MoO<tspan font-size="20.5" dx="2" dy="14.6">3</tspan></text>
</g>
</svg>
</body></html>
